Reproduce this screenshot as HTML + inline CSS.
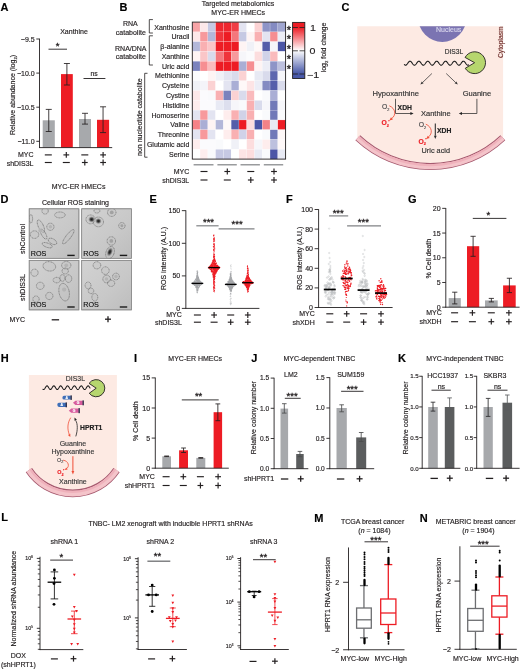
<!DOCTYPE html>
<html lang="en"><head><meta charset="utf-8"><title>Figure</title>
<style>
html,body{margin:0;padding:0;background:#fff;}
body{width:520px;height:669px;overflow:hidden;}
svg{display:block;font-family:"Liberation Sans", Arial, Helvetica, sans-serif;}
svg text{white-space:pre;}
</style></head><body>
<svg width="520" height="669" viewBox="0 0 520 669">
<rect width="520" height="669" fill="#ffffff"/>
<g id="panelA">
<text x="0.60" y="10.86" font-size="11" text-anchor="start" font-weight="bold" fill="#000" stroke="#000" stroke-width="0.16" >A</text>
<text x="74.00" y="34.32" font-size="7" text-anchor="middle" fill="#231f20" stroke="#231f20" stroke-width="0.16" >Xanthine</text>
<rect x="42.70" y="120.30" width="12.10" height="27.30" fill="#a7a9ac"/>
<line x1="48.75" y1="109.40" x2="48.75" y2="131.50" stroke="#231f20" stroke-width="0.85" stroke-linecap="butt"/>
<line x1="45.75" y1="109.40" x2="51.75" y2="109.40" stroke="#231f20" stroke-width="0.85" stroke-linecap="butt"/>
<line x1="45.75" y1="131.50" x2="51.75" y2="131.50" stroke="#231f20" stroke-width="0.85" stroke-linecap="butt"/>
<rect x="61.00" y="74.10" width="11.80" height="73.50" fill="#ed1c24"/>
<line x1="66.90" y1="63.50" x2="66.90" y2="85.00" stroke="#231f20" stroke-width="0.85" stroke-linecap="butt"/>
<line x1="63.90" y1="63.50" x2="69.90" y2="63.50" stroke="#231f20" stroke-width="0.85" stroke-linecap="butt"/>
<line x1="63.90" y1="85.00" x2="69.90" y2="85.00" stroke="#231f20" stroke-width="0.85" stroke-linecap="butt"/>
<rect x="79.00" y="119.00" width="12.00" height="28.60" fill="#a7a9ac"/>
<line x1="85.00" y1="113.30" x2="85.00" y2="124.10" stroke="#231f20" stroke-width="0.85" stroke-linecap="butt"/>
<line x1="82.00" y1="113.30" x2="88.00" y2="113.30" stroke="#231f20" stroke-width="0.85" stroke-linecap="butt"/>
<line x1="82.00" y1="124.10" x2="88.00" y2="124.10" stroke="#231f20" stroke-width="0.85" stroke-linecap="butt"/>
<rect x="97.00" y="119.80" width="12.10" height="27.80" fill="#ed1c24"/>
<line x1="103.05" y1="106.80" x2="103.05" y2="132.60" stroke="#231f20" stroke-width="0.85" stroke-linecap="butt"/>
<line x1="100.05" y1="106.80" x2="106.05" y2="106.80" stroke="#231f20" stroke-width="0.85" stroke-linecap="butt"/>
<line x1="100.05" y1="132.60" x2="106.05" y2="132.60" stroke="#231f20" stroke-width="0.85" stroke-linecap="butt"/>
<line x1="39.50" y1="38.65" x2="39.50" y2="147.95" stroke="#231f20" stroke-width="0.9" stroke-linecap="butt"/>
<line x1="36.30" y1="39.00" x2="39.50" y2="39.00" stroke="#231f20" stroke-width="0.9" stroke-linecap="butt"/>
<text x="34.70" y="41.52" font-size="7" text-anchor="end" fill="#231f20" stroke="#231f20" stroke-width="0.16" >−9.5</text>
<line x1="36.30" y1="73.10" x2="39.50" y2="73.10" stroke="#231f20" stroke-width="0.9" stroke-linecap="butt"/>
<text x="34.70" y="75.62" font-size="7" text-anchor="end" fill="#231f20" stroke="#231f20" stroke-width="0.16" >−10.0</text>
<line x1="36.30" y1="107.20" x2="39.50" y2="107.20" stroke="#231f20" stroke-width="0.9" stroke-linecap="butt"/>
<text x="34.70" y="109.72" font-size="7" text-anchor="end" fill="#231f20" stroke="#231f20" stroke-width="0.16" >−10.5</text>
<line x1="36.30" y1="141.30" x2="39.50" y2="141.30" stroke="#231f20" stroke-width="0.9" stroke-linecap="butt"/>
<text x="34.70" y="143.82" font-size="7" text-anchor="end" fill="#231f20" stroke="#231f20" stroke-width="0.16" >−11.0</text>
<line x1="39.05" y1="147.60" x2="112.20" y2="147.60" stroke="#231f20" stroke-width="0.9" stroke-linecap="butt"/>
<text x="57.70" y="49.07" font-size="9.5" text-anchor="middle" fill="#231f20" stroke="#231f20" stroke-width="0.32">*</text>
<line x1="48.50" y1="49.20" x2="67.00" y2="49.20" stroke="#231f20" stroke-width="0.9" stroke-linecap="butt"/>
<text x="94.20" y="76.25" font-size="6.8" text-anchor="middle" fill="#231f20" stroke="#231f20" stroke-width="0.16" >ns</text>
<line x1="83.50" y1="78.50" x2="105.40" y2="78.50" stroke="#231f20" stroke-width="0.9" stroke-linecap="butt"/>
<text x="33.50" y="156.82" font-size="7" text-anchor="end" fill="#231f20" stroke="#231f20" stroke-width="0.16" >MYC</text>
<text x="33.50" y="165.52" font-size="7" text-anchor="end" fill="#231f20" stroke="#231f20" stroke-width="0.16" >shDIS3L</text>
<line x1="44.80" y1="154.90" x2="51.80" y2="154.90" stroke="#231f20" stroke-width="1.15" stroke-linecap="butt"/>
<line x1="63.40" y1="154.90" x2="69.20" y2="154.90" stroke="#231f20" stroke-width="1.15" stroke-linecap="butt"/>
<line x1="66.30" y1="152.00" x2="66.30" y2="157.80" stroke="#231f20" stroke-width="1.15" stroke-linecap="butt"/>
<line x1="81.30" y1="154.90" x2="88.30" y2="154.90" stroke="#231f20" stroke-width="1.15" stroke-linecap="butt"/>
<line x1="100.20" y1="154.90" x2="106.00" y2="154.90" stroke="#231f20" stroke-width="1.15" stroke-linecap="butt"/>
<line x1="103.10" y1="152.00" x2="103.10" y2="157.80" stroke="#231f20" stroke-width="1.15" stroke-linecap="butt"/>
<line x1="44.80" y1="162.50" x2="51.80" y2="162.50" stroke="#231f20" stroke-width="1.15" stroke-linecap="butt"/>
<line x1="62.80" y1="162.50" x2="69.80" y2="162.50" stroke="#231f20" stroke-width="1.15" stroke-linecap="butt"/>
<line x1="81.90" y1="162.50" x2="87.70" y2="162.50" stroke="#231f20" stroke-width="1.15" stroke-linecap="butt"/>
<line x1="84.80" y1="159.60" x2="84.80" y2="165.40" stroke="#231f20" stroke-width="1.15" stroke-linecap="butt"/>
<line x1="100.20" y1="162.50" x2="106.00" y2="162.50" stroke="#231f20" stroke-width="1.15" stroke-linecap="butt"/>
<line x1="103.10" y1="159.60" x2="103.10" y2="165.40" stroke="#231f20" stroke-width="1.15" stroke-linecap="butt"/>
<text transform="translate(12.60,95.00) rotate(-90)" x="0" y="2.52" font-size="7" text-anchor="middle" fill="#231f20" stroke="#231f20" stroke-width="0.16" >Relative abundance (log<tspan font-size="4.2" dy="1.4">2</tspan><tspan dy="-1.4">)</tspan></text>
</g>
<g id="panelB">
<text x="119.40" y="10.96" font-size="11" text-anchor="start" font-weight="bold" fill="#000" stroke="#000" stroke-width="0.16" >B</text>
<text x="238.00" y="6.22" font-size="7" text-anchor="middle" fill="#231f20" stroke="#231f20" stroke-width="0.16" >Targeted metabolomics</text>
<text x="238.20" y="14.72" font-size="7" text-anchor="middle" fill="#231f20" stroke="#231f20" stroke-width="0.16" >MYC-ER HMECs</text>
<rect x="192.30" y="22.10" width="7.83" height="9.84" fill="#f8a4a7" stroke="#ffffff" stroke-opacity="0.55" stroke-width="0.35"/>
<rect x="200.08" y="22.10" width="7.83" height="9.84" fill="#fde8e9" stroke="#ffffff" stroke-opacity="0.55" stroke-width="0.35"/>
<rect x="207.85" y="22.10" width="7.83" height="9.84" fill="#c6c9e3" stroke="#ffffff" stroke-opacity="0.55" stroke-width="0.35"/>
<rect x="215.62" y="22.10" width="7.83" height="9.84" fill="#ee272f" stroke="#ffffff" stroke-opacity="0.55" stroke-width="0.35"/>
<rect x="223.40" y="22.10" width="7.83" height="9.84" fill="#ee272f" stroke="#ffffff" stroke-opacity="0.55" stroke-width="0.35"/>
<rect x="231.18" y="22.10" width="7.83" height="9.84" fill="#f03e45" stroke="#ffffff" stroke-opacity="0.55" stroke-width="0.35"/>
<rect x="238.95" y="22.10" width="7.83" height="9.84" fill="#e3e4f1" stroke="#ffffff" stroke-opacity="0.55" stroke-width="0.35"/>
<rect x="246.73" y="22.10" width="7.83" height="9.84" fill="#ffffff" stroke="#ffffff" stroke-opacity="0.55" stroke-width="0.35"/>
<rect x="254.50" y="22.10" width="7.83" height="9.84" fill="#fbd2d3" stroke="#ffffff" stroke-opacity="0.55" stroke-width="0.35"/>
<rect x="262.28" y="22.10" width="7.83" height="9.84" fill="#8e94c7" stroke="#ffffff" stroke-opacity="0.55" stroke-width="0.35"/>
<rect x="270.05" y="22.10" width="7.83" height="9.84" fill="#848bc2" stroke="#ffffff" stroke-opacity="0.55" stroke-width="0.35"/>
<rect x="277.83" y="22.10" width="7.83" height="9.84" fill="#a0a6d0" stroke="#ffffff" stroke-opacity="0.55" stroke-width="0.35"/>
<text x="189.30" y="29.51" font-size="7" text-anchor="end" fill="#231f20" stroke="#231f20" stroke-width="0.16" >Xanthosine</text>
<rect x="192.30" y="31.89" width="7.83" height="9.84" fill="#fde8e9" stroke="#ffffff" stroke-opacity="0.55" stroke-width="0.35"/>
<rect x="200.08" y="31.89" width="7.83" height="9.84" fill="#f7999c" stroke="#ffffff" stroke-opacity="0.55" stroke-width="0.35"/>
<rect x="207.85" y="31.89" width="7.83" height="9.84" fill="#b3b7d9" stroke="#ffffff" stroke-opacity="0.55" stroke-width="0.35"/>
<rect x="215.62" y="31.89" width="7.83" height="9.84" fill="#ef333a" stroke="#ffffff" stroke-opacity="0.55" stroke-width="0.35"/>
<rect x="223.40" y="31.89" width="7.83" height="9.84" fill="#ed1c24" stroke="#ffffff" stroke-opacity="0.55" stroke-width="0.35"/>
<rect x="231.18" y="31.89" width="7.83" height="9.84" fill="#f4777c" stroke="#ffffff" stroke-opacity="0.55" stroke-width="0.35"/>
<rect x="238.95" y="31.89" width="7.83" height="9.84" fill="#c6c9e3" stroke="#ffffff" stroke-opacity="0.55" stroke-width="0.35"/>
<rect x="246.73" y="31.89" width="7.83" height="9.84" fill="#fef4f4" stroke="#ffffff" stroke-opacity="0.55" stroke-width="0.35"/>
<rect x="254.50" y="31.89" width="7.83" height="9.84" fill="#f9b0b2" stroke="#ffffff" stroke-opacity="0.55" stroke-width="0.35"/>
<rect x="262.28" y="31.89" width="7.83" height="9.84" fill="#e3e4f1" stroke="#ffffff" stroke-opacity="0.55" stroke-width="0.35"/>
<rect x="270.05" y="31.89" width="7.83" height="9.84" fill="#f68e92" stroke="#ffffff" stroke-opacity="0.55" stroke-width="0.35"/>
<rect x="277.83" y="31.89" width="7.83" height="9.84" fill="#ecedf6" stroke="#ffffff" stroke-opacity="0.55" stroke-width="0.35"/>
<text x="189.30" y="39.30" font-size="7" text-anchor="end" fill="#231f20" stroke="#231f20" stroke-width="0.16" >Uracil</text>
<rect x="192.30" y="41.67" width="7.83" height="9.84" fill="#b3b7d9" stroke="#ffffff" stroke-opacity="0.55" stroke-width="0.35"/>
<rect x="200.08" y="41.67" width="7.83" height="9.84" fill="#f9b0b2" stroke="#ffffff" stroke-opacity="0.55" stroke-width="0.35"/>
<rect x="207.85" y="41.67" width="7.83" height="9.84" fill="#fac6c8" stroke="#ffffff" stroke-opacity="0.55" stroke-width="0.35"/>
<rect x="215.62" y="41.67" width="7.83" height="9.84" fill="#ed1c24" stroke="#ffffff" stroke-opacity="0.55" stroke-width="0.35"/>
<rect x="223.40" y="41.67" width="7.83" height="9.84" fill="#ed1c24" stroke="#ffffff" stroke-opacity="0.55" stroke-width="0.35"/>
<rect x="231.18" y="41.67" width="7.83" height="9.84" fill="#ed1c24" stroke="#ffffff" stroke-opacity="0.55" stroke-width="0.35"/>
<rect x="238.95" y="41.67" width="7.83" height="9.84" fill="#fef4f4" stroke="#ffffff" stroke-opacity="0.55" stroke-width="0.35"/>
<rect x="246.73" y="41.67" width="7.83" height="9.84" fill="#f0f1f7" stroke="#ffffff" stroke-opacity="0.55" stroke-width="0.35"/>
<rect x="254.50" y="41.67" width="7.83" height="9.84" fill="#fef8f8" stroke="#ffffff" stroke-opacity="0.55" stroke-width="0.35"/>
<rect x="262.28" y="41.67" width="7.83" height="9.84" fill="#555eaa" stroke="#ffffff" stroke-opacity="0.55" stroke-width="0.35"/>
<rect x="270.05" y="41.67" width="7.83" height="9.84" fill="#f6f6fa" stroke="#ffffff" stroke-opacity="0.55" stroke-width="0.35"/>
<rect x="277.83" y="41.67" width="7.83" height="9.84" fill="#4b55a6" stroke="#ffffff" stroke-opacity="0.55" stroke-width="0.35"/>
<text x="189.30" y="49.08" font-size="7" text-anchor="end" fill="#231f20" stroke="#231f20" stroke-width="0.16" >β-alanine</text>
<rect x="192.30" y="51.46" width="7.83" height="9.84" fill="#fef4f4" stroke="#ffffff" stroke-opacity="0.55" stroke-width="0.35"/>
<rect x="200.08" y="51.46" width="7.83" height="9.84" fill="#fac6c8" stroke="#ffffff" stroke-opacity="0.55" stroke-width="0.35"/>
<rect x="207.85" y="51.46" width="7.83" height="9.84" fill="#d9dbec" stroke="#ffffff" stroke-opacity="0.55" stroke-width="0.35"/>
<rect x="215.62" y="51.46" width="7.83" height="9.84" fill="#f4777c" stroke="#ffffff" stroke-opacity="0.55" stroke-width="0.35"/>
<rect x="223.40" y="51.46" width="7.83" height="9.84" fill="#ef333a" stroke="#ffffff" stroke-opacity="0.55" stroke-width="0.35"/>
<rect x="231.18" y="51.46" width="7.83" height="9.84" fill="#f7999c" stroke="#ffffff" stroke-opacity="0.55" stroke-width="0.35"/>
<rect x="238.95" y="51.46" width="7.83" height="9.84" fill="#f6f6fa" stroke="#ffffff" stroke-opacity="0.55" stroke-width="0.35"/>
<rect x="246.73" y="51.46" width="7.83" height="9.84" fill="#fbfbfd" stroke="#ffffff" stroke-opacity="0.55" stroke-width="0.35"/>
<rect x="254.50" y="51.46" width="7.83" height="9.84" fill="#fcddde" stroke="#ffffff" stroke-opacity="0.55" stroke-width="0.35"/>
<rect x="262.28" y="51.46" width="7.83" height="9.84" fill="#d0d2e8" stroke="#ffffff" stroke-opacity="0.55" stroke-width="0.35"/>
<rect x="270.05" y="51.46" width="7.83" height="9.84" fill="#fabbbd" stroke="#ffffff" stroke-opacity="0.55" stroke-width="0.35"/>
<rect x="277.83" y="51.46" width="7.83" height="9.84" fill="#ffffff" stroke="#ffffff" stroke-opacity="0.55" stroke-width="0.35"/>
<text x="189.30" y="58.87" font-size="7" text-anchor="end" fill="#231f20" stroke="#231f20" stroke-width="0.16" >Xanthine</text>
<rect x="192.30" y="61.24" width="7.83" height="9.84" fill="#7b82bd" stroke="#ffffff" stroke-opacity="0.55" stroke-width="0.35"/>
<rect x="200.08" y="61.24" width="7.83" height="9.84" fill="#f68e92" stroke="#ffffff" stroke-opacity="0.55" stroke-width="0.35"/>
<rect x="207.85" y="61.24" width="7.83" height="9.84" fill="#fabbbd" stroke="#ffffff" stroke-opacity="0.55" stroke-width="0.35"/>
<rect x="215.62" y="61.24" width="7.83" height="9.84" fill="#ed1c24" stroke="#ffffff" stroke-opacity="0.55" stroke-width="0.35"/>
<rect x="223.40" y="61.24" width="7.83" height="9.84" fill="#ed1c24" stroke="#ffffff" stroke-opacity="0.55" stroke-width="0.35"/>
<rect x="231.18" y="61.24" width="7.83" height="9.84" fill="#ed1c24" stroke="#ffffff" stroke-opacity="0.55" stroke-width="0.35"/>
<rect x="238.95" y="61.24" width="7.83" height="9.84" fill="#aaaed5" stroke="#ffffff" stroke-opacity="0.55" stroke-width="0.35"/>
<rect x="246.73" y="61.24" width="7.83" height="9.84" fill="#f68e92" stroke="#ffffff" stroke-opacity="0.55" stroke-width="0.35"/>
<rect x="254.50" y="61.24" width="7.83" height="9.84" fill="#fef4f4" stroke="#ffffff" stroke-opacity="0.55" stroke-width="0.35"/>
<rect x="262.28" y="61.24" width="7.83" height="9.84" fill="#ecedf6" stroke="#ffffff" stroke-opacity="0.55" stroke-width="0.35"/>
<rect x="270.05" y="61.24" width="7.83" height="9.84" fill="#8e94c7" stroke="#ffffff" stroke-opacity="0.55" stroke-width="0.35"/>
<rect x="277.83" y="61.24" width="7.83" height="9.84" fill="#bdc0de" stroke="#ffffff" stroke-opacity="0.55" stroke-width="0.35"/>
<text x="189.30" y="68.66" font-size="7" text-anchor="end" fill="#231f20" stroke="#231f20" stroke-width="0.16" >Uric acid</text>
<rect x="192.30" y="71.03" width="7.83" height="9.84" fill="#fbfbfd" stroke="#ffffff" stroke-opacity="0.55" stroke-width="0.35"/>
<rect x="200.08" y="71.03" width="7.83" height="9.84" fill="#ffffff" stroke="#ffffff" stroke-opacity="0.55" stroke-width="0.35"/>
<rect x="207.85" y="71.03" width="7.83" height="9.84" fill="#fef4f4" stroke="#ffffff" stroke-opacity="0.55" stroke-width="0.35"/>
<rect x="215.62" y="71.03" width="7.83" height="9.84" fill="#f0f1f7" stroke="#ffffff" stroke-opacity="0.55" stroke-width="0.35"/>
<rect x="223.40" y="71.03" width="7.83" height="9.84" fill="#e3e4f1" stroke="#ffffff" stroke-opacity="0.55" stroke-width="0.35"/>
<rect x="231.18" y="71.03" width="7.83" height="9.84" fill="#d9dbec" stroke="#ffffff" stroke-opacity="0.55" stroke-width="0.35"/>
<rect x="238.95" y="71.03" width="7.83" height="9.84" fill="#fbd2d3" stroke="#ffffff" stroke-opacity="0.55" stroke-width="0.35"/>
<rect x="246.73" y="71.03" width="7.83" height="9.84" fill="#ffffff" stroke="#ffffff" stroke-opacity="0.55" stroke-width="0.35"/>
<rect x="254.50" y="71.03" width="7.83" height="9.84" fill="#e8eaf4" stroke="#ffffff" stroke-opacity="0.55" stroke-width="0.35"/>
<rect x="262.28" y="71.03" width="7.83" height="9.84" fill="#d9dbec" stroke="#ffffff" stroke-opacity="0.55" stroke-width="0.35"/>
<rect x="270.05" y="71.03" width="7.83" height="9.84" fill="#5e67af" stroke="#ffffff" stroke-opacity="0.55" stroke-width="0.35"/>
<rect x="277.83" y="71.03" width="7.83" height="9.84" fill="#f6f6fa" stroke="#ffffff" stroke-opacity="0.55" stroke-width="0.35"/>
<text x="189.30" y="78.44" font-size="7" text-anchor="end" fill="#231f20" stroke="#231f20" stroke-width="0.16" >Methionine</text>
<rect x="192.30" y="80.81" width="7.83" height="9.84" fill="#f0f1f7" stroke="#ffffff" stroke-opacity="0.55" stroke-width="0.35"/>
<rect x="200.08" y="80.81" width="7.83" height="9.84" fill="#f4f4f9" stroke="#ffffff" stroke-opacity="0.55" stroke-width="0.35"/>
<rect x="207.85" y="80.81" width="7.83" height="9.84" fill="#fbd2d3" stroke="#ffffff" stroke-opacity="0.55" stroke-width="0.35"/>
<rect x="215.62" y="80.81" width="7.83" height="9.84" fill="#ffffff" stroke="#ffffff" stroke-opacity="0.55" stroke-width="0.35"/>
<rect x="223.40" y="80.81" width="7.83" height="9.84" fill="#e3e4f1" stroke="#ffffff" stroke-opacity="0.55" stroke-width="0.35"/>
<rect x="231.18" y="80.81" width="7.83" height="9.84" fill="#aaaed5" stroke="#ffffff" stroke-opacity="0.55" stroke-width="0.35"/>
<rect x="238.95" y="80.81" width="7.83" height="9.84" fill="#fef8f8" stroke="#ffffff" stroke-opacity="0.55" stroke-width="0.35"/>
<rect x="246.73" y="80.81" width="7.83" height="9.84" fill="#fde4e5" stroke="#ffffff" stroke-opacity="0.55" stroke-width="0.35"/>
<rect x="254.50" y="80.81" width="7.83" height="9.84" fill="#ecedf6" stroke="#ffffff" stroke-opacity="0.55" stroke-width="0.35"/>
<rect x="262.28" y="80.81" width="7.83" height="9.84" fill="#848bc2" stroke="#ffffff" stroke-opacity="0.55" stroke-width="0.35"/>
<rect x="270.05" y="80.81" width="7.83" height="9.84" fill="#555eaa" stroke="#ffffff" stroke-opacity="0.55" stroke-width="0.35"/>
<rect x="277.83" y="80.81" width="7.83" height="9.84" fill="#d9dbec" stroke="#ffffff" stroke-opacity="0.55" stroke-width="0.35"/>
<text x="189.30" y="88.23" font-size="7" text-anchor="end" fill="#231f20" stroke="#231f20" stroke-width="0.16" >Cysteine</text>
<rect x="192.30" y="90.60" width="7.83" height="9.84" fill="#fde8e9" stroke="#ffffff" stroke-opacity="0.55" stroke-width="0.35"/>
<rect x="200.08" y="90.60" width="7.83" height="9.84" fill="#fbfbfd" stroke="#ffffff" stroke-opacity="0.55" stroke-width="0.35"/>
<rect x="207.85" y="90.60" width="7.83" height="9.84" fill="#f9fafc" stroke="#ffffff" stroke-opacity="0.55" stroke-width="0.35"/>
<rect x="215.62" y="90.60" width="7.83" height="9.84" fill="#f9b0b2" stroke="#ffffff" stroke-opacity="0.55" stroke-width="0.35"/>
<rect x="223.40" y="90.60" width="7.83" height="9.84" fill="#7b82bd" stroke="#ffffff" stroke-opacity="0.55" stroke-width="0.35"/>
<rect x="231.18" y="90.60" width="7.83" height="9.84" fill="#fbd2d3" stroke="#ffffff" stroke-opacity="0.55" stroke-width="0.35"/>
<rect x="238.95" y="90.60" width="7.83" height="9.84" fill="#d9dbec" stroke="#ffffff" stroke-opacity="0.55" stroke-width="0.35"/>
<rect x="246.73" y="90.60" width="7.83" height="9.84" fill="#fabbbd" stroke="#ffffff" stroke-opacity="0.55" stroke-width="0.35"/>
<rect x="254.50" y="90.60" width="7.83" height="9.84" fill="#ffffff" stroke="#ffffff" stroke-opacity="0.55" stroke-width="0.35"/>
<rect x="262.28" y="90.60" width="7.83" height="9.84" fill="#f9fafc" stroke="#ffffff" stroke-opacity="0.55" stroke-width="0.35"/>
<rect x="270.05" y="90.60" width="7.83" height="9.84" fill="#aaaed5" stroke="#ffffff" stroke-opacity="0.55" stroke-width="0.35"/>
<rect x="277.83" y="90.60" width="7.83" height="9.84" fill="#ffffff" stroke="#ffffff" stroke-opacity="0.55" stroke-width="0.35"/>
<text x="189.30" y="98.01" font-size="7" text-anchor="end" fill="#231f20" stroke="#231f20" stroke-width="0.16" >Cystine</text>
<rect x="192.30" y="100.39" width="7.83" height="9.84" fill="#feeded" stroke="#ffffff" stroke-opacity="0.55" stroke-width="0.35"/>
<rect x="200.08" y="100.39" width="7.83" height="9.84" fill="#fbfbfd" stroke="#ffffff" stroke-opacity="0.55" stroke-width="0.35"/>
<rect x="207.85" y="100.39" width="7.83" height="9.84" fill="#fbfbfd" stroke="#ffffff" stroke-opacity="0.55" stroke-width="0.35"/>
<rect x="215.62" y="100.39" width="7.83" height="9.84" fill="#e8eaf4" stroke="#ffffff" stroke-opacity="0.55" stroke-width="0.35"/>
<rect x="223.40" y="100.39" width="7.83" height="9.84" fill="#dddfee" stroke="#ffffff" stroke-opacity="0.55" stroke-width="0.35"/>
<rect x="231.18" y="100.39" width="7.83" height="9.84" fill="#f6f6fa" stroke="#ffffff" stroke-opacity="0.55" stroke-width="0.35"/>
<rect x="238.95" y="100.39" width="7.83" height="9.84" fill="#f9fafc" stroke="#ffffff" stroke-opacity="0.55" stroke-width="0.35"/>
<rect x="246.73" y="100.39" width="7.83" height="9.84" fill="#f9b0b2" stroke="#ffffff" stroke-opacity="0.55" stroke-width="0.35"/>
<rect x="254.50" y="100.39" width="7.83" height="9.84" fill="#d9dbec" stroke="#ffffff" stroke-opacity="0.55" stroke-width="0.35"/>
<rect x="262.28" y="100.39" width="7.83" height="9.84" fill="#f6f6fa" stroke="#ffffff" stroke-opacity="0.55" stroke-width="0.35"/>
<rect x="270.05" y="100.39" width="7.83" height="9.84" fill="#7179b8" stroke="#ffffff" stroke-opacity="0.55" stroke-width="0.35"/>
<rect x="277.83" y="100.39" width="7.83" height="9.84" fill="#f6f6fa" stroke="#ffffff" stroke-opacity="0.55" stroke-width="0.35"/>
<text x="189.30" y="107.80" font-size="7" text-anchor="end" fill="#231f20" stroke="#231f20" stroke-width="0.16" >Histidine</text>
<rect x="192.30" y="110.17" width="7.83" height="9.84" fill="#e3e4f1" stroke="#ffffff" stroke-opacity="0.55" stroke-width="0.35"/>
<rect x="200.08" y="110.17" width="7.83" height="9.84" fill="#f7999c" stroke="#ffffff" stroke-opacity="0.55" stroke-width="0.35"/>
<rect x="207.85" y="110.17" width="7.83" height="9.84" fill="#e3e4f1" stroke="#ffffff" stroke-opacity="0.55" stroke-width="0.35"/>
<rect x="215.62" y="110.17" width="7.83" height="9.84" fill="#ffffff" stroke="#ffffff" stroke-opacity="0.55" stroke-width="0.35"/>
<rect x="223.40" y="110.17" width="7.83" height="9.84" fill="#feeded" stroke="#ffffff" stroke-opacity="0.55" stroke-width="0.35"/>
<rect x="231.18" y="110.17" width="7.83" height="9.84" fill="#f9b0b2" stroke="#ffffff" stroke-opacity="0.55" stroke-width="0.35"/>
<rect x="238.95" y="110.17" width="7.83" height="9.84" fill="#d0d2e8" stroke="#ffffff" stroke-opacity="0.55" stroke-width="0.35"/>
<rect x="246.73" y="110.17" width="7.83" height="9.84" fill="#f9b0b2" stroke="#ffffff" stroke-opacity="0.55" stroke-width="0.35"/>
<rect x="254.50" y="110.17" width="7.83" height="9.84" fill="#ffffff" stroke="#ffffff" stroke-opacity="0.55" stroke-width="0.35"/>
<rect x="262.28" y="110.17" width="7.83" height="9.84" fill="#f9fafc" stroke="#ffffff" stroke-opacity="0.55" stroke-width="0.35"/>
<rect x="270.05" y="110.17" width="7.83" height="9.84" fill="#7179b8" stroke="#ffffff" stroke-opacity="0.55" stroke-width="0.35"/>
<rect x="277.83" y="110.17" width="7.83" height="9.84" fill="#fbfbfd" stroke="#ffffff" stroke-opacity="0.55" stroke-width="0.35"/>
<text x="189.30" y="117.58" font-size="7" text-anchor="end" fill="#231f20" stroke="#231f20" stroke-width="0.16" >Homoserine</text>
<rect x="192.30" y="119.96" width="7.83" height="9.84" fill="#f58287" stroke="#ffffff" stroke-opacity="0.55" stroke-width="0.35"/>
<rect x="200.08" y="119.96" width="7.83" height="9.84" fill="#aaaed5" stroke="#ffffff" stroke-opacity="0.55" stroke-width="0.35"/>
<rect x="207.85" y="119.96" width="7.83" height="9.84" fill="#fef4f4" stroke="#ffffff" stroke-opacity="0.55" stroke-width="0.35"/>
<rect x="215.62" y="119.96" width="7.83" height="9.84" fill="#b3b7d9" stroke="#ffffff" stroke-opacity="0.55" stroke-width="0.35"/>
<rect x="223.40" y="119.96" width="7.83" height="9.84" fill="#fef8f8" stroke="#ffffff" stroke-opacity="0.55" stroke-width="0.35"/>
<rect x="231.18" y="119.96" width="7.83" height="9.84" fill="#555eaa" stroke="#ffffff" stroke-opacity="0.55" stroke-width="0.35"/>
<rect x="238.95" y="119.96" width="7.83" height="9.84" fill="#ed1c24" stroke="#ffffff" stroke-opacity="0.55" stroke-width="0.35"/>
<rect x="246.73" y="119.96" width="7.83" height="9.84" fill="#fcddde" stroke="#ffffff" stroke-opacity="0.55" stroke-width="0.35"/>
<rect x="254.50" y="119.96" width="7.83" height="9.84" fill="#4b55a6" stroke="#ffffff" stroke-opacity="0.55" stroke-width="0.35"/>
<rect x="262.28" y="119.96" width="7.83" height="9.84" fill="#f58287" stroke="#ffffff" stroke-opacity="0.55" stroke-width="0.35"/>
<rect x="270.05" y="119.96" width="7.83" height="9.84" fill="#e8eaf4" stroke="#ffffff" stroke-opacity="0.55" stroke-width="0.35"/>
<rect x="277.83" y="119.96" width="7.83" height="9.84" fill="#ed1c24" stroke="#ffffff" stroke-opacity="0.55" stroke-width="0.35"/>
<text x="189.30" y="127.37" font-size="7" text-anchor="end" fill="#231f20" stroke="#231f20" stroke-width="0.16" >Valine</text>
<rect x="192.30" y="129.74" width="7.83" height="9.84" fill="#e3e4f1" stroke="#ffffff" stroke-opacity="0.55" stroke-width="0.35"/>
<rect x="200.08" y="129.74" width="7.83" height="9.84" fill="#f7999c" stroke="#ffffff" stroke-opacity="0.55" stroke-width="0.35"/>
<rect x="207.85" y="129.74" width="7.83" height="9.84" fill="#e3e4f1" stroke="#ffffff" stroke-opacity="0.55" stroke-width="0.35"/>
<rect x="215.62" y="129.74" width="7.83" height="9.84" fill="#ffffff" stroke="#ffffff" stroke-opacity="0.55" stroke-width="0.35"/>
<rect x="223.40" y="129.74" width="7.83" height="9.84" fill="#feeded" stroke="#ffffff" stroke-opacity="0.55" stroke-width="0.35"/>
<rect x="231.18" y="129.74" width="7.83" height="9.84" fill="#f9b0b2" stroke="#ffffff" stroke-opacity="0.55" stroke-width="0.35"/>
<rect x="238.95" y="129.74" width="7.83" height="9.84" fill="#d0d2e8" stroke="#ffffff" stroke-opacity="0.55" stroke-width="0.35"/>
<rect x="246.73" y="129.74" width="7.83" height="9.84" fill="#f9b0b2" stroke="#ffffff" stroke-opacity="0.55" stroke-width="0.35"/>
<rect x="254.50" y="129.74" width="7.83" height="9.84" fill="#ffffff" stroke="#ffffff" stroke-opacity="0.55" stroke-width="0.35"/>
<rect x="262.28" y="129.74" width="7.83" height="9.84" fill="#f9fafc" stroke="#ffffff" stroke-opacity="0.55" stroke-width="0.35"/>
<rect x="270.05" y="129.74" width="7.83" height="9.84" fill="#7179b8" stroke="#ffffff" stroke-opacity="0.55" stroke-width="0.35"/>
<rect x="277.83" y="129.74" width="7.83" height="9.84" fill="#fef8f8" stroke="#ffffff" stroke-opacity="0.55" stroke-width="0.35"/>
<text x="189.30" y="137.16" font-size="7" text-anchor="end" fill="#231f20" stroke="#231f20" stroke-width="0.16" >Threonine</text>
<rect x="192.30" y="139.53" width="7.83" height="9.84" fill="#feeded" stroke="#ffffff" stroke-opacity="0.55" stroke-width="0.35"/>
<rect x="200.08" y="139.53" width="7.83" height="9.84" fill="#fbfbfd" stroke="#ffffff" stroke-opacity="0.55" stroke-width="0.35"/>
<rect x="207.85" y="139.53" width="7.83" height="9.84" fill="#fbfbfd" stroke="#ffffff" stroke-opacity="0.55" stroke-width="0.35"/>
<rect x="215.62" y="139.53" width="7.83" height="9.84" fill="#f9fafc" stroke="#ffffff" stroke-opacity="0.55" stroke-width="0.35"/>
<rect x="223.40" y="139.53" width="7.83" height="9.84" fill="#ffffff" stroke="#ffffff" stroke-opacity="0.55" stroke-width="0.35"/>
<rect x="231.18" y="139.53" width="7.83" height="9.84" fill="#f0f1f7" stroke="#ffffff" stroke-opacity="0.55" stroke-width="0.35"/>
<rect x="238.95" y="139.53" width="7.83" height="9.84" fill="#ffffff" stroke="#ffffff" stroke-opacity="0.55" stroke-width="0.35"/>
<rect x="246.73" y="139.53" width="7.83" height="9.84" fill="#fcddde" stroke="#ffffff" stroke-opacity="0.55" stroke-width="0.35"/>
<rect x="254.50" y="139.53" width="7.83" height="9.84" fill="#f6f6fa" stroke="#ffffff" stroke-opacity="0.55" stroke-width="0.35"/>
<rect x="262.28" y="139.53" width="7.83" height="9.84" fill="#feeded" stroke="#ffffff" stroke-opacity="0.55" stroke-width="0.35"/>
<rect x="270.05" y="139.53" width="7.83" height="9.84" fill="#bdc0de" stroke="#ffffff" stroke-opacity="0.55" stroke-width="0.35"/>
<rect x="277.83" y="139.53" width="7.83" height="9.84" fill="#fef8f8" stroke="#ffffff" stroke-opacity="0.55" stroke-width="0.35"/>
<text x="189.30" y="146.94" font-size="7" text-anchor="end" fill="#231f20" stroke="#231f20" stroke-width="0.16" >Glutamic acid</text>
<rect x="192.30" y="149.31" width="7.83" height="9.84" fill="#ffffff" stroke="#ffffff" stroke-opacity="0.55" stroke-width="0.35"/>
<rect x="200.08" y="149.31" width="7.83" height="9.84" fill="#feeded" stroke="#ffffff" stroke-opacity="0.55" stroke-width="0.35"/>
<rect x="207.85" y="149.31" width="7.83" height="9.84" fill="#f9fafc" stroke="#ffffff" stroke-opacity="0.55" stroke-width="0.35"/>
<rect x="215.62" y="149.31" width="7.83" height="9.84" fill="#c6c9e3" stroke="#ffffff" stroke-opacity="0.55" stroke-width="0.35"/>
<rect x="223.40" y="149.31" width="7.83" height="9.84" fill="#c6c9e3" stroke="#ffffff" stroke-opacity="0.55" stroke-width="0.35"/>
<rect x="231.18" y="149.31" width="7.83" height="9.84" fill="#ffffff" stroke="#ffffff" stroke-opacity="0.55" stroke-width="0.35"/>
<rect x="238.95" y="149.31" width="7.83" height="9.84" fill="#fde4e5" stroke="#ffffff" stroke-opacity="0.55" stroke-width="0.35"/>
<rect x="246.73" y="149.31" width="7.83" height="9.84" fill="#fcddde" stroke="#ffffff" stroke-opacity="0.55" stroke-width="0.35"/>
<rect x="254.50" y="149.31" width="7.83" height="9.84" fill="#e8eaf4" stroke="#ffffff" stroke-opacity="0.55" stroke-width="0.35"/>
<rect x="262.28" y="149.31" width="7.83" height="9.84" fill="#f9fafc" stroke="#ffffff" stroke-opacity="0.55" stroke-width="0.35"/>
<rect x="270.05" y="149.31" width="7.83" height="9.84" fill="#4b55a6" stroke="#ffffff" stroke-opacity="0.55" stroke-width="0.35"/>
<rect x="277.83" y="149.31" width="7.83" height="9.84" fill="#e8eaf4" stroke="#ffffff" stroke-opacity="0.55" stroke-width="0.35"/>
<text x="189.30" y="156.73" font-size="7" text-anchor="end" fill="#231f20" stroke="#231f20" stroke-width="0.16" >Serine</text>
<rect x="192.3" y="22.1" width="93.30000000000001" height="137.0" fill="none" stroke="#231f20" stroke-width="0.9"/>
<text x="289.00" y="33.64" font-size="11" text-anchor="middle" fill="#231f20" stroke="#231f20" stroke-width="0.32">*</text>
<text x="289.00" y="43.42" font-size="11" text-anchor="middle" fill="#231f20" stroke="#231f20" stroke-width="0.32">*</text>
<text x="289.00" y="53.21" font-size="11" text-anchor="middle" fill="#231f20" stroke="#231f20" stroke-width="0.32">*</text>
<text x="289.00" y="62.99" font-size="11" text-anchor="middle" fill="#231f20" stroke="#231f20" stroke-width="0.32">*</text>
<text x="289.00" y="72.78" font-size="11" text-anchor="middle" fill="#231f20" stroke="#231f20" stroke-width="0.32">*</text>
<path d="M152.90,19.60 H149.30 V33.00 H152.90" fill="none" stroke="#231f20" stroke-width="0.8"/>
<path d="M152.90,35.80 H149.30 V65.00 H152.90" fill="none" stroke="#231f20" stroke-width="0.8"/>
<path d="M147.50,73.30 H144.70 V157.20 H147.50" fill="none" stroke="#231f20" stroke-width="0.8"/>
<text x="130.40" y="26.32" font-size="7" text-anchor="middle" fill="#231f20" stroke="#231f20" stroke-width="0.16" >RNA</text>
<text x="130.80" y="35.22" font-size="7" text-anchor="middle" fill="#231f20" stroke="#231f20" stroke-width="0.16" >catabolite</text>
<text x="130.80" y="50.52" font-size="7" text-anchor="middle" fill="#231f20" stroke="#231f20" stroke-width="0.16" >RNA/DNA</text>
<text x="130.80" y="59.02" font-size="7" text-anchor="middle" fill="#231f20" stroke="#231f20" stroke-width="0.16" >catabolite</text>
<text transform="translate(139.40,117.20) rotate(-90)" x="0" y="2.52" font-size="7" text-anchor="middle" fill="#231f20" stroke="#231f20" stroke-width="0.16" >non nucleotide catabolite</text>
<line x1="193.60" y1="164.80" x2="213.50" y2="164.80" stroke="#808285" stroke-width="1.2" stroke-linecap="butt"/>
<line x1="217.40" y1="164.80" x2="236.80" y2="164.80" stroke="#808285" stroke-width="1.2" stroke-linecap="butt"/>
<line x1="240.50" y1="164.80" x2="259.90" y2="164.80" stroke="#808285" stroke-width="1.2" stroke-linecap="butt"/>
<line x1="263.80" y1="164.80" x2="283.20" y2="164.80" stroke="#808285" stroke-width="1.2" stroke-linecap="butt"/>
<text x="189.20" y="174.02" font-size="7" text-anchor="end" fill="#231f20" stroke="#231f20" stroke-width="0.16" >MYC</text>
<text x="189.20" y="182.52" font-size="7" text-anchor="end" fill="#231f20" stroke="#231f20" stroke-width="0.16" >shDIS3L</text>
<line x1="200.50" y1="171.50" x2="207.50" y2="171.50" stroke="#231f20" stroke-width="1.15" stroke-linecap="butt"/>
<line x1="224.40" y1="171.50" x2="230.20" y2="171.50" stroke="#231f20" stroke-width="1.15" stroke-linecap="butt"/>
<line x1="227.30" y1="168.60" x2="227.30" y2="174.40" stroke="#231f20" stroke-width="1.15" stroke-linecap="butt"/>
<line x1="247.30" y1="171.50" x2="254.30" y2="171.50" stroke="#231f20" stroke-width="1.15" stroke-linecap="butt"/>
<line x1="271.10" y1="171.50" x2="276.90" y2="171.50" stroke="#231f20" stroke-width="1.15" stroke-linecap="butt"/>
<line x1="274.00" y1="168.60" x2="274.00" y2="174.40" stroke="#231f20" stroke-width="1.15" stroke-linecap="butt"/>
<line x1="200.50" y1="180.00" x2="207.50" y2="180.00" stroke="#231f20" stroke-width="1.15" stroke-linecap="butt"/>
<line x1="223.80" y1="180.00" x2="230.80" y2="180.00" stroke="#231f20" stroke-width="1.15" stroke-linecap="butt"/>
<line x1="247.90" y1="180.00" x2="253.70" y2="180.00" stroke="#231f20" stroke-width="1.15" stroke-linecap="butt"/>
<line x1="250.80" y1="177.10" x2="250.80" y2="182.90" stroke="#231f20" stroke-width="1.15" stroke-linecap="butt"/>
<line x1="271.10" y1="180.00" x2="276.90" y2="180.00" stroke="#231f20" stroke-width="1.15" stroke-linecap="butt"/>
<line x1="274.00" y1="177.10" x2="274.00" y2="182.90" stroke="#231f20" stroke-width="1.15" stroke-linecap="butt"/>
<defs><linearGradient id="cb" x1="0" y1="0" x2="0" y2="1"><stop offset="0" stop-color="#ed1c24"/><stop offset="0.09" stop-color="#ed1c24"/><stop offset="0.5" stop-color="#ffffff"/><stop offset="0.91" stop-color="#4758a8"/><stop offset="1" stop-color="#4758a8"/></linearGradient></defs>
<rect x="292.6" y="22.4" width="12.2" height="56.1" fill="url(#cb)" stroke="#231f20" stroke-width="0.9"/>
<line x1="292.6" y1="27.5" x2="304.8" y2="27.5" stroke="#231f20" stroke-width="0.8" stroke-dasharray="5.3,1.6"/>
<line x1="292.6" y1="50.8" x2="304.8" y2="50.8" stroke="#231f20" stroke-width="0.8" stroke-dasharray="5.3,1.6"/>
<line x1="292.6" y1="74.0" x2="304.8" y2="74.0" stroke="#231f20" stroke-width="0.8" stroke-dasharray="5.3,1.6"/>
<text transform="translate(309.9,30.6) scale(1.2,1)" font-size="8.9" fill="#231f20" stroke="#231f20" stroke-width="0.15">1</text>
<text transform="translate(309.5,54.1) scale(1.2,1)" font-size="8.9" fill="#231f20" stroke="#231f20" stroke-width="0.15">0</text>
<text transform="translate(306.9,77.7) scale(1.2,1)" font-size="8.9" fill="#231f20" stroke="#231f20" stroke-width="0.15">−1</text>
<text transform="translate(323.60,47.50) rotate(-90)" x="0" y="2.52" font-size="7" text-anchor="middle" fill="#231f20" stroke="#231f20" stroke-width="0.16" >log<tspan font-size="4.2" dy="1.4">2</tspan><tspan dy="-1.4"> fold change</tspan></text>
</g>
<g id="panelC">
<text x="341.40" y="10.96" font-size="11" text-anchor="start" font-weight="bold" fill="#000" stroke="#000" stroke-width="0.16" >C</text>
<path d="M357.30,26.20 H503.10 V137.50 A105.75,105.75 0 0 1 357.30,137.31 Z" fill="#fdeae3"/>
<clipPath id="clipC"><rect x="357.3" y="26.2" width="145.8" height="60"/></clipPath>
<circle cx="442.3" cy="17.8" r="24.1" fill="#7b74b2" clip-path="url(#clipC)"/>
<text x="448.70" y="32.22" font-size="7" text-anchor="middle" fill="#d9d6ec" stroke="#d9d6ec" stroke-width="0.16" >Nucleus</text>
<text transform="translate(500.40,42.20) rotate(-90)" x="0" y="2.41" font-size="6.7" text-anchor="middle" fill="#70312f" stroke="#70312f" stroke-width="0.16" >Cytoplasm</text>
<path d="M357.77,137.76 A105.75,105.75 0 0 0 502.83,137.76" fill="none" stroke="#a65a6f" stroke-width="7.10"/>
<path d="M357.64,137.91 A105.95,105.95 0 0 0 502.96,137.91" fill="none" stroke="#f4c4ca" stroke-width="5.10"/>
<path d="M358.69,136.79 A104.42,104.42 0 0 0 501.91,136.79" fill="none" stroke="#efb1bb" stroke-width="2.04"/>
<text x="453.90" y="53.69" font-size="6.65" text-anchor="middle" fill="#333" stroke="#333" stroke-width="0.16" >DIS3L</text>
<polyline points="404.40,64.58 404.70,64.85 405.00,65.05 405.30,65.17 405.60,65.20 405.90,65.14 406.20,64.99 406.50,64.77 406.80,64.47 407.10,64.12 407.40,63.72 407.70,63.31 408.00,62.88 408.30,62.48 408.60,62.10 408.90,61.77 409.20,61.51 409.50,61.32 409.80,61.22 410.10,61.20 410.40,61.28 410.70,61.44 411.00,61.68 411.30,61.98 411.60,62.35 411.90,62.75 412.20,63.16 412.50,63.59 412.80,63.99 413.10,64.36 413.40,64.68 413.70,64.93 414.00,65.10 414.30,65.19 414.60,65.19 414.90,65.10 415.20,64.93 415.50,64.68 415.80,64.36 416.10,63.99 416.40,63.59 416.70,63.16 417.00,62.75 417.30,62.35 417.60,61.98 417.90,61.68 418.20,61.44 418.50,61.28 418.80,61.20 419.10,61.22 419.40,61.32 419.70,61.51 420.00,61.77 420.30,62.10 420.60,62.48 420.90,62.88 421.20,63.31 421.50,63.72 421.80,64.12 422.10,64.47 422.40,64.77 422.70,64.99 423.00,65.14 423.30,65.20 423.60,65.17 423.90,65.05 424.20,64.85 424.50,64.58 424.80,64.24 425.10,63.86 425.40,63.45 425.70,63.02 426.00,62.61 426.30,62.22 426.60,61.88 426.90,61.59 427.20,61.38 427.50,61.24 427.80,61.20 428.10,61.24 428.40,61.38 428.70,61.59 429.00,61.88 429.30,62.22 429.60,62.61 429.90,63.02 430.20,63.45 430.50,63.86 430.80,64.24 431.10,64.58 431.40,64.85 431.70,65.05 432.00,65.17 432.30,65.20 432.60,65.14 432.90,64.99 433.20,64.77 433.50,64.47 433.80,64.12 434.10,63.72 434.40,63.31 434.70,62.88 435.00,62.48 435.30,62.10 435.60,61.77 435.90,61.51 436.20,61.32 436.50,61.22 436.80,61.20 437.10,61.28 437.40,61.44 437.70,61.68 438.00,61.98 438.30,62.35 438.60,62.75 438.90,63.16 439.20,63.59 439.50,63.99 439.80,64.36 440.10,64.68 440.40,64.93 440.70,65.10 441.00,65.19 441.30,65.19 441.60,65.10 441.90,64.93 442.20,64.68 442.50,64.36 442.80,63.99 443.10,63.59 443.40,63.16 443.70,62.75 444.00,62.35 444.30,61.98 444.60,61.68 444.90,61.44 445.20,61.28 445.50,61.20 445.80,61.22 446.10,61.32 446.40,61.51 446.70,61.77 447.00,62.10 447.30,62.48 447.60,62.88 447.90,63.31 448.20,63.72 448.50,64.12 448.80,64.47 449.10,64.77 449.40,64.99 449.70,65.14 450.00,65.20 450.30,65.17 450.60,65.05 450.90,64.85 451.20,64.58 451.50,64.24 451.80,63.86 452.10,63.45 452.40,63.02 452.70,62.61 453.00,62.22 453.30,61.88 453.60,61.59 453.90,61.38 454.20,61.24 454.50,61.20 454.80,61.24 455.10,61.38 455.40,61.59 455.70,61.88 456.00,62.22 456.30,62.61 456.60,63.02 456.90,63.45 457.20,63.86 457.50,64.24 457.80,64.58 458.10,64.85 458.40,65.05 458.70,65.17 459.00,65.20 459.30,65.14 459.60,64.99 459.90,64.77 460.20,64.47 460.50,64.12 460.80,63.72 461.10,63.31 461.40,62.88 461.70,62.48 462.00,62.10 462.30,61.77 462.60,61.51 462.90,61.32 463.20,61.22 463.50,61.20 463.80,61.28 464.10,61.44 464.40,61.68 464.70,61.98 465.00,62.35 465.30,62.75 465.60,63.16 465.90,63.59 466.20,63.99 466.50,64.36 466.80,64.68 467.10,64.93 467.40,65.10 467.70,65.19 468.00,65.19 468.30,65.10 468.60,64.93" fill="none" stroke="#1a1a1a" stroke-width="1.1" stroke-linejoin="round" stroke-linecap="round"/>
<path d="M474.60,62.70 L465.07,57.42 A10.9,10.9 0 1 1 465.26,68.31 Z" fill="#b6d66e" stroke="#231f20" stroke-width="0.9" stroke-linejoin="round"/>
<line x1="431.90" y1="73.50" x2="422.70" y2="82.38" stroke="#333" stroke-width="0.75" stroke-linecap="butt"/>
<polygon points="420.40,84.60 421.77,81.41 423.64,83.34" fill="#333"/>
<line x1="446.20" y1="73.50" x2="455.49" y2="82.39" stroke="#333" stroke-width="0.75" stroke-linecap="butt"/>
<polygon points="457.80,84.60 454.56,83.36 456.42,81.42" fill="#333"/>
<text x="395.80" y="95.94" font-size="7.6" text-anchor="middle" fill="#333" stroke="#333" stroke-width="0.16" >Hypoxanthine</text>
<text x="476.90" y="96.10" font-size="7.5" text-anchor="middle" fill="#333" stroke="#333" stroke-width="0.16" >Guanine</text>
<path d="M395.5,98.8 V113.5 H411.2" fill="none" stroke="#333" stroke-width="0.8"/>
<polygon points="413.6,113.5 410.4,112.1 410.4,114.9" fill="#222"/>
<path d="M476.9,98.8 V113.5 H461.2" fill="none" stroke="#333" stroke-width="0.8"/>
<polygon points="458.8,113.5 462.0,112.1 462.0,114.9" fill="#222"/>
<text x="404.80" y="109.75" font-size="6.8" text-anchor="middle" font-weight="bold" fill="#222" stroke="#222" stroke-width="0.16" >XDH</text>
<text x="435.80" y="116.20" font-size="7.5" text-anchor="middle" fill="#333" stroke="#333" stroke-width="0.16" >Xanthine</text>
<text x="385.60" y="108.85" font-size="6.8" text-anchor="middle" fill="#4d4d4f" stroke="#4d4d4f" stroke-width="0.16" >O<tspan font-size="3.8" dy="1.7">2</tspan></text>
<text x="385.60" y="125.45" font-size="6.8" text-anchor="middle" font-weight="bold" fill="#ed1c24" stroke="#ed1c24" stroke-width="0.16" >O<tspan font-size="3.8" dy="1.7">2</tspan><tspan font-size="4" dy="-5.2" dx="-0.6">•</tspan></text>
<path d="M389.3,105.8 C395.6,108.4 396.6,115.2 391.4,118.8" fill="none" stroke="#f04e37" stroke-width="0.85"/>
<polygon points="389.40,120.60 390.97,117.34 392.88,119.62" fill="#f04e37"/>
<line x1="435.30" y1="123.50" x2="435.30" y2="135.80" stroke="#2a2a2a" stroke-width="1.05" stroke-linecap="butt"/>
<polygon points="435.30,139.00 433.96,135.80 436.64,135.80" fill="#2a2a2a"/>
<text x="444.20" y="132.85" font-size="6.8" text-anchor="middle" font-weight="bold" fill="#222" stroke="#222" stroke-width="0.16" >XDH</text>
<text x="422.50" y="127.35" font-size="6.8" text-anchor="middle" fill="#4d4d4f" stroke="#4d4d4f" stroke-width="0.16" >O<tspan font-size="3.8" dy="1.7">2</tspan></text>
<text x="422.50" y="143.75" font-size="6.8" text-anchor="middle" font-weight="bold" fill="#ed1c24" stroke="#ed1c24" stroke-width="0.16" >O<tspan font-size="3.8" dy="1.7">2</tspan><tspan font-size="4" dy="-5.2" dx="-0.6">•</tspan></text>
<path d="M425.8,124.2 C432.1,126.8 433.1,133.6 428.2,137.2" fill="none" stroke="#f04e37" stroke-width="0.85"/>
<polygon points="426.20,139.00 427.77,135.74 429.68,138.02" fill="#f04e37"/>
<text x="435.80" y="152.63" font-size="7.3" text-anchor="middle" fill="#333" stroke="#333" stroke-width="0.16" >Uric acid</text>
</g>
<g id="panelD">
<text x="78.60" y="189.22" font-size="7" text-anchor="middle" fill="#231f20" stroke="#231f20" stroke-width="0.16" >MYC-ER HMECs</text>
<text x="0.60" y="202.66" font-size="11" text-anchor="start" font-weight="bold" fill="#000" stroke="#000" stroke-width="0.16" >D</text>
<text x="75.50" y="205.22" font-size="7" text-anchor="middle" fill="#231f20" stroke="#231f20" stroke-width="0.16" >Cellular ROS staining</text>
<text transform="translate(22.60,239.00) rotate(-90)" x="0" y="2.52" font-size="7" text-anchor="middle" fill="#231f20" stroke="#231f20" stroke-width="0.16" >shControl</text>
<text transform="translate(22.60,287.60) rotate(-90)" x="0" y="2.52" font-size="7" text-anchor="middle" fill="#231f20" stroke="#231f20" stroke-width="0.16" >shDIS3L</text>
<text x="17.30" y="322.12" font-size="7" text-anchor="middle" fill="#231f20" stroke="#231f20" stroke-width="0.16" >MYC</text>
<line x1="51.70" y1="319.80" x2="59.10" y2="319.80" stroke="#231f20" stroke-width="1.3" stroke-linecap="butt"/>
<line x1="105.00" y1="319.20" x2="111.00" y2="319.20" stroke="#231f20" stroke-width="1.3" stroke-linecap="butt"/>
<line x1="108.00" y1="316.20" x2="108.00" y2="322.20" stroke="#231f20" stroke-width="1.3" stroke-linecap="butt"/>
<defs><radialGradient id="blob"><stop offset="0" stop-color="#141414"/><stop offset="0.4" stop-color="#444"/><stop offset="0.75" stop-color="#888" stop-opacity="0.6"/><stop offset="1" stop-color="#aaa" stop-opacity="0"/></radialGradient><filter id="bl" x="-30%" y="-30%" width="160%" height="160%"><feGaussianBlur stdDeviation="0.6"/></filter><linearGradient id="mg" x1="0" y1="0" x2="1" y2="1"><stop offset="0" stop-color="#d2d2d2"/><stop offset="0.6" stop-color="#c8c8c8"/><stop offset="1" stop-color="#bdbdbd"/></linearGradient></defs>
<clipPath id="mp0"><rect x="29.2" y="208.8" width="49.7" height="49.5"/></clipPath>
<rect x="29.20" y="208.80" width="49.70" height="49.50" fill="url(#mg)" stroke="#8a8a8a" stroke-width="0.7"/>
<clipPath id="mp1"><rect x="81.7" y="208.8" width="49.7" height="49.5"/></clipPath>
<rect x="81.70" y="208.80" width="49.70" height="49.50" fill="url(#mg)" stroke="#8a8a8a" stroke-width="0.7"/>
<clipPath id="mp2"><rect x="29.2" y="260.4" width="49.7" height="49.5"/></clipPath>
<rect x="29.20" y="260.40" width="49.70" height="49.50" fill="url(#mg)" stroke="#8a8a8a" stroke-width="0.7"/>
<clipPath id="mp3"><rect x="81.7" y="260.4" width="49.7" height="49.5"/></clipPath>
<rect x="81.70" y="260.40" width="49.70" height="49.50" fill="url(#mg)" stroke="#8a8a8a" stroke-width="0.7"/>
<ellipse cx="59.91" cy="214.94" rx="5.29" ry="2.96" transform="rotate(0 59.91 214.94)" fill="#c4c4c4" fill-opacity="0.35" stroke="#3a3a3a" stroke-width="0.45" stroke-dasharray="1.0,0.55" clip-path="url(#mp0)"/>
<ellipse cx="45.10" cy="210.92" rx="3.17" ry="3.17" transform="rotate(0 45.10 210.92)" fill="#c4c4c4" fill-opacity="0.35" stroke="#3a3a3a" stroke-width="0.45" stroke-dasharray="1.0,0.55" clip-path="url(#mp0)"/>
<ellipse cx="30.92" cy="218.75" rx="1.69" ry="4.23" transform="rotate(0 30.92 218.75)" fill="#c4c4c4" fill-opacity="0.35" stroke="#3a3a3a" stroke-width="0.45" stroke-dasharray="1.0,0.55" clip-path="url(#mp0)"/>
<ellipse cx="40.87" cy="226.16" rx="2.54" ry="6.77" transform="rotate(-25 40.87 226.16)" fill="#c4c4c4" fill-opacity="0.35" stroke="#3a3a3a" stroke-width="0.45" stroke-dasharray="1.0,0.55" clip-path="url(#mp0)"/>
<ellipse cx="50.39" cy="226.79" rx="3.60" ry="3.60" transform="rotate(0 50.39 226.79)" fill="#c4c4c4" fill-opacity="0.35" stroke="#3a3a3a" stroke-width="0.45" stroke-dasharray="1.0,0.55" clip-path="url(#mp0)"/>
<ellipse cx="34.52" cy="234.62" rx="4.23" ry="3.81" transform="rotate(0 34.52 234.62)" fill="#c4c4c4" fill-opacity="0.35" stroke="#3a3a3a" stroke-width="0.45" stroke-dasharray="1.0,0.55" clip-path="url(#mp0)"/>
<ellipse cx="43.62" cy="234.19" rx="2.12" ry="5.50" transform="rotate(-30 43.62 234.19)" fill="#c4c4c4" fill-opacity="0.35" stroke="#3a3a3a" stroke-width="0.45" stroke-dasharray="1.0,0.55" clip-path="url(#mp0)"/>
<ellipse cx="52.50" cy="241.39" rx="4.65" ry="2.54" transform="rotate(30 52.50 241.39)" fill="#c4c4c4" fill-opacity="0.35" stroke="#3a3a3a" stroke-width="0.45" stroke-dasharray="1.0,0.55" clip-path="url(#mp0)"/>
<ellipse cx="47.21" cy="245.19" rx="5.29" ry="2.12" transform="rotate(20 47.21 245.19)" fill="#c4c4c4" fill-opacity="0.35" stroke="#3a3a3a" stroke-width="0.45" stroke-dasharray="1.0,0.55" clip-path="url(#mp0)"/>
<ellipse cx="68.37" cy="236.73" rx="2.33" ry="8.89" transform="rotate(38 68.37 236.73)" fill="#c4c4c4" fill-opacity="0.35" stroke="#3a3a3a" stroke-width="0.45" stroke-dasharray="1.0,0.55" clip-path="url(#mp0)"/>
<ellipse cx="90.58" cy="219.39" rx="4.65" ry="4.44" transform="rotate(0 90.58 219.39)" fill="#c4c4c4" fill-opacity="0.35" stroke="#3a3a3a" stroke-width="0.45" stroke-dasharray="1.0,0.55" clip-path="url(#mp1)"/>
<ellipse cx="98.41" cy="221.92" rx="5.08" ry="4.87" transform="rotate(0 98.41 221.92)" fill="#c4c4c4" fill-opacity="0.35" stroke="#3a3a3a" stroke-width="0.45" stroke-dasharray="1.0,0.55" clip-path="url(#mp1)"/>
<ellipse cx="111.74" cy="212.40" rx="4.23" ry="4.02" transform="rotate(0 111.74 212.40)" fill="#c4c4c4" fill-opacity="0.35" stroke="#3a3a3a" stroke-width="0.45" stroke-dasharray="1.0,0.55" clip-path="url(#mp1)"/>
<ellipse cx="121.89" cy="225.73" rx="3.17" ry="3.17" transform="rotate(0 121.89 225.73)" fill="#c4c4c4" fill-opacity="0.35" stroke="#3a3a3a" stroke-width="0.45" stroke-dasharray="1.0,0.55" clip-path="url(#mp1)"/>
<ellipse cx="111.31" cy="240.96" rx="4.23" ry="4.23" transform="rotate(0 111.31 240.96)" fill="#c4c4c4" fill-opacity="0.35" stroke="#3a3a3a" stroke-width="0.45" stroke-dasharray="1.0,0.55" clip-path="url(#mp1)"/>
<ellipse cx="110.04" cy="252.60" rx="4.02" ry="6.35" transform="rotate(20 110.04 252.60)" fill="#c4c4c4" fill-opacity="0.35" stroke="#3a3a3a" stroke-width="0.45" stroke-dasharray="1.0,0.55" clip-path="url(#mp1)"/>
<ellipse cx="96.93" cy="210.92" rx="2.96" ry="2.12" transform="rotate(0 96.93 210.92)" fill="#c4c4c4" fill-opacity="0.35" stroke="#3a3a3a" stroke-width="0.45" stroke-dasharray="1.0,0.55" clip-path="url(#mp1)"/>
<ellipse cx="49.33" cy="266.35" rx="6.35" ry="4.65" transform="rotate(10 49.33 266.35)" fill="#c4c4c4" fill-opacity="0.35" stroke="#3a3a3a" stroke-width="0.45" stroke-dasharray="1.0,0.55" clip-path="url(#mp2)"/>
<ellipse cx="66.25" cy="265.29" rx="4.65" ry="3.81" transform="rotate(0 66.25 265.29)" fill="#c4c4c4" fill-opacity="0.35" stroke="#3a3a3a" stroke-width="0.45" stroke-dasharray="1.0,0.55" clip-path="url(#mp2)"/>
<ellipse cx="65.19" cy="271.00" rx="3.17" ry="2.96" transform="rotate(0 65.19 271.00)" fill="#c4c4c4" fill-opacity="0.35" stroke="#3a3a3a" stroke-width="0.45" stroke-dasharray="1.0,0.55" clip-path="url(#mp2)"/>
<ellipse cx="34.52" cy="272.70" rx="3.60" ry="3.60" transform="rotate(0 34.52 272.70)" fill="#c4c4c4" fill-opacity="0.35" stroke="#3a3a3a" stroke-width="0.45" stroke-dasharray="1.0,0.55" clip-path="url(#mp2)"/>
<ellipse cx="56.73" cy="280.10" rx="3.60" ry="2.75" transform="rotate(0 56.73 280.10)" fill="#c4c4c4" fill-opacity="0.35" stroke="#3a3a3a" stroke-width="0.45" stroke-dasharray="1.0,0.55" clip-path="url(#mp2)"/>
<ellipse cx="62.44" cy="277.98" rx="2.54" ry="3.38" transform="rotate(0 62.44 277.98)" fill="#c4c4c4" fill-opacity="0.35" stroke="#3a3a3a" stroke-width="0.45" stroke-dasharray="1.0,0.55" clip-path="url(#mp2)"/>
<ellipse cx="68.58" cy="278.62" rx="3.17" ry="3.81" transform="rotate(0 68.58 278.62)" fill="#c4c4c4" fill-opacity="0.35" stroke="#3a3a3a" stroke-width="0.45" stroke-dasharray="1.0,0.55" clip-path="url(#mp2)"/>
<ellipse cx="40.23" cy="285.81" rx="3.81" ry="3.60" transform="rotate(0 40.23 285.81)" fill="#c4c4c4" fill-opacity="0.35" stroke="#3a3a3a" stroke-width="0.45" stroke-dasharray="1.0,0.55" clip-path="url(#mp2)"/>
<ellipse cx="64.14" cy="292.16" rx="5.08" ry="8.89" transform="rotate(-12 64.14 292.16)" fill="#c4c4c4" fill-opacity="0.35" stroke="#3a3a3a" stroke-width="0.45" stroke-dasharray="1.0,0.55" clip-path="url(#mp2)"/>
<ellipse cx="49.33" cy="295.97" rx="3.60" ry="3.60" transform="rotate(0 49.33 295.97)" fill="#c4c4c4" fill-opacity="0.35" stroke="#3a3a3a" stroke-width="0.45" stroke-dasharray="1.0,0.55" clip-path="url(#mp2)"/>
<ellipse cx="36.00" cy="299.14" rx="3.17" ry="3.17" transform="rotate(0 36.00 299.14)" fill="#c4c4c4" fill-opacity="0.35" stroke="#3a3a3a" stroke-width="0.45" stroke-dasharray="1.0,0.55" clip-path="url(#mp2)"/>
<ellipse cx="96.93" cy="265.29" rx="3.81" ry="3.60" transform="rotate(0 96.93 265.29)" fill="#c4c4c4" fill-opacity="0.35" stroke="#3a3a3a" stroke-width="0.45" stroke-dasharray="1.0,0.55" clip-path="url(#mp3)"/>
<ellipse cx="105.39" cy="270.58" rx="3.81" ry="3.81" transform="rotate(0 105.39 270.58)" fill="#c4c4c4" fill-opacity="0.35" stroke="#3a3a3a" stroke-width="0.45" stroke-dasharray="1.0,0.55" clip-path="url(#mp3)"/>
<ellipse cx="106.66" cy="279.04" rx="3.81" ry="3.81" transform="rotate(0 106.66 279.04)" fill="#c4c4c4" fill-opacity="0.35" stroke="#3a3a3a" stroke-width="0.45" stroke-dasharray="1.0,0.55" clip-path="url(#mp3)"/>
<ellipse cx="115.97" cy="276.50" rx="3.38" ry="3.38" transform="rotate(0 115.97 276.50)" fill="#c4c4c4" fill-opacity="0.35" stroke="#3a3a3a" stroke-width="0.45" stroke-dasharray="1.0,0.55" clip-path="url(#mp3)"/>
<ellipse cx="111.10" cy="283.27" rx="3.60" ry="3.17" transform="rotate(0 111.10 283.27)" fill="#c4c4c4" fill-opacity="0.35" stroke="#3a3a3a" stroke-width="0.45" stroke-dasharray="1.0,0.55" clip-path="url(#mp3)"/>
<ellipse cx="88.04" cy="285.39" rx="2.96" ry="3.38" transform="rotate(0 88.04 285.39)" fill="#c4c4c4" fill-opacity="0.35" stroke="#3a3a3a" stroke-width="0.45" stroke-dasharray="1.0,0.55" clip-path="url(#mp3)"/>
<ellipse cx="91.00" cy="290.89" rx="2.75" ry="2.75" transform="rotate(0 91.00 290.89)" fill="#c4c4c4" fill-opacity="0.35" stroke="#3a3a3a" stroke-width="0.45" stroke-dasharray="1.0,0.55" clip-path="url(#mp3)"/>
<ellipse cx="94.81" cy="297.24" rx="2.96" ry="3.81" transform="rotate(0 94.81 297.24)" fill="#c4c4c4" fill-opacity="0.35" stroke="#3a3a3a" stroke-width="0.45" stroke-dasharray="1.0,0.55" clip-path="url(#mp3)"/>
<ellipse cx="91.64" cy="219.39" rx="3.60" ry="3.38" transform="rotate(0 91.64 219.39)" fill="url(#blob)" clip-path="url(#mp1)"/>
<ellipse cx="98.41" cy="221.08" rx="3.38" ry="3.17" transform="rotate(0 98.41 221.08)" fill="url(#blob)" clip-path="url(#mp1)"/>
<ellipse cx="109.83" cy="251.96" rx="2.96" ry="5.08" transform="rotate(22 109.83 251.96)" fill="url(#blob)" clip-path="url(#mp1)"/>
<circle cx="111.74" cy="212.40" r="1.90" fill="#a2a2a2" filter="url(#bl)"/>
<circle cx="121.89" cy="225.73" r="1.48" fill="#a2a2a2" filter="url(#bl)"/>
<circle cx="111.31" cy="240.96" r="1.90" fill="#a2a2a2" filter="url(#bl)"/>
<circle cx="50.39" cy="226.79" r="1.69" fill="#b4b4b4" filter="url(#bl)"/>
<circle cx="66.25" cy="265.29" r="1.90" fill="#b4b4b4" filter="url(#bl)"/>
<circle cx="64.14" cy="289.62" r="2.12" fill="#b4b4b4" filter="url(#bl)"/>
<circle cx="40.23" cy="230.39" r="1.90" fill="#b4b4b4" filter="url(#bl)"/>
<circle cx="115.97" cy="276.50" r="1.69" fill="#b4b4b4" filter="url(#bl)"/>
<circle cx="106.45" cy="279.04" r="1.69" fill="#b4b4b4" filter="url(#bl)"/>
<text x="30.80" y="255.70" font-size="7.2" fill="#0d0d0d" stroke="#0d0d0d" stroke-width="0.12">ROS</text>
<line x1="67.30" y1="255.40" x2="74.70" y2="255.40" stroke="#1a1a1a" stroke-width="1.4" stroke-linecap="butt"/>
<rect x="29.2" y="208.8" width="49.7" height="49.5" fill="none" stroke="#8a8a8a" stroke-width="0.7"/>
<text x="83.30" y="255.70" font-size="7.2" fill="#0d0d0d" stroke="#0d0d0d" stroke-width="0.12">ROS</text>
<line x1="119.80" y1="255.40" x2="127.20" y2="255.40" stroke="#1a1a1a" stroke-width="1.4" stroke-linecap="butt"/>
<rect x="81.7" y="208.8" width="49.7" height="49.5" fill="none" stroke="#8a8a8a" stroke-width="0.7"/>
<text x="30.80" y="307.30" font-size="7.2" fill="#0d0d0d" stroke="#0d0d0d" stroke-width="0.12">ROS</text>
<line x1="67.30" y1="307.00" x2="74.70" y2="307.00" stroke="#1a1a1a" stroke-width="1.4" stroke-linecap="butt"/>
<rect x="29.2" y="260.4" width="49.7" height="49.5" fill="none" stroke="#8a8a8a" stroke-width="0.7"/>
<text x="83.30" y="307.30" font-size="7.2" fill="#0d0d0d" stroke="#0d0d0d" stroke-width="0.12">ROS</text>
<line x1="119.80" y1="307.00" x2="127.20" y2="307.00" stroke="#1a1a1a" stroke-width="1.4" stroke-linecap="butt"/>
<rect x="81.7" y="260.4" width="49.7" height="49.5" fill="none" stroke="#8a8a8a" stroke-width="0.7"/>
</g>
<g id="panelE">
<text x="149.40" y="202.86" font-size="11" text-anchor="start" font-weight="bold" fill="#000" stroke="#000" stroke-width="0.16" >E</text>
<path d="M198.9,282.8h0M196.7,280.6h0M194.8,280.9h0M193.0,283.1h0M196.6,277.1h0M199.3,279.8h0M200.7,284.9h0M197.1,276.4h0M195.4,282.9h0M198.2,284.0h0M197.7,284.8h0M194.2,283.2h0M196.2,285.1h0M196.1,285.2h0M196.5,287.0h0M199.5,285.6h0M201.4,284.4h0M199.1,281.5h0M194.7,281.0h0M197.6,287.7h0M199.0,284.5h0M197.2,286.0h0M197.4,292.1h0M199.6,283.6h0M196.5,284.4h0M197.0,283.5h0M192.9,283.0h0M194.9,283.8h0M196.8,276.0h0M199.4,280.5h0M197.1,289.4h0M200.3,281.8h0M194.2,283.9h0M197.3,282.4h0M193.2,284.3h0M197.9,281.7h0M197.5,286.9h0M195.7,286.8h0M198.4,287.9h0M196.7,284.9h0M195.5,279.8h0M194.3,282.6h0M191.9,283.2h0M196.0,283.0h0M197.6,275.9h0M196.1,282.4h0M201.0,282.9h0M197.3,285.3h0M195.8,283.0h0M196.7,277.0h0M197.4,272.5h0M194.9,280.6h0M196.6,287.0h0M200.0,282.7h0M197.0,278.0h0M198.5,277.4h0M198.1,288.3h0M197.6,284.2h0M192.1,283.3h0M199.1,282.3h0M200.2,285.2h0M197.3,292.7h0M194.7,282.5h0M199.1,279.9h0M198.3,285.4h0M199.1,283.7h0M198.0,288.0h0M200.2,282.7h0M198.5,277.6h0M200.5,281.6h0M193.8,284.0h0M197.7,274.9h0M198.4,277.1h0M197.8,284.7h0M202.8,283.3h0M199.8,285.6h0M197.9,276.0h0M195.6,282.4h0M196.2,280.2h0M201.5,282.9h0M197.9,281.2h0M200.2,285.0h0M197.5,280.7h0M195.3,281.3h0M196.6,277.6h0M197.6,278.7h0M197.7,280.8h0M198.0,283.7h0M199.7,282.2h0M198.7,280.4h0M198.1,285.2h0M198.5,280.8h0M197.3,280.7h0M198.7,287.0h0M197.9,284.3h0M196.7,288.9h0M194.6,281.3h0M199.2,283.1h0M197.0,290.2h0M196.0,286.6h0M197.3,272.4h0M196.7,283.9h0M195.1,281.9h0M195.9,278.8h0M194.3,285.1h0M197.5,279.9h0M193.5,282.3h0M194.3,284.3h0M197.7,274.7h0M201.5,282.8h0M196.0,287.0h0M197.1,279.2h0M197.5,273.4h0M201.2,283.7h0M197.3,276.2h0M199.6,280.5h0M197.7,282.9h0M193.9,283.0h0M195.7,282.6h0M196.8,278.3h0M195.9,282.7h0M193.2,282.4h0M195.8,285.8h0M197.0,273.6h0M197.4,285.1h0M197.4,284.9h0M197.8,277.0h0M196.3,285.0h0M193.1,282.9h0M194.5,284.3h0M198.1,276.8h0M195.3,284.4h0M195.3,281.2h0M201.3,282.3h0M196.1,285.8h0M196.3,284.5h0M197.2,281.7h0M197.4,282.6h0M193.9,282.3h0M192.1,283.2h0M198.2,282.4h0M197.9,278.4h0M197.2,289.7h0M197.9,278.8h0M198.1,276.9h0M198.4,287.4h0M197.4,280.7h0M198.1,288.3h0M197.6,290.1h0M193.2,284.2h0M194.5,281.8h0M198.1,285.9h0M197.4,286.8h0M198.0,277.6h0M198.3,280.6h0M196.6,278.6h0M199.4,282.3h0M198.8,278.6h0M197.2,281.7h0M197.7,287.8h0M193.6,283.6h0M196.8,278.5h0M192.4,283.4h0M198.1,279.4h0M197.5,284.4h0M195.0,281.1h0M201.8,284.1h0M196.9,283.5h0M194.9,282.3h0M198.1,284.1h0M199.9,280.7h0M197.4,277.2h0M196.5,287.0h0M194.6,285.4h0M197.1,281.0h0M195.8,282.9h0M196.5,276.8h0M196.7,288.9h0M198.7,287.1h0M196.6,281.7h0M196.7,286.1h0M193.6,282.2h0M197.0,276.9h0M195.4,284.3h0M196.2,282.6h0M197.8,289.9h0M197.8,290.7h0M195.9,287.2h0M199.0,285.2h0M193.7,284.4h0M197.1,283.8h0M199.3,282.1h0M198.7,284.3h0M196.9,280.5h0M194.6,282.8h0M195.8,285.5h0M194.3,282.9h0M194.3,281.9h0M198.0,282.3h0M197.1,287.6h0M196.7,280.7h0M195.0,283.2h0M197.4,283.8h0M196.9,289.4h0M196.5,282.4h0M197.7,272.3h0M192.1,283.5h0M197.4,290.2h0M196.1,283.4h0M198.1,288.6h0M194.0,284.3h0M198.4,280.7h0M197.9,287.2h0M197.7,285.2h0M196.7,277.9h0M196.6,286.5h0M198.6,282.4h0M193.0,283.8h0M196.9,280.3h0M195.1,280.1h0M200.3,281.2h0M197.4,289.9h0M201.4,282.4h0M193.6,284.5h0M197.1,279.4h0M199.0,279.4h0M195.6,283.3h0M196.3,279.3h0M197.4,287.4h0M197.2,270.8h0M194.9,284.2h0M201.1,284.4h0M194.8,282.7h0M199.1,279.5h0M195.4,281.6h0M192.9,283.9h0M200.2,281.6h0M198.9,287.4h0M195.0,284.6h0M196.0,287.5h0M196.5,284.8h0M192.6,282.7h0M200.8,281.8h0M197.1,271.4h0M198.1,277.2h0M197.1,283.2h0M197.1,274.3h0M196.8,275.2h0M198.0,277.4h0M192.5,283.3h0M199.5,284.3h0M195.7,284.6h0M196.3,286.3h0M195.6,284.5h0M198.6,278.3h0M196.9,292.0h0M200.2,281.1h0M195.6,284.9h0M199.9,281.0h0M197.9,277.6h0M197.7,287.8h0M196.3,282.0h0M194.2,283.6h0M193.6,284.3h0M196.5,280.5h0M198.1,289.8h0M193.1,283.1h0M197.2,278.9h0M198.2,281.5h0M198.4,287.5h0M200.9,283.8h0M196.8,280.4h0M195.1,284.1h0M201.2,282.8h0M196.6,284.6h0M195.9,285.5h0M199.4,286.6h0M199.3,281.1h0M196.9,290.8h0M194.2,282.9h0M199.5,286.0h0M197.3,276.2h0M198.5,278.0h0M198.0,280.1h0M194.8,281.7h0M198.3,282.3h0M192.9,284.1h0M196.2,279.3h0M200.1,282.6h0M193.1,283.6h0M198.1,280.5h0M199.3,282.8h0M195.8,282.2h0M197.9,284.5h0M199.9,281.5h0M195.2,284.8h0M192.8,284.1h0M199.5,285.1h0M197.3,275.7h0M198.0,283.3h0M197.0,290.6h0M197.4,284.8h0M197.6,282.2h0M197.3,283.7h0M201.9,282.9h0M194.7,285.4h0M200.3,284.9h0M196.7,288.6h0M196.5,284.2h0M196.8,288.7h0M197.5,281.6h0M194.8,282.9h0M196.9,290.2h0M196.1,287.6h0M198.4,283.8h0M196.6,286.4h0M197.0,280.3h0M197.0,285.2h0M197.4,279.9h0M198.2,278.2h0M197.1,282.7h0M196.7,282.9h0M197.5,281.3h0M195.6,279.8h0M197.4,287.9h0M196.7,280.9h0M201.0,283.8h0M198.4,287.4h0M197.8,272.1h0M198.5,277.8h0" stroke="#a5a7aa" stroke-width="1.1" stroke-linecap="round" fill="none" opacity="1.0"/>
<path d="M216.1,265.5h0M213.8,256.7h0M214.1,268.4h0M211.8,268.8h0M210.3,269.6h0M218.5,266.8h0M213.7,279.3h0M214.4,268.2h0M217.0,269.9h0M216.0,272.1h0M214.2,243.8h0M213.5,259.9h0M213.4,272.1h0M211.9,270.6h0M217.8,267.9h0M216.2,262.7h0M213.3,273.3h0M210.0,267.4h0M214.2,270.5h0M211.3,268.3h0M208.3,267.7h0M212.6,267.1h0M214.5,263.4h0M214.0,262.9h0M213.8,254.4h0M215.6,267.1h0M213.8,275.5h0M215.8,267.5h0M215.2,269.8h0M214.3,254.3h0M213.6,256.4h0M212.2,270.3h0M212.8,260.4h0M213.7,282.3h0M214.1,263.1h0M213.4,276.3h0M210.3,265.9h0M214.7,275.5h0M214.6,258.7h0M214.0,261.1h0M211.2,267.1h0M216.1,265.6h0M214.5,277.3h0M213.8,263.7h0M212.8,271.5h0M213.8,285.1h0M211.3,267.7h0M215.5,261.1h0M217.2,269.7h0M217.8,266.3h0M214.7,273.7h0M216.3,270.9h0M214.0,277.7h0M213.1,272.0h0M212.2,262.9h0M209.2,268.4h0M213.9,254.9h0M208.8,267.5h0M215.0,272.8h0M215.1,268.0h0M214.8,259.4h0M218.2,268.0h0M213.7,282.6h0M209.1,267.0h0M214.4,276.3h0M213.2,272.8h0M216.9,267.1h0M213.5,265.8h0M212.2,266.2h0M212.7,270.0h0M216.2,271.2h0M213.1,267.8h0M213.7,260.5h0M212.5,271.6h0M217.6,268.1h0M210.5,267.6h0M213.6,287.4h0M215.9,271.1h0M213.2,264.3h0M218.0,269.2h0M216.0,266.4h0M215.6,268.2h0M214.6,260.2h0M213.5,272.7h0M216.9,265.2h0M213.5,257.1h0M217.6,266.1h0M217.0,270.1h0M214.3,264.6h0M214.5,274.9h0M211.3,265.7h0M215.1,273.2h0M215.9,264.8h0M213.7,268.3h0M211.3,269.0h0M215.3,261.8h0M211.5,266.8h0M212.2,264.1h0M218.7,266.6h0M219.1,268.2h0M217.7,265.3h0M213.9,274.5h0M212.4,262.7h0M210.7,265.2h0M214.6,260.1h0M213.9,272.8h0M213.6,263.2h0M214.0,280.0h0M213.9,274.8h0M215.4,261.5h0M215.4,273.9h0M213.9,272.9h0M212.3,262.8h0M214.7,260.3h0M213.4,269.1h0M213.7,262.9h0M213.8,281.4h0M213.8,275.4h0M213.6,286.7h0M216.9,268.5h0M211.8,271.4h0M215.3,271.6h0M215.5,272.9h0M217.3,270.3h0M213.7,262.1h0M219.2,268.3h0M211.5,267.3h0M213.1,267.5h0M213.6,261.8h0M216.3,266.4h0M212.5,271.5h0M212.0,270.2h0M214.9,260.4h0M214.5,270.9h0M214.0,251.7h0M214.8,276.5h0M214.5,265.9h0M213.8,259.0h0M213.0,269.2h0M211.9,264.9h0M213.4,261.5h0M213.9,265.9h0M214.8,262.7h0M214.5,254.9h0M214.9,259.2h0M217.5,268.4h0M208.3,267.7h0M213.1,273.1h0M211.4,266.9h0M211.4,269.8h0M213.3,275.8h0M215.4,272.5h0M214.5,279.3h0M216.0,268.7h0M213.9,274.6h0M212.8,271.8h0M214.0,266.9h0M211.8,264.6h0M214.3,271.2h0M218.2,267.6h0M215.0,263.6h0M213.5,270.0h0M215.6,268.0h0M215.4,267.8h0M213.9,281.5h0M214.0,271.3h0M216.6,267.8h0M217.0,269.7h0M214.3,264.5h0M213.5,268.8h0M215.8,263.7h0M213.9,259.2h0M214.2,269.2h0M215.3,273.1h0M212.5,265.8h0M215.3,272.8h0M215.4,261.4h0M211.8,267.9h0M218.2,266.6h0M215.3,273.2h0M214.6,272.5h0M214.5,273.8h0M215.7,268.8h0M213.0,260.7h0M217.3,267.4h0M213.6,273.1h0M214.3,275.6h0M213.4,265.9h0M215.1,264.9h0M214.9,267.9h0M217.4,267.0h0M214.0,280.6h0M214.8,265.2h0M214.1,288.2h0M215.7,267.1h0M209.2,266.8h0M212.7,262.1h0M218.1,268.1h0M216.7,267.5h0M213.1,261.3h0M214.7,260.5h0M212.8,274.4h0M214.0,274.0h0M218.3,269.1h0M208.3,267.7h0M213.2,276.4h0M213.0,261.3h0M211.4,271.1h0M213.8,263.5h0M217.2,268.4h0M214.7,262.6h0M216.2,265.3h0M214.3,275.6h0M219.4,267.3h0M213.8,276.7h0M214.4,287.3h0M213.5,269.5h0M215.5,270.1h0M214.5,279.4h0M211.3,267.6h0M215.7,263.4h0M217.9,267.8h0M214.2,278.1h0M214.6,258.5h0M213.9,280.3h0M215.7,263.7h0M215.4,260.9h0M214.9,263.1h0M211.8,266.5h0M214.0,275.8h0M214.7,259.7h0M216.1,263.4h0M214.0,271.4h0M211.1,268.7h0M213.6,261.8h0M214.2,270.3h0M219.8,267.4h0M215.5,267.1h0M215.1,268.5h0M211.3,264.1h0M214.5,245.3h0M212.9,272.0h0M217.2,270.5h0M215.1,276.5h0M210.6,267.4h0M209.2,267.2h0M214.0,278.2h0M213.6,280.1h0M211.4,270.2h0M214.7,269.1h0M214.3,283.9h0M211.8,264.7h0M211.3,267.4h0M214.6,256.4h0M217.4,267.9h0M216.2,273.0h0M216.7,266.8h0M213.3,273.5h0M213.0,275.0h0M210.7,266.2h0M211.5,268.6h0M212.2,262.2h0M209.6,268.7h0M218.2,268.9h0M213.6,279.0h0M218.7,267.1h0M213.9,272.7h0M214.1,259.3h0M211.2,268.4h0M214.3,261.6h0M213.7,257.8h0M211.8,266.8h0M211.4,269.7h0M217.4,269.6h0M213.7,249.1h0M213.0,273.3h0M212.0,266.0h0M217.8,265.4h0M213.7,281.1h0M213.5,256.7h0M218.2,269.4h0M213.7,259.7h0M218.1,267.6h0M213.5,268.7h0M214.8,268.9h0M216.8,266.6h0M210.0,268.7h0M214.1,263.1h0M215.2,266.5h0M214.3,276.3h0M216.7,267.3h0M212.6,261.5h0M216.8,269.7h0M211.2,271.1h0M216.4,271.0h0M217.3,266.6h0M212.8,266.7h0M214.3,267.6h0M211.9,264.1h0M214.9,276.4h0M213.7,261.6h0M218.3,267.9h0M214.2,271.2h0M211.4,271.6h0M211.1,268.9h0M217.0,266.2h0M216.3,267.1h0M215.3,267.5h0M215.3,271.4h0M214.4,257.8h0M214.0,267.0h0M210.8,269.3h0M215.1,266.9h0M214.8,268.4h0M217.4,268.5h0M213.5,270.2h0M213.5,271.5h0M213.7,275.4h0M213.6,265.6h0M215.1,276.1h0M213.3,277.4h0M214.5,284.1h0M215.0,265.0h0M211.7,264.0h0M211.3,264.2h0M214.4,250.8h0M215.5,272.8h0M213.5,278.8h0M215.7,269.2h0M216.4,263.8h0M214.3,269.1h0M213.9,253.1h0M212.5,262.6h0M214.1,283.9h0M214.3,264.6h0M210.2,267.0h0M212.6,265.1h0M214.6,267.2h0M214.4,272.5h0M216.1,268.8h0M214.7,263.8h0M212.0,265.8h0M213.4,264.2h0M212.4,267.7h0M214.6,269.0h0M218.3,269.3h0M213.2,260.5h0M214.0,257.8h0M213.7,265.2h0M211.2,268.2h0M213.0,274.6h0M215.5,265.5h0M214.7,277.5h0M214.9,274.6h0M215.9,271.0h0M213.7,280.4h0M217.3,267.6h0M216.9,271.2h0M216.1,270.4h0M213.5,272.5h0M215.6,264.7h0M214.5,265.2h0M216.4,265.7h0M213.8,271.2h0M211.1,265.9h0M212.0,272.1h0M216.9,269.6h0M213.8,284.2h0M213.6,256.0h0M214.1,263.6h0M214.2,275.3h0M214.2,271.4h0M213.1,270.2h0M217.6,269.8h0M211.8,271.5h0M214.5,265.1h0M214.8,278.6h0M214.9,270.6h0M214.3,269.8h0M212.3,268.6h0M214.1,276.7h0M214.3,256.8h0M214.5,291.7h0M212.0,266.8h0M212.2,271.3h0M214.6,262.8h0M213.1,267.8h0M215.7,269.5h0M217.0,265.9h0M212.9,273.3h0M212.8,271.8h0M216.9,271.5h0M211.4,270.4h0M213.0,260.8h0M214.3,266.7h0M215.5,272.5h0M217.3,267.5h0M213.6,261.6h0M210.6,266.1h0M213.3,272.1h0M210.8,265.3h0M216.4,272.1h0M213.0,263.0h0M214.5,254.8h0M214.5,256.6h0M216.3,263.2h0M213.8,283.1h0M213.2,261.5h0M214.1,257.6h0M211.1,269.1h0M218.7,266.6h0M212.1,263.6h0M213.4,270.1h0M217.5,267.0h0M211.3,266.3h0M209.8,266.3h0M211.4,269.8h0M211.6,268.1h0M213.5,268.3h0M213.3,276.1h0M213.7,261.4h0M218.4,268.8h0M213.7,268.9h0M213.3,261.7h0M213.4,272.2h0M212.7,263.1h0M214.2,268.3h0M216.5,269.2h0M214.4,262.5h0M211.1,265.2h0" stroke="#ed1c24" stroke-width="1.1" stroke-linecap="round" fill="none" opacity="1.0"/>
<path d="M213.6,249.5h0M213.8,246.2h0M213.5,244.5h0M213.9,243.5h0M213.8,236.0h0M213.8,238.8h0M213.5,247.2h0M213.8,241.8h0M214.8,248.2h0M214.7,249.6h0M213.5,239.6h0M213.3,246.5h0M214.4,240.9h0M214.0,246.2h0M214.4,239.1h0M214.7,240.9h0M214.3,238.0h0M213.5,250.5h0M214.5,247.1h0M213.4,235.6h0M213.6,238.3h0M213.8,241.4h0M213.4,240.2h0M214.3,238.0h0M214.6,244.6h0M214.4,239.3h0M214.0,246.6h0M213.9,234.9h0M214.6,248.2h0M213.8,235.6h0" stroke="#ed1c24" stroke-width="1.0" stroke-linecap="round" fill="none" opacity="1.0"/>
<path d="M214.7,287.8h0M213.4,283.7h0M213.5,289.9h0M213.6,291.2h0M214.5,282.0h0M214.4,285.4h0M214.5,290.3h0M213.7,282.0h0M214.8,285.7h0M214.8,288.7h0M214.5,290.3h0M214.3,286.1h0M213.4,288.8h0M214.0,286.7h0M214.8,282.4h0M214.5,281.5h0" stroke="#ed1c24" stroke-width="1.0" stroke-linecap="round" fill="none" opacity="1.0"/>
<path d="M230.2,289.6h0M229.4,286.9h0M230.0,282.7h0M227.8,283.0h0M229.7,288.0h0M230.4,281.6h0M229.2,285.8h0M231.3,284.9h0M230.8,278.0h0M232.3,285.0h0M232.4,286.4h0M228.5,284.8h0M226.7,283.5h0M232.6,283.6h0M228.9,283.9h0M228.2,282.7h0M236.3,284.4h0M233.0,284.7h0M228.7,287.1h0M228.7,282.2h0M235.5,284.4h0M232.6,287.6h0M228.5,285.3h0M233.8,284.3h0M228.1,285.5h0M231.5,290.4h0M231.5,278.6h0M228.2,285.7h0M229.7,285.6h0M233.1,285.9h0M231.4,284.2h0M231.1,289.9h0M230.7,293.7h0M228.7,283.7h0M232.7,284.7h0M233.7,282.2h0M230.0,284.2h0M229.1,279.5h0M231.2,290.6h0M232.0,283.1h0M229.6,282.3h0M232.0,280.2h0M228.7,285.0h0M229.9,281.3h0M228.8,284.1h0M231.4,290.8h0M232.1,287.5h0M231.1,280.1h0M233.0,281.2h0M229.9,280.4h0M230.1,276.2h0M230.5,280.1h0M230.2,280.3h0M230.9,286.1h0M228.0,286.0h0M230.8,276.0h0M230.3,276.9h0M229.3,281.5h0M229.3,281.3h0M230.8,284.8h0M229.7,284.7h0M233.1,282.2h0M231.6,288.4h0M234.1,284.7h0M235.1,283.7h0M229.8,289.2h0M227.8,284.6h0M231.8,284.3h0M232.4,283.0h0M230.9,276.1h0M232.8,287.0h0M233.1,285.0h0M231.2,278.9h0M229.4,284.8h0M230.9,293.9h0M228.9,280.9h0M229.8,289.6h0M229.8,288.0h0M232.9,282.2h0M225.8,284.8h0M230.0,278.3h0M232.2,285.5h0M234.4,283.8h0M231.8,280.0h0M228.9,284.4h0M232.9,281.8h0M227.1,284.5h0M230.3,288.0h0M234.1,283.7h0M230.9,276.6h0M228.5,282.9h0M228.5,287.2h0M230.5,282.7h0M229.7,286.0h0M229.9,281.1h0M233.8,282.1h0M232.4,283.8h0M230.7,283.2h0M230.8,281.2h0M232.1,281.3h0M231.0,289.2h0M229.1,285.8h0M231.3,291.0h0M232.8,285.6h0M231.5,286.7h0M230.2,281.4h0M229.3,282.8h0M229.9,286.5h0M229.4,283.4h0M235.0,284.4h0M231.1,282.2h0M226.5,283.7h0M232.5,283.0h0M230.5,293.3h0M228.7,287.2h0M233.1,281.1h0M230.5,278.7h0M230.5,284.6h0M228.7,285.4h0M228.5,283.7h0M229.8,285.2h0M232.4,280.9h0M232.9,285.1h0M228.8,287.3h0M230.5,291.1h0M231.0,283.6h0M232.5,287.7h0M232.6,282.9h0M231.9,286.1h0M229.8,284.2h0M230.0,280.7h0M229.6,280.9h0M235.6,284.3h0M231.7,280.8h0M227.1,284.0h0M229.6,278.9h0M231.0,286.2h0M231.5,287.0h0M232.6,285.7h0M231.6,279.7h0M232.9,285.6h0M229.3,286.3h0M230.3,273.6h0M231.6,281.9h0M234.3,285.8h0M229.5,279.0h0M226.3,283.9h0M229.1,281.3h0M228.1,285.9h0M232.0,279.3h0M233.8,284.3h0M230.0,280.6h0M229.6,286.4h0M233.1,284.8h0M230.3,280.5h0M231.4,284.6h0M231.1,274.8h0M228.5,285.2h0M228.9,282.2h0M231.1,279.0h0M229.0,281.2h0M230.3,290.9h0M230.3,289.9h0M233.0,281.9h0M231.1,280.0h0M232.6,281.1h0M230.5,276.2h0M230.2,290.8h0M226.3,284.3h0M235.4,284.4h0M229.5,279.3h0M229.2,280.0h0M230.9,274.9h0M233.3,283.4h0M230.8,284.5h0M228.1,282.3h0M230.2,276.4h0M230.0,283.8h0M229.4,280.0h0M228.5,286.6h0M233.1,281.8h0M235.0,283.5h0M230.0,288.6h0M227.0,283.2h0M230.2,281.7h0M227.1,285.8h0M230.9,287.8h0M232.4,288.2h0M230.4,288.4h0M233.9,282.3h0M230.1,282.6h0M232.6,280.8h0M230.1,280.8h0M227.1,283.6h0M231.7,289.3h0M230.1,279.9h0M229.7,286.9h0M233.6,284.4h0M231.2,286.7h0M231.9,285.3h0M232.2,285.9h0M231.3,281.6h0M231.7,285.6h0M231.7,285.2h0M230.7,275.3h0M230.6,286.8h0M235.0,283.8h0M230.9,281.6h0M227.8,285.3h0M231.6,286.4h0M231.2,291.6h0M233.1,282.6h0M227.2,284.8h0M229.2,284.0h0M230.4,286.8h0M234.2,282.5h0M230.6,286.3h0M229.7,289.0h0M230.9,285.9h0M229.5,282.6h0M227.3,284.3h0M227.2,284.6h0M229.2,285.4h0M229.9,277.6h0M230.2,290.7h0M231.0,278.4h0M230.1,284.2h0M230.0,279.7h0M232.0,280.4h0M231.3,282.6h0M235.1,285.1h0M231.9,285.9h0M233.5,284.1h0M230.7,281.6h0M229.4,288.9h0M230.5,286.4h0M230.5,286.1h0M230.6,286.3h0M231.0,277.8h0M227.5,286.0h0M232.1,287.0h0M227.8,284.8h0M229.9,277.9h0M230.9,279.1h0M231.5,280.1h0M232.8,284.2h0M233.1,281.1h0M230.2,291.0h0M227.9,281.6h0M228.7,285.4h0M233.8,283.3h0M230.2,286.7h0M233.7,283.0h0M230.3,290.6h0M231.1,284.2h0M230.6,282.0h0M232.9,285.9h0M230.8,274.8h0M231.0,283.0h0M229.8,281.2h0M230.2,278.4h0M230.9,289.6h0M230.6,274.0h0M230.0,284.6h0M234.7,284.6h0M229.2,281.0h0M232.2,287.0h0M231.4,280.1h0M233.8,283.5h0M230.4,274.9h0M233.7,284.0h0M231.8,286.1h0M230.9,275.4h0M232.8,284.2h0M230.3,277.5h0M229.8,281.1h0M234.7,284.9h0M230.1,277.4h0M229.4,284.3h0M231.1,285.2h0M232.1,282.0h0M229.3,280.1h0M235.0,284.8h0M230.7,293.4h0M232.6,282.8h0M230.3,274.3h0M230.9,276.8h0M226.9,284.0h0M231.1,275.9h0M230.2,274.6h0M230.9,273.4h0M230.3,282.9h0M229.7,279.2h0M227.2,285.5h0M231.2,284.7h0M230.5,287.3h0M228.4,281.7h0M231.5,284.9h0M231.9,282.6h0M235.0,283.7h0M231.4,277.4h0M226.7,283.8h0M230.7,284.8h0M230.4,283.9h0M230.7,281.5h0M229.8,283.6h0M228.1,283.9h0M233.0,286.6h0M230.7,273.5h0M231.6,287.1h0M229.7,279.1h0M229.5,284.3h0M233.9,283.1h0M229.4,281.1h0M231.2,289.3h0M231.6,283.3h0M232.0,284.5h0M230.4,289.8h0M233.3,286.4h0M230.6,273.7h0M228.0,284.0h0M229.4,288.0h0M227.7,283.8h0M234.4,282.9h0M230.7,289.4h0M231.7,278.7h0M229.4,287.6h0M231.2,290.4h0M230.2,279.6h0M229.6,288.8h0" stroke="#a5a7aa" stroke-width="1.1" stroke-linecap="round" fill="none" opacity="1.0"/>
<path d="M231.0,273.3h0M231.1,271.3h0M231.0,271.9h0M230.8,268.1h0M231.0,271.8h0M231.1,266.7h0M231.2,269.1h0M231.1,264.8h0M231.2,271.8h0M230.5,272.3h0M230.4,265.7h0M230.7,266.1h0" stroke="#c9cbcd" stroke-width="0.9" stroke-linecap="round" fill="none" opacity="1.0"/>
<path d="M230.7,304.8h0M230.9,302.2h0M230.6,303.2h0M231.1,301.9h0M231.2,303.7h0M230.6,294.1h0M230.9,303.9h0M230.5,300.7h0M231.1,303.3h0M230.1,299.4h0M230.1,294.4h0M231.1,298.4h0M230.8,298.9h0M230.5,295.8h0M230.5,304.0h0M230.8,296.8h0M230.2,296.5h0M230.9,298.7h0M230.9,303.5h0M230.2,301.9h0M230.1,303.7h0M230.3,296.5h0" stroke="#c9cbcd" stroke-width="0.9" stroke-linecap="round" fill="none" opacity="1.0"/>
<path d="M245.7,284.1h0M249.6,285.5h0M250.5,280.1h0M247.5,265.7h0M248.1,283.2h0M252.2,282.0h0M247.2,276.4h0M248.4,282.3h0M247.1,284.9h0M248.0,289.4h0M247.5,279.0h0M249.0,284.0h0M248.0,284.1h0M247.8,289.8h0M247.4,268.5h0M248.0,286.2h0M249.0,277.4h0M246.4,286.9h0M252.5,282.1h0M248.7,283.2h0M246.6,282.8h0M246.9,285.8h0M248.2,283.7h0M247.9,268.2h0M247.3,286.1h0M248.5,286.4h0M248.6,282.0h0M247.4,287.4h0M250.0,279.9h0M246.8,277.6h0M245.5,282.5h0M248.3,269.7h0M251.5,281.3h0M247.3,281.2h0M246.9,281.6h0M247.6,270.1h0M247.7,273.6h0M249.0,285.7h0M250.4,282.1h0M248.7,279.6h0M246.6,283.7h0M246.6,285.0h0M250.2,283.6h0M247.9,276.0h0M247.6,272.0h0M248.3,282.4h0M247.5,286.1h0M245.7,283.1h0M248.8,286.2h0M248.0,272.0h0M250.0,280.8h0M251.4,281.9h0M248.8,279.9h0M246.1,283.1h0M247.8,280.7h0M248.1,286.0h0M246.6,279.5h0M248.7,287.4h0M248.8,278.5h0M248.3,274.0h0M248.1,287.9h0M249.9,283.1h0M246.8,285.5h0M249.3,279.2h0M245.2,281.8h0M249.6,278.4h0M249.3,284.0h0M247.5,275.8h0M246.2,278.9h0M247.2,282.5h0M246.7,276.4h0M244.9,283.1h0M246.5,283.9h0M250.6,283.4h0M248.4,275.8h0M251.0,282.6h0M247.3,280.0h0M248.8,278.9h0M247.9,284.2h0M251.2,283.5h0M248.9,287.6h0M247.4,266.4h0M247.3,282.2h0M247.6,286.4h0M246.9,281.9h0M250.1,281.9h0M245.8,280.5h0M245.5,283.4h0M249.5,286.3h0M248.2,291.6h0M246.3,286.5h0M252.1,282.7h0M246.8,285.7h0M249.1,282.0h0M244.0,283.8h0M250.9,281.0h0M245.2,284.5h0M250.6,282.1h0M247.7,287.5h0M243.7,283.1h0M246.1,284.8h0M252.6,282.6h0M248.3,291.4h0M247.4,277.7h0M247.1,288.2h0M248.6,281.8h0M251.7,282.7h0M244.9,284.6h0M245.4,285.0h0M249.5,279.0h0M246.5,278.8h0M247.7,273.7h0M246.0,279.3h0M248.4,280.4h0M247.6,286.4h0M246.3,277.8h0M249.0,280.8h0M249.2,283.5h0M245.5,284.6h0M245.7,285.4h0M247.5,266.2h0M248.6,276.8h0M246.4,286.8h0M248.1,268.5h0M244.8,282.5h0M249.4,283.4h0M249.6,285.8h0M242.9,282.1h0M252.9,283.0h0M250.8,283.3h0M245.5,280.0h0M248.4,289.3h0M247.9,275.5h0M248.5,284.8h0M246.8,287.5h0M246.7,279.7h0M250.7,282.7h0M248.4,276.0h0M249.4,282.2h0M245.1,280.6h0M247.0,285.1h0M248.9,277.7h0M246.4,283.0h0M246.8,277.2h0M242.7,282.7h0M248.2,278.2h0M247.2,280.4h0M249.6,285.8h0M248.8,287.5h0M246.2,286.5h0M247.7,288.4h0M252.2,283.3h0M246.9,278.0h0M246.4,281.1h0M251.0,280.5h0M248.1,290.8h0M245.6,283.7h0M244.6,282.6h0M247.6,290.3h0M248.9,287.2h0M245.6,285.0h0M248.8,283.8h0M250.4,279.8h0M248.6,279.8h0M247.7,272.1h0M249.5,286.2h0M245.8,281.8h0M245.0,282.7h0M249.1,280.5h0M248.6,286.8h0M243.6,281.6h0M245.5,283.4h0M248.2,285.8h0M248.7,285.4h0M242.9,282.4h0M245.1,281.0h0M250.7,280.1h0M250.1,283.7h0M245.7,282.3h0M247.6,278.3h0M252.5,283.0h0M246.9,275.9h0M251.1,283.5h0M246.9,286.0h0M251.7,281.9h0M248.2,278.6h0M244.3,283.3h0M247.7,267.3h0M246.4,285.2h0M252.0,282.6h0M247.7,270.2h0M250.8,283.1h0M248.0,281.0h0M250.5,281.6h0M249.8,280.9h0M245.1,281.9h0M248.9,281.0h0M247.1,275.0h0M247.3,288.1h0M245.2,280.5h0M246.4,278.0h0M245.8,280.2h0M245.2,280.5h0M247.6,281.0h0M245.5,285.1h0M248.0,277.5h0M252.5,283.0h0M244.8,281.7h0M243.9,283.4h0M247.8,272.9h0M247.3,282.9h0M249.4,281.8h0M252.9,282.2h0M243.0,281.9h0M245.0,284.9h0M247.9,277.6h0M248.4,280.1h0M250.9,283.2h0M248.9,286.7h0M247.4,273.8h0M249.7,279.2h0M243.4,281.8h0M244.6,282.1h0M250.0,285.3h0M245.9,278.4h0M247.6,283.5h0M247.8,271.4h0M246.5,285.6h0M252.6,283.4h0M252.1,281.7h0M246.7,280.7h0M246.3,282.8h0M246.8,276.0h0M247.4,283.6h0M246.5,286.4h0M252.7,282.2h0M248.0,282.1h0M247.2,289.2h0M248.7,282.0h0M250.6,280.7h0M248.6,288.6h0M247.7,271.9h0M247.4,273.3h0M246.0,281.4h0M247.7,288.8h0M248.4,275.5h0M245.6,284.9h0M248.2,278.6h0M248.4,289.6h0M252.2,282.4h0M249.7,283.3h0M246.6,281.7h0M246.1,278.4h0M247.7,285.6h0M246.6,287.5h0M248.6,278.4h0M252.3,283.3h0M247.2,283.5h0M246.9,283.4h0M247.5,289.6h0M249.1,284.0h0M244.9,283.1h0M243.7,281.5h0M247.2,280.7h0M250.0,279.4h0M249.4,284.0h0M247.6,282.0h0M246.5,278.4h0M248.1,270.2h0M248.4,285.8h0M247.2,277.2h0M248.0,276.2h0M247.9,288.9h0M248.2,282.6h0M244.0,283.7h0M249.7,282.0h0M245.6,281.7h0M252.4,282.2h0M246.1,283.2h0M247.1,281.2h0M243.8,281.6h0M243.7,282.0h0M246.9,286.3h0M247.3,286.6h0M252.0,281.9h0M243.9,282.9h0M249.4,284.2h0M248.5,276.6h0M246.3,279.3h0M248.5,287.6h0M249.6,282.3h0M244.6,283.1h0M249.2,283.0h0M247.1,281.6h0M246.2,277.8h0M245.8,283.4h0M248.2,286.2h0M246.0,283.4h0M244.8,283.6h0M248.7,277.1h0M246.3,283.8h0M249.0,282.9h0M248.0,282.5h0M248.2,272.5h0M244.1,281.9h0M247.0,279.9h0M249.4,285.0h0M246.5,282.4h0M249.3,281.6h0M247.6,281.2h0M247.4,287.1h0M248.2,272.7h0M247.3,283.0h0M243.8,283.7h0M247.4,289.9h0M246.9,279.0h0M248.6,277.4h0M246.6,282.4h0M247.4,270.1h0M246.8,277.1h0M244.1,282.4h0M247.1,275.9h0M247.6,277.2h0M245.1,282.2h0M245.3,283.1h0M248.3,289.4h0M247.9,270.8h0M249.2,280.3h0M244.6,283.1h0M251.2,283.0h0M245.6,281.6h0M247.5,275.4h0M247.3,277.5h0M250.0,280.6h0M245.3,285.3h0M249.7,285.5h0M250.6,283.9h0M246.6,283.6h0M246.9,281.0h0M251.6,281.7h0M249.5,278.9h0M251.6,283.5h0M248.7,286.9h0M247.3,278.6h0M248.2,283.1h0M247.5,276.2h0M248.5,288.3h0M248.0,272.1h0M245.9,285.9h0M247.6,285.1h0M248.5,276.9h0M246.3,283.4h0M245.9,282.3h0M247.1,276.6h0M250.5,282.4h0M247.2,280.3h0M247.6,291.9h0M247.8,289.5h0M247.2,286.7h0M245.8,285.3h0M247.8,288.0h0M250.5,280.7h0M246.5,283.4h0M248.0,270.6h0M247.3,273.4h0M249.3,284.4h0M248.1,282.3h0M247.4,287.4h0M248.7,277.5h0M248.5,274.5h0M249.4,280.9h0M245.9,283.4h0M246.8,277.7h0M248.8,280.1h0M248.3,270.8h0M247.0,287.5h0M249.2,285.1h0M251.0,284.0h0M247.8,282.6h0M248.3,289.6h0" stroke="#ed1c24" stroke-width="1.1" stroke-linecap="round" fill="none" opacity="1.0"/>
<line x1="191.60" y1="283.40" x2="203.20" y2="283.40" stroke="#000" stroke-width="1.3" stroke-linecap="butt"/>
<line x1="208.30" y1="267.60" x2="219.90" y2="267.60" stroke="#000" stroke-width="1.3" stroke-linecap="butt"/>
<line x1="224.90" y1="284.40" x2="236.50" y2="284.40" stroke="#000" stroke-width="1.3" stroke-linecap="butt"/>
<line x1="242.00" y1="282.70" x2="253.60" y2="282.70" stroke="#000" stroke-width="1.3" stroke-linecap="butt"/>
<line x1="185.85" y1="210.30" x2="185.85" y2="308.75" stroke="#231f20" stroke-width="0.9" stroke-linecap="butt"/>
<line x1="181.85" y1="210.65" x2="185.85" y2="210.65" stroke="#231f20" stroke-width="0.9" stroke-linecap="butt"/>
<text x="180.25" y="213.17" font-size="7" text-anchor="end" fill="#231f20" stroke="#231f20" stroke-width="0.16" >150</text>
<line x1="181.85" y1="243.30" x2="185.85" y2="243.30" stroke="#231f20" stroke-width="0.9" stroke-linecap="butt"/>
<text x="180.25" y="245.82" font-size="7" text-anchor="end" fill="#231f20" stroke="#231f20" stroke-width="0.16" >100</text>
<line x1="181.85" y1="275.90" x2="185.85" y2="275.90" stroke="#231f20" stroke-width="0.9" stroke-linecap="butt"/>
<text x="180.25" y="278.42" font-size="7" text-anchor="end" fill="#231f20" stroke="#231f20" stroke-width="0.16" >50</text>
<line x1="181.85" y1="308.40" x2="185.85" y2="308.40" stroke="#231f20" stroke-width="0.9" stroke-linecap="butt"/>
<text x="180.25" y="310.92" font-size="7" text-anchor="end" fill="#231f20" stroke="#231f20" stroke-width="0.16" >0</text>
<line x1="185.40" y1="308.40" x2="259.40" y2="308.40" stroke="#231f20" stroke-width="0.9" stroke-linecap="butt"/>
<text x="208.50" y="224.97" font-size="9.5" text-anchor="middle" fill="#231f20" stroke="#231f20" stroke-width="0.32">***</text>
<line x1="196.30" y1="225.80" x2="218.60" y2="225.80" stroke="#808285" stroke-width="1.2" stroke-linecap="butt"/>
<text x="237.10" y="227.07" font-size="9.5" text-anchor="middle" fill="#231f20" stroke="#231f20" stroke-width="0.32">***</text>
<line x1="218.60" y1="228.80" x2="254.50" y2="228.80" stroke="#808285" stroke-width="1.2" stroke-linecap="butt"/>
<text x="181.80" y="317.12" font-size="7" text-anchor="end" fill="#231f20" stroke="#231f20" stroke-width="0.16" >MYC</text>
<text x="181.80" y="324.72" font-size="7" text-anchor="end" fill="#231f20" stroke="#231f20" stroke-width="0.16" >shDIS3L</text>
<line x1="193.90" y1="315.00" x2="200.90" y2="315.00" stroke="#231f20" stroke-width="1.15" stroke-linecap="butt"/>
<line x1="211.20" y1="315.00" x2="217.00" y2="315.00" stroke="#231f20" stroke-width="1.15" stroke-linecap="butt"/>
<line x1="214.10" y1="312.10" x2="214.10" y2="317.90" stroke="#231f20" stroke-width="1.15" stroke-linecap="butt"/>
<line x1="227.20" y1="315.00" x2="234.20" y2="315.00" stroke="#231f20" stroke-width="1.15" stroke-linecap="butt"/>
<line x1="244.90" y1="315.00" x2="250.70" y2="315.00" stroke="#231f20" stroke-width="1.15" stroke-linecap="butt"/>
<line x1="247.80" y1="312.10" x2="247.80" y2="317.90" stroke="#231f20" stroke-width="1.15" stroke-linecap="butt"/>
<line x1="193.90" y1="322.20" x2="200.90" y2="322.20" stroke="#231f20" stroke-width="1.15" stroke-linecap="butt"/>
<line x1="210.60" y1="322.20" x2="217.60" y2="322.20" stroke="#231f20" stroke-width="1.15" stroke-linecap="butt"/>
<line x1="227.80" y1="322.20" x2="233.60" y2="322.20" stroke="#231f20" stroke-width="1.15" stroke-linecap="butt"/>
<line x1="230.70" y1="319.30" x2="230.70" y2="325.10" stroke="#231f20" stroke-width="1.15" stroke-linecap="butt"/>
<line x1="244.90" y1="322.20" x2="250.70" y2="322.20" stroke="#231f20" stroke-width="1.15" stroke-linecap="butt"/>
<line x1="247.80" y1="319.30" x2="247.80" y2="325.10" stroke="#231f20" stroke-width="1.15" stroke-linecap="butt"/>
<text transform="translate(163.60,258.50) rotate(-90)" x="0" y="2.52" font-size="7" text-anchor="middle" fill="#231f20" stroke="#231f20" stroke-width="0.16" >ROS intensity (A.U.)</text>
</g>
<g id="panelF">
<text x="286.00" y="202.86" font-size="11" text-anchor="start" font-weight="bold" fill="#000" stroke="#000" stroke-width="0.16" >F</text>
<circle cx="329.9" cy="271.0" r="0.75" fill="none" stroke="#bcbec0" stroke-width="0.45"/>
<circle cx="325.8" cy="288.2" r="0.75" fill="none" stroke="#bcbec0" stroke-width="0.45"/>
<circle cx="329.3" cy="279.7" r="0.75" fill="none" stroke="#bcbec0" stroke-width="0.45"/>
<circle cx="330.5" cy="278.9" r="0.75" fill="none" stroke="#bcbec0" stroke-width="0.45"/>
<circle cx="328.9" cy="289.1" r="0.75" fill="none" stroke="#bcbec0" stroke-width="0.45"/>
<circle cx="329.9" cy="296.7" r="0.75" fill="none" stroke="#bcbec0" stroke-width="0.45"/>
<circle cx="324.6" cy="286.0" r="0.75" fill="none" stroke="#bcbec0" stroke-width="0.45"/>
<circle cx="328.0" cy="290.3" r="0.75" fill="none" stroke="#bcbec0" stroke-width="0.45"/>
<circle cx="327.0" cy="286.8" r="0.75" fill="none" stroke="#bcbec0" stroke-width="0.45"/>
<circle cx="328.6" cy="276.5" r="0.75" fill="none" stroke="#bcbec0" stroke-width="0.45"/>
<circle cx="330.8" cy="284.6" r="0.75" fill="none" stroke="#bcbec0" stroke-width="0.45"/>
<circle cx="334.3" cy="289.0" r="0.75" fill="none" stroke="#bcbec0" stroke-width="0.45"/>
<circle cx="332.2" cy="293.0" r="0.75" fill="none" stroke="#bcbec0" stroke-width="0.45"/>
<circle cx="331.5" cy="300.9" r="0.75" fill="none" stroke="#bcbec0" stroke-width="0.45"/>
<circle cx="327.4" cy="286.5" r="0.75" fill="none" stroke="#bcbec0" stroke-width="0.45"/>
<circle cx="331.7" cy="277.3" r="0.75" fill="none" stroke="#bcbec0" stroke-width="0.45"/>
<circle cx="334.6" cy="292.1" r="0.75" fill="none" stroke="#bcbec0" stroke-width="0.45"/>
<circle cx="329.2" cy="288.3" r="0.75" fill="none" stroke="#bcbec0" stroke-width="0.45"/>
<circle cx="333.0" cy="292.4" r="0.75" fill="none" stroke="#bcbec0" stroke-width="0.45"/>
<circle cx="331.8" cy="291.3" r="0.75" fill="none" stroke="#bcbec0" stroke-width="0.45"/>
<circle cx="331.1" cy="295.8" r="0.75" fill="none" stroke="#bcbec0" stroke-width="0.45"/>
<circle cx="334.3" cy="297.3" r="0.75" fill="none" stroke="#bcbec0" stroke-width="0.45"/>
<circle cx="327.5" cy="282.5" r="0.75" fill="none" stroke="#bcbec0" stroke-width="0.45"/>
<circle cx="328.0" cy="302.7" r="0.75" fill="none" stroke="#bcbec0" stroke-width="0.45"/>
<circle cx="331.0" cy="294.4" r="0.75" fill="none" stroke="#bcbec0" stroke-width="0.45"/>
<circle cx="328.0" cy="297.3" r="0.75" fill="none" stroke="#bcbec0" stroke-width="0.45"/>
<circle cx="325.3" cy="292.8" r="0.75" fill="none" stroke="#bcbec0" stroke-width="0.45"/>
<circle cx="326.7" cy="294.9" r="0.75" fill="none" stroke="#bcbec0" stroke-width="0.45"/>
<circle cx="326.5" cy="285.7" r="0.75" fill="none" stroke="#bcbec0" stroke-width="0.45"/>
<circle cx="329.6" cy="299.3" r="0.75" fill="none" stroke="#bcbec0" stroke-width="0.45"/>
<circle cx="329.8" cy="269.5" r="0.75" fill="none" stroke="#bcbec0" stroke-width="0.45"/>
<circle cx="333.5" cy="298.4" r="0.75" fill="none" stroke="#bcbec0" stroke-width="0.45"/>
<circle cx="330.7" cy="284.3" r="0.75" fill="none" stroke="#bcbec0" stroke-width="0.45"/>
<circle cx="325.8" cy="290.6" r="0.75" fill="none" stroke="#bcbec0" stroke-width="0.45"/>
<circle cx="332.0" cy="291.2" r="0.75" fill="none" stroke="#bcbec0" stroke-width="0.45"/>
<circle cx="334.9" cy="292.6" r="0.75" fill="none" stroke="#bcbec0" stroke-width="0.45"/>
<circle cx="329.1" cy="283.4" r="0.75" fill="none" stroke="#bcbec0" stroke-width="0.45"/>
<circle cx="328.3" cy="294.3" r="0.75" fill="none" stroke="#bcbec0" stroke-width="0.45"/>
<circle cx="326.1" cy="286.6" r="0.75" fill="none" stroke="#bcbec0" stroke-width="0.45"/>
<circle cx="332.9" cy="282.1" r="0.75" fill="none" stroke="#bcbec0" stroke-width="0.45"/>
<circle cx="333.7" cy="288.7" r="0.75" fill="none" stroke="#bcbec0" stroke-width="0.45"/>
<circle cx="332.4" cy="289.1" r="0.75" fill="none" stroke="#bcbec0" stroke-width="0.45"/>
<circle cx="333.6" cy="282.6" r="0.75" fill="none" stroke="#bcbec0" stroke-width="0.45"/>
<circle cx="329.0" cy="299.6" r="0.75" fill="none" stroke="#bcbec0" stroke-width="0.45"/>
<circle cx="330.3" cy="283.4" r="0.75" fill="none" stroke="#bcbec0" stroke-width="0.45"/>
<circle cx="331.6" cy="292.6" r="0.75" fill="none" stroke="#bcbec0" stroke-width="0.45"/>
<circle cx="325.9" cy="287.7" r="0.75" fill="none" stroke="#bcbec0" stroke-width="0.45"/>
<circle cx="329.5" cy="270.0" r="0.75" fill="none" stroke="#bcbec0" stroke-width="0.45"/>
<circle cx="330.5" cy="299.0" r="0.75" fill="none" stroke="#bcbec0" stroke-width="0.45"/>
<circle cx="330.9" cy="278.1" r="0.75" fill="none" stroke="#bcbec0" stroke-width="0.45"/>
<circle cx="330.1" cy="279.2" r="0.75" fill="none" stroke="#bcbec0" stroke-width="0.45"/>
<circle cx="325.8" cy="285.3" r="0.75" fill="none" stroke="#bcbec0" stroke-width="0.45"/>
<circle cx="334.1" cy="292.8" r="0.75" fill="none" stroke="#bcbec0" stroke-width="0.45"/>
<circle cx="327.8" cy="290.2" r="0.75" fill="none" stroke="#bcbec0" stroke-width="0.45"/>
<circle cx="329.6" cy="287.7" r="0.75" fill="none" stroke="#bcbec0" stroke-width="0.45"/>
<circle cx="333.2" cy="281.9" r="0.75" fill="none" stroke="#bcbec0" stroke-width="0.45"/>
<circle cx="328.1" cy="289.7" r="0.75" fill="none" stroke="#bcbec0" stroke-width="0.45"/>
<circle cx="330.1" cy="271.5" r="0.75" fill="none" stroke="#bcbec0" stroke-width="0.45"/>
<circle cx="329.6" cy="285.8" r="0.75" fill="none" stroke="#bcbec0" stroke-width="0.45"/>
<circle cx="330.9" cy="285.6" r="0.75" fill="none" stroke="#bcbec0" stroke-width="0.45"/>
<circle cx="332.4" cy="297.2" r="0.75" fill="none" stroke="#bcbec0" stroke-width="0.45"/>
<circle cx="328.5" cy="289.0" r="0.75" fill="none" stroke="#bcbec0" stroke-width="0.45"/>
<circle cx="328.6" cy="298.1" r="0.75" fill="none" stroke="#bcbec0" stroke-width="0.45"/>
<circle cx="328.0" cy="299.1" r="0.75" fill="none" stroke="#bcbec0" stroke-width="0.45"/>
<circle cx="328.1" cy="284.3" r="0.75" fill="none" stroke="#bcbec0" stroke-width="0.45"/>
<circle cx="331.9" cy="291.8" r="0.75" fill="none" stroke="#bcbec0" stroke-width="0.45"/>
<circle cx="324.9" cy="285.2" r="0.75" fill="none" stroke="#bcbec0" stroke-width="0.45"/>
<circle cx="333.2" cy="290.6" r="0.75" fill="none" stroke="#bcbec0" stroke-width="0.45"/>
<circle cx="326.0" cy="292.5" r="0.75" fill="none" stroke="#bcbec0" stroke-width="0.45"/>
<circle cx="327.2" cy="289.9" r="0.75" fill="none" stroke="#bcbec0" stroke-width="0.45"/>
<circle cx="332.3" cy="292.6" r="0.75" fill="none" stroke="#bcbec0" stroke-width="0.45"/>
<circle cx="334.6" cy="286.2" r="0.75" fill="none" stroke="#bcbec0" stroke-width="0.45"/>
<circle cx="329.9" cy="272.2" r="0.75" fill="none" stroke="#bcbec0" stroke-width="0.45"/>
<circle cx="334.4" cy="292.9" r="0.75" fill="none" stroke="#bcbec0" stroke-width="0.45"/>
<circle cx="329.1" cy="287.9" r="0.75" fill="none" stroke="#bcbec0" stroke-width="0.45"/>
<circle cx="333.4" cy="294.7" r="0.75" fill="none" stroke="#bcbec0" stroke-width="0.45"/>
<circle cx="329.2" cy="303.5" r="0.75" fill="none" stroke="#bcbec0" stroke-width="0.45"/>
<circle cx="331.0" cy="304.7" r="0.75" fill="none" stroke="#bcbec0" stroke-width="0.45"/>
<circle cx="330.5" cy="299.6" r="0.75" fill="none" stroke="#bcbec0" stroke-width="0.45"/>
<circle cx="324.9" cy="292.0" r="0.75" fill="none" stroke="#bcbec0" stroke-width="0.45"/>
<circle cx="325.6" cy="289.2" r="0.75" fill="none" stroke="#bcbec0" stroke-width="0.45"/>
<circle cx="330.5" cy="303.5" r="0.75" fill="none" stroke="#bcbec0" stroke-width="0.45"/>
<circle cx="325.5" cy="291.4" r="0.75" fill="none" stroke="#bcbec0" stroke-width="0.45"/>
<circle cx="331.0" cy="292.5" r="0.75" fill="none" stroke="#bcbec0" stroke-width="0.45"/>
<circle cx="331.6" cy="294.3" r="0.75" fill="none" stroke="#bcbec0" stroke-width="0.45"/>
<circle cx="333.9" cy="297.9" r="0.75" fill="none" stroke="#bcbec0" stroke-width="0.45"/>
<circle cx="329.1" cy="288.1" r="0.75" fill="none" stroke="#bcbec0" stroke-width="0.45"/>
<circle cx="327.1" cy="284.8" r="0.75" fill="none" stroke="#bcbec0" stroke-width="0.45"/>
<circle cx="334.8" cy="293.9" r="0.75" fill="none" stroke="#bcbec0" stroke-width="0.45"/>
<circle cx="328.1" cy="303.6" r="0.75" fill="none" stroke="#bcbec0" stroke-width="0.45"/>
<circle cx="326.2" cy="289.1" r="0.75" fill="none" stroke="#bcbec0" stroke-width="0.45"/>
<circle cx="332.2" cy="294.3" r="0.75" fill="none" stroke="#bcbec0" stroke-width="0.45"/>
<circle cx="325.6" cy="296.3" r="0.75" fill="none" stroke="#bcbec0" stroke-width="0.45"/>
<circle cx="327.1" cy="277.6" r="0.75" fill="none" stroke="#bcbec0" stroke-width="0.45"/>
<circle cx="329.1" cy="287.2" r="0.75" fill="none" stroke="#bcbec0" stroke-width="0.45"/>
<circle cx="329.3" cy="292.5" r="0.75" fill="none" stroke="#bcbec0" stroke-width="0.45"/>
<circle cx="332.4" cy="279.4" r="0.75" fill="none" stroke="#bcbec0" stroke-width="0.45"/>
<circle cx="328.8" cy="283.7" r="0.75" fill="none" stroke="#bcbec0" stroke-width="0.45"/>
<circle cx="334.4" cy="285.2" r="0.75" fill="none" stroke="#bcbec0" stroke-width="0.45"/>
<circle cx="330.2" cy="302.2" r="0.75" fill="none" stroke="#bcbec0" stroke-width="0.45"/>
<circle cx="329.1" cy="228.6" r="0.7" fill="none" stroke="#bcbec0" stroke-width="0.4"/>
<circle cx="329.2" cy="253" r="0.7" fill="none" stroke="#bcbec0" stroke-width="0.4"/>
<circle cx="329.6" cy="258" r="0.7" fill="none" stroke="#bcbec0" stroke-width="0.4"/>
<circle cx="330.2" cy="262" r="0.7" fill="none" stroke="#bcbec0" stroke-width="0.4"/>
<circle cx="328.8" cy="264" r="0.7" fill="none" stroke="#bcbec0" stroke-width="0.4"/>
<circle cx="330.4" cy="266" r="0.7" fill="none" stroke="#bcbec0" stroke-width="0.4"/>
<circle cx="330.4" cy="268" r="0.7" fill="none" stroke="#bcbec0" stroke-width="0.4"/>
<circle cx="329.8" cy="270" r="0.7" fill="none" stroke="#bcbec0" stroke-width="0.4"/>
<circle cx="328.8" cy="272" r="0.7" fill="none" stroke="#bcbec0" stroke-width="0.4"/>
<circle cx="330.4" cy="274" r="0.7" fill="none" stroke="#bcbec0" stroke-width="0.4"/>
<path d="M346.3,263.1h0M348.9,272.8h0M346.0,268.3h0M350.8,272.9h0M345.5,272.6h0M344.4,273.3h0M348.3,288.7h0M349.3,269.4h0M345.7,289.2h0M349.5,277.7h0M343.0,277.5h0M348.9,288.1h0M350.5,271.3h0M342.2,278.9h0M344.8,289.2h0M349.1,272.1h0M347.0,260.9h0M346.1,269.8h0M349.6,281.2h0M342.5,276.9h0M350.7,277.8h0M346.1,281.9h0M349.2,277.5h0M348.0,271.6h0M348.5,285.2h0M344.0,283.2h0M345.4,274.4h0M350.7,272.5h0M346.2,267.4h0M348.0,263.8h0M346.3,271.4h0M351.0,283.1h0M346.5,271.6h0M344.3,287.1h0M348.0,286.4h0M347.0,285.4h0M348.2,278.2h0M345.5,273.7h0M341.7,278.6h0M346.6,291.4h0M348.5,290.2h0M343.0,285.6h0M348.3,268.6h0M349.1,280.2h0M344.6,266.9h0M345.4,292.1h0M343.3,279.9h0M346.7,274.3h0M351.2,275.7h0M346.4,282.1h0M351.1,279.7h0M344.1,271.8h0M350.1,286.5h0M349.2,271.6h0M349.8,270.9h0M346.2,270.4h0M347.9,291.1h0M347.9,287.5h0M346.3,278.3h0M349.7,272.0h0M345.8,293.9h0M348.5,273.7h0M344.0,269.9h0M342.9,275.4h0M345.0,268.2h0M345.3,280.0h0M347.1,264.1h0M343.4,273.4h0M350.9,283.6h0M351.3,272.8h0M350.8,284.4h0M345.8,285.6h0M342.6,271.0h0M343.6,276.2h0M348.0,282.6h0M347.3,282.5h0M345.9,288.6h0M351.2,274.1h0M349.9,271.0h0M348.1,270.1h0M345.0,270.7h0M350.3,285.8h0M342.0,279.2h0M344.7,287.4h0M346.8,279.0h0M347.7,288.3h0M347.9,287.5h0M347.8,266.0h0M341.8,278.4h0M345.9,278.0h0M347.3,284.5h0M341.4,277.0h0M347.0,261.7h0M349.2,286.1h0M343.7,283.2h0M350.3,278.9h0M345.8,291.5h0M349.0,288.2h0M350.7,270.6h0M345.7,277.7h0M350.3,277.4h0M351.7,275.3h0M345.2,287.4h0M344.0,285.9h0M350.4,269.8h0M350.4,286.3h0M347.6,288.3h0M343.0,278.0h0M345.2,276.8h0M349.4,267.2h0M343.0,278.3h0M343.2,282.4h0M344.9,264.8h0M346.7,270.0h0M346.1,268.2h0M347.1,273.3h0M345.9,280.9h0M343.9,278.7h0M350.2,278.7h0M344.3,271.8h0M345.8,285.2h0M345.1,282.9h0M348.5,279.0h0M349.8,272.1h0M349.8,268.3h0M347.8,280.9h0M342.2,279.6h0M344.9,280.9h0M346.2,287.1h0M345.0,283.9h0" stroke="#ed1c24" stroke-width="1.4" stroke-linecap="round" fill="none"/>
<path d="M346.7,305.9h0M346.2,295.1h0M346.3,297.5h0M347.4,302.7h0M346.6,295.3h0M345.9,294.7h0M347.3,301.9h0M346.1,301.6h0M345.9,300.0h0M346.4,294.4h0M347.1,302.9h0M346.7,295.3h0" stroke="#ed1c24" stroke-width="1.2" stroke-linecap="round" fill="none" opacity="1.0"/>
<circle cx="365.3" cy="286.0" r="0.75" fill="none" stroke="#bcbec0" stroke-width="0.45"/>
<circle cx="360.1" cy="282.6" r="0.75" fill="none" stroke="#bcbec0" stroke-width="0.45"/>
<circle cx="360.5" cy="290.7" r="0.75" fill="none" stroke="#bcbec0" stroke-width="0.45"/>
<circle cx="362.5" cy="289.7" r="0.75" fill="none" stroke="#bcbec0" stroke-width="0.45"/>
<circle cx="365.7" cy="291.2" r="0.75" fill="none" stroke="#bcbec0" stroke-width="0.45"/>
<circle cx="368.9" cy="293.4" r="0.75" fill="none" stroke="#bcbec0" stroke-width="0.45"/>
<circle cx="365.4" cy="286.9" r="0.75" fill="none" stroke="#bcbec0" stroke-width="0.45"/>
<circle cx="360.9" cy="295.5" r="0.75" fill="none" stroke="#bcbec0" stroke-width="0.45"/>
<circle cx="363.1" cy="280.2" r="0.75" fill="none" stroke="#bcbec0" stroke-width="0.45"/>
<circle cx="360.6" cy="297.2" r="0.75" fill="none" stroke="#bcbec0" stroke-width="0.45"/>
<circle cx="367.3" cy="299.1" r="0.75" fill="none" stroke="#bcbec0" stroke-width="0.45"/>
<circle cx="367.9" cy="294.4" r="0.75" fill="none" stroke="#bcbec0" stroke-width="0.45"/>
<circle cx="363.5" cy="297.7" r="0.75" fill="none" stroke="#bcbec0" stroke-width="0.45"/>
<circle cx="360.6" cy="295.6" r="0.75" fill="none" stroke="#bcbec0" stroke-width="0.45"/>
<circle cx="366.7" cy="285.6" r="0.75" fill="none" stroke="#bcbec0" stroke-width="0.45"/>
<circle cx="361.9" cy="281.9" r="0.75" fill="none" stroke="#bcbec0" stroke-width="0.45"/>
<circle cx="363.5" cy="303.5" r="0.75" fill="none" stroke="#bcbec0" stroke-width="0.45"/>
<circle cx="360.2" cy="284.2" r="0.75" fill="none" stroke="#bcbec0" stroke-width="0.45"/>
<circle cx="365.5" cy="286.0" r="0.75" fill="none" stroke="#bcbec0" stroke-width="0.45"/>
<circle cx="365.8" cy="290.5" r="0.75" fill="none" stroke="#bcbec0" stroke-width="0.45"/>
<circle cx="362.7" cy="270.8" r="0.75" fill="none" stroke="#bcbec0" stroke-width="0.45"/>
<circle cx="365.1" cy="279.8" r="0.75" fill="none" stroke="#bcbec0" stroke-width="0.45"/>
<circle cx="361.6" cy="291.3" r="0.75" fill="none" stroke="#bcbec0" stroke-width="0.45"/>
<circle cx="358.9" cy="286.4" r="0.75" fill="none" stroke="#bcbec0" stroke-width="0.45"/>
<circle cx="362.6" cy="279.0" r="0.75" fill="none" stroke="#bcbec0" stroke-width="0.45"/>
<circle cx="365.4" cy="283.7" r="0.75" fill="none" stroke="#bcbec0" stroke-width="0.45"/>
<circle cx="361.8" cy="281.6" r="0.75" fill="none" stroke="#bcbec0" stroke-width="0.45"/>
<circle cx="367.1" cy="299.5" r="0.75" fill="none" stroke="#bcbec0" stroke-width="0.45"/>
<circle cx="359.0" cy="289.5" r="0.75" fill="none" stroke="#bcbec0" stroke-width="0.45"/>
<circle cx="366.1" cy="290.4" r="0.75" fill="none" stroke="#bcbec0" stroke-width="0.45"/>
<circle cx="360.6" cy="297.6" r="0.75" fill="none" stroke="#bcbec0" stroke-width="0.45"/>
<circle cx="366.6" cy="281.5" r="0.75" fill="none" stroke="#bcbec0" stroke-width="0.45"/>
<circle cx="362.3" cy="289.3" r="0.75" fill="none" stroke="#bcbec0" stroke-width="0.45"/>
<circle cx="365.4" cy="286.2" r="0.75" fill="none" stroke="#bcbec0" stroke-width="0.45"/>
<circle cx="362.0" cy="292.5" r="0.75" fill="none" stroke="#bcbec0" stroke-width="0.45"/>
<circle cx="367.8" cy="290.2" r="0.75" fill="none" stroke="#bcbec0" stroke-width="0.45"/>
<circle cx="367.2" cy="297.1" r="0.75" fill="none" stroke="#bcbec0" stroke-width="0.45"/>
<circle cx="366.8" cy="289.9" r="0.75" fill="none" stroke="#bcbec0" stroke-width="0.45"/>
<circle cx="367.8" cy="297.2" r="0.75" fill="none" stroke="#bcbec0" stroke-width="0.45"/>
<circle cx="364.8" cy="282.1" r="0.75" fill="none" stroke="#bcbec0" stroke-width="0.45"/>
<circle cx="361.4" cy="299.9" r="0.75" fill="none" stroke="#bcbec0" stroke-width="0.45"/>
<circle cx="363.8" cy="286.8" r="0.75" fill="none" stroke="#bcbec0" stroke-width="0.45"/>
<circle cx="362.5" cy="282.9" r="0.75" fill="none" stroke="#bcbec0" stroke-width="0.45"/>
<circle cx="363.7" cy="290.9" r="0.75" fill="none" stroke="#bcbec0" stroke-width="0.45"/>
<circle cx="361.4" cy="285.3" r="0.75" fill="none" stroke="#bcbec0" stroke-width="0.45"/>
<circle cx="363.6" cy="287.1" r="0.75" fill="none" stroke="#bcbec0" stroke-width="0.45"/>
<circle cx="364.9" cy="281.8" r="0.75" fill="none" stroke="#bcbec0" stroke-width="0.45"/>
<circle cx="360.1" cy="289.9" r="0.75" fill="none" stroke="#bcbec0" stroke-width="0.45"/>
<circle cx="366.1" cy="283.8" r="0.75" fill="none" stroke="#bcbec0" stroke-width="0.45"/>
<circle cx="365.9" cy="288.8" r="0.75" fill="none" stroke="#bcbec0" stroke-width="0.45"/>
<circle cx="360.8" cy="292.0" r="0.75" fill="none" stroke="#bcbec0" stroke-width="0.45"/>
<circle cx="366.7" cy="280.6" r="0.75" fill="none" stroke="#bcbec0" stroke-width="0.45"/>
<circle cx="361.8" cy="282.4" r="0.75" fill="none" stroke="#bcbec0" stroke-width="0.45"/>
<circle cx="362.5" cy="289.6" r="0.75" fill="none" stroke="#bcbec0" stroke-width="0.45"/>
<circle cx="363.4" cy="286.3" r="0.75" fill="none" stroke="#bcbec0" stroke-width="0.45"/>
<circle cx="364.6" cy="275.8" r="0.75" fill="none" stroke="#bcbec0" stroke-width="0.45"/>
<circle cx="362.0" cy="292.1" r="0.75" fill="none" stroke="#bcbec0" stroke-width="0.45"/>
<circle cx="362.1" cy="298.6" r="0.75" fill="none" stroke="#bcbec0" stroke-width="0.45"/>
<circle cx="365.5" cy="281.6" r="0.75" fill="none" stroke="#bcbec0" stroke-width="0.45"/>
<circle cx="361.6" cy="300.5" r="0.75" fill="none" stroke="#bcbec0" stroke-width="0.45"/>
<circle cx="365.3" cy="291.5" r="0.75" fill="none" stroke="#bcbec0" stroke-width="0.45"/>
<circle cx="364.4" cy="304.0" r="0.75" fill="none" stroke="#bcbec0" stroke-width="0.45"/>
<circle cx="361.7" cy="282.0" r="0.75" fill="none" stroke="#bcbec0" stroke-width="0.45"/>
<circle cx="360.3" cy="280.9" r="0.75" fill="none" stroke="#bcbec0" stroke-width="0.45"/>
<circle cx="368.7" cy="288.8" r="0.75" fill="none" stroke="#bcbec0" stroke-width="0.45"/>
<circle cx="363.9" cy="291.7" r="0.75" fill="none" stroke="#bcbec0" stroke-width="0.45"/>
<circle cx="365.7" cy="280.1" r="0.75" fill="none" stroke="#bcbec0" stroke-width="0.45"/>
<circle cx="363.0" cy="271.8" r="0.75" fill="none" stroke="#bcbec0" stroke-width="0.45"/>
<circle cx="366.9" cy="288.1" r="0.75" fill="none" stroke="#bcbec0" stroke-width="0.45"/>
<circle cx="366.1" cy="293.4" r="0.75" fill="none" stroke="#bcbec0" stroke-width="0.45"/>
<circle cx="361.6" cy="282.4" r="0.75" fill="none" stroke="#bcbec0" stroke-width="0.45"/>
<circle cx="363.5" cy="290.7" r="0.75" fill="none" stroke="#bcbec0" stroke-width="0.45"/>
<circle cx="367.2" cy="286.1" r="0.75" fill="none" stroke="#bcbec0" stroke-width="0.45"/>
<circle cx="364.7" cy="273.6" r="0.75" fill="none" stroke="#bcbec0" stroke-width="0.45"/>
<circle cx="362.0" cy="282.3" r="0.75" fill="none" stroke="#bcbec0" stroke-width="0.45"/>
<circle cx="368.7" cy="293.2" r="0.75" fill="none" stroke="#bcbec0" stroke-width="0.45"/>
<circle cx="361.2" cy="292.0" r="0.75" fill="none" stroke="#bcbec0" stroke-width="0.45"/>
<circle cx="367.9" cy="294.4" r="0.75" fill="none" stroke="#bcbec0" stroke-width="0.45"/>
<circle cx="367.2" cy="294.4" r="0.75" fill="none" stroke="#bcbec0" stroke-width="0.45"/>
<circle cx="367.4" cy="284.4" r="0.75" fill="none" stroke="#bcbec0" stroke-width="0.45"/>
<circle cx="366.4" cy="285.4" r="0.75" fill="none" stroke="#bcbec0" stroke-width="0.45"/>
<circle cx="362.2" cy="292.4" r="0.75" fill="none" stroke="#bcbec0" stroke-width="0.45"/>
<circle cx="363.3" cy="302.7" r="0.75" fill="none" stroke="#bcbec0" stroke-width="0.45"/>
<circle cx="363.0" cy="301.9" r="0.75" fill="none" stroke="#bcbec0" stroke-width="0.45"/>
<circle cx="358.8" cy="285.0" r="0.75" fill="none" stroke="#bcbec0" stroke-width="0.45"/>
<circle cx="362.4" cy="286.6" r="0.75" fill="none" stroke="#bcbec0" stroke-width="0.45"/>
<circle cx="362.2" cy="289.2" r="0.75" fill="none" stroke="#bcbec0" stroke-width="0.45"/>
<circle cx="366.5" cy="290.9" r="0.75" fill="none" stroke="#bcbec0" stroke-width="0.45"/>
<circle cx="364.8" cy="284.1" r="0.75" fill="none" stroke="#bcbec0" stroke-width="0.45"/>
<circle cx="361.5" cy="300.6" r="0.75" fill="none" stroke="#bcbec0" stroke-width="0.45"/>
<circle cx="364.2" cy="302.0" r="0.75" fill="none" stroke="#bcbec0" stroke-width="0.45"/>
<circle cx="361.3" cy="291.6" r="0.75" fill="none" stroke="#bcbec0" stroke-width="0.45"/>
<circle cx="367.7" cy="294.9" r="0.75" fill="none" stroke="#bcbec0" stroke-width="0.45"/>
<circle cx="364.4" cy="291.2" r="0.75" fill="none" stroke="#bcbec0" stroke-width="0.45"/>
<circle cx="362.4" cy="300.7" r="0.75" fill="none" stroke="#bcbec0" stroke-width="0.45"/>
<circle cx="364.9" cy="297.0" r="0.75" fill="none" stroke="#bcbec0" stroke-width="0.45"/>
<circle cx="364.7" cy="291.7" r="0.75" fill="none" stroke="#bcbec0" stroke-width="0.45"/>
<circle cx="360.6" cy="286.0" r="0.75" fill="none" stroke="#bcbec0" stroke-width="0.45"/>
<circle cx="361.5" cy="289.8" r="0.75" fill="none" stroke="#bcbec0" stroke-width="0.45"/>
<circle cx="367.3" cy="283.5" r="0.75" fill="none" stroke="#bcbec0" stroke-width="0.45"/>
<circle cx="362.8" cy="236" r="0.7" fill="none" stroke="#bcbec0" stroke-width="0.4"/>
<circle cx="364.6" cy="250" r="0.7" fill="none" stroke="#bcbec0" stroke-width="0.4"/>
<circle cx="363.1" cy="254" r="0.7" fill="none" stroke="#bcbec0" stroke-width="0.4"/>
<circle cx="364.3" cy="257" r="0.7" fill="none" stroke="#bcbec0" stroke-width="0.4"/>
<circle cx="363.1" cy="260" r="0.7" fill="none" stroke="#bcbec0" stroke-width="0.4"/>
<circle cx="363.8" cy="263" r="0.7" fill="none" stroke="#bcbec0" stroke-width="0.4"/>
<circle cx="363.4" cy="266" r="0.7" fill="none" stroke="#bcbec0" stroke-width="0.4"/>
<circle cx="362.7" cy="268" r="0.7" fill="none" stroke="#bcbec0" stroke-width="0.4"/>
<circle cx="364.2" cy="270" r="0.7" fill="none" stroke="#bcbec0" stroke-width="0.4"/>
<circle cx="364.2" cy="273" r="0.7" fill="none" stroke="#bcbec0" stroke-width="0.4"/>
<path d="M378.5,296.2h0M386.6,294.3h0M377.5,285.8h0M382.3,289.7h0M384.0,296.3h0M379.9,297.6h0M383.5,286.2h0M383.6,297.1h0M380.4,296.2h0M380.6,295.9h0M377.7,293.0h0M376.5,296.0h0M379.5,293.1h0M379.3,286.0h0M383.2,296.3h0M377.3,291.2h0M380.0,285.5h0M385.2,292.6h0M379.5,296.5h0M381.6,288.5h0M379.4,300.8h0M380.1,301.3h0M381.3,300.3h0M379.5,299.4h0M379.5,287.2h0M380.6,304.2h0M380.1,299.0h0M377.2,291.5h0M380.5,288.1h0M380.3,284.9h0M380.5,294.3h0M382.5,304.5h0M377.3,285.6h0M378.8,300.6h0M382.1,302.6h0M381.0,290.7h0M377.7,288.9h0M382.7,293.8h0M382.6,291.4h0M377.4,288.4h0M381.1,290.1h0M378.9,290.5h0M380.8,289.8h0M382.3,292.0h0M382.9,296.8h0M381.5,297.3h0M381.5,284.7h0M378.9,285.5h0M381.3,281.7h0M383.6,297.4h0M385.7,288.4h0M384.1,298.4h0M382.3,291.3h0M375.8,290.6h0M382.9,286.1h0M377.3,291.7h0M375.9,296.8h0M384.2,286.1h0M381.9,281.7h0M381.3,297.6h0M385.4,295.9h0M379.3,289.8h0M377.0,298.9h0M376.1,294.1h0M377.2,290.8h0M378.7,290.8h0M385.5,290.5h0M380.8,278.8h0M385.9,294.6h0M384.0,288.0h0M376.3,292.6h0M385.2,288.5h0M383.5,284.6h0M377.1,290.2h0M384.2,290.8h0M380.6,286.2h0M378.9,298.4h0M378.1,292.7h0M381.8,280.8h0M378.0,289.4h0M386.0,295.9h0M381.0,287.9h0M376.6,298.8h0M385.4,293.3h0M380.3,282.4h0M383.7,294.6h0M382.4,298.9h0M378.1,286.5h0M385.2,297.5h0M383.2,285.5h0M377.5,294.5h0M384.6,292.1h0M377.3,287.1h0M380.8,291.6h0M380.2,302.2h0M380.4,289.1h0M375.4,290.9h0M384.8,294.6h0M381.5,288.4h0M378.0,285.8h0M383.6,287.7h0M384.1,289.7h0M380.4,287.9h0M381.9,282.4h0M376.9,297.1h0M380.0,291.9h0M378.1,289.4h0M385.3,292.9h0M377.5,290.3h0M381.9,295.5h0M381.4,295.8h0M380.5,300.0h0M379.1,280.7h0M386.0,292.8h0M384.1,293.7h0M381.8,294.8h0M383.8,288.7h0M378.8,292.0h0M381.8,292.4h0M382.5,288.5h0" stroke="#ed1c24" stroke-width="1.4" stroke-linecap="round" fill="none"/>
<line x1="323.80" y1="289.50" x2="335.80" y2="289.50" stroke="#000" stroke-width="1.7" stroke-linecap="butt"/>
<line x1="340.70" y1="278.50" x2="352.70" y2="278.50" stroke="#000" stroke-width="1.7" stroke-linecap="butt"/>
<line x1="357.60" y1="290.10" x2="369.60" y2="290.10" stroke="#000" stroke-width="1.7" stroke-linecap="butt"/>
<line x1="375.00" y1="293.10" x2="387.00" y2="293.10" stroke="#000" stroke-width="1.7" stroke-linecap="butt"/>
<line x1="318.60" y1="209.15" x2="318.60" y2="307.85" stroke="#231f20" stroke-width="0.9" stroke-linecap="butt"/>
<line x1="314.60" y1="209.50" x2="318.60" y2="209.50" stroke="#231f20" stroke-width="0.9" stroke-linecap="butt"/>
<text x="313.00" y="212.02" font-size="7" text-anchor="end" fill="#231f20" stroke="#231f20" stroke-width="0.16" >100</text>
<line x1="314.60" y1="229.10" x2="318.60" y2="229.10" stroke="#231f20" stroke-width="0.9" stroke-linecap="butt"/>
<text x="313.00" y="231.62" font-size="7" text-anchor="end" fill="#231f20" stroke="#231f20" stroke-width="0.16" >80</text>
<line x1="314.60" y1="248.70" x2="318.60" y2="248.70" stroke="#231f20" stroke-width="0.9" stroke-linecap="butt"/>
<text x="313.00" y="251.22" font-size="7" text-anchor="end" fill="#231f20" stroke="#231f20" stroke-width="0.16" >60</text>
<line x1="314.60" y1="268.30" x2="318.60" y2="268.30" stroke="#231f20" stroke-width="0.9" stroke-linecap="butt"/>
<text x="313.00" y="270.82" font-size="7" text-anchor="end" fill="#231f20" stroke="#231f20" stroke-width="0.16" >40</text>
<line x1="314.60" y1="287.90" x2="318.60" y2="287.90" stroke="#231f20" stroke-width="0.9" stroke-linecap="butt"/>
<text x="313.00" y="290.42" font-size="7" text-anchor="end" fill="#231f20" stroke="#231f20" stroke-width="0.16" >20</text>
<line x1="314.60" y1="307.50" x2="318.60" y2="307.50" stroke="#231f20" stroke-width="0.9" stroke-linecap="butt"/>
<text x="313.00" y="310.02" font-size="7" text-anchor="end" fill="#231f20" stroke="#231f20" stroke-width="0.16" >0</text>
<line x1="318.15" y1="307.50" x2="392.60" y2="307.50" stroke="#231f20" stroke-width="0.9" stroke-linecap="butt"/>
<text x="338.20" y="215.87" font-size="9.5" text-anchor="middle" fill="#231f20" stroke="#231f20" stroke-width="0.32">***</text>
<line x1="329.10" y1="215.90" x2="348.20" y2="215.90" stroke="#808285" stroke-width="1.2" stroke-linecap="butt"/>
<text x="363.40" y="225.37" font-size="9.5" text-anchor="middle" fill="#231f20" stroke="#231f20" stroke-width="0.32">***</text>
<line x1="347.10" y1="225.80" x2="381.00" y2="225.80" stroke="#808285" stroke-width="1.2" stroke-linecap="butt"/>
<text x="314.75" y="315.92" font-size="7" text-anchor="end" fill="#231f20" stroke="#231f20" stroke-width="0.16" >MYC</text>
<text x="314.75" y="324.52" font-size="7" text-anchor="end" fill="#231f20" stroke="#231f20" stroke-width="0.16" >shXDH</text>
<line x1="326.30" y1="313.80" x2="333.30" y2="313.80" stroke="#231f20" stroke-width="1.15" stroke-linecap="butt"/>
<line x1="343.80" y1="313.80" x2="349.60" y2="313.80" stroke="#231f20" stroke-width="1.15" stroke-linecap="butt"/>
<line x1="346.70" y1="310.90" x2="346.70" y2="316.70" stroke="#231f20" stroke-width="1.15" stroke-linecap="butt"/>
<line x1="360.10" y1="313.80" x2="367.10" y2="313.80" stroke="#231f20" stroke-width="1.15" stroke-linecap="butt"/>
<line x1="378.10" y1="313.80" x2="383.90" y2="313.80" stroke="#231f20" stroke-width="1.15" stroke-linecap="butt"/>
<line x1="381.00" y1="310.90" x2="381.00" y2="316.70" stroke="#231f20" stroke-width="1.15" stroke-linecap="butt"/>
<line x1="326.30" y1="322.10" x2="333.30" y2="322.10" stroke="#231f20" stroke-width="1.15" stroke-linecap="butt"/>
<line x1="343.20" y1="322.10" x2="350.20" y2="322.10" stroke="#231f20" stroke-width="1.15" stroke-linecap="butt"/>
<line x1="360.70" y1="322.10" x2="366.50" y2="322.10" stroke="#231f20" stroke-width="1.15" stroke-linecap="butt"/>
<line x1="363.60" y1="319.20" x2="363.60" y2="325.00" stroke="#231f20" stroke-width="1.15" stroke-linecap="butt"/>
<line x1="378.10" y1="322.10" x2="383.90" y2="322.10" stroke="#231f20" stroke-width="1.15" stroke-linecap="butt"/>
<line x1="381.00" y1="319.20" x2="381.00" y2="325.00" stroke="#231f20" stroke-width="1.15" stroke-linecap="butt"/>
<text transform="translate(299.50,258.20) rotate(-90)" x="0" y="2.52" font-size="7" text-anchor="middle" fill="#231f20" stroke="#231f20" stroke-width="0.16" >ROS intensity (A.U.)</text>
</g>
<g id="panelG">
<text x="408.00" y="202.86" font-size="11" text-anchor="start" font-weight="bold" fill="#000" stroke="#000" stroke-width="0.16" >G</text>
<rect x="448.70" y="298.10" width="12.10" height="9.10" fill="#a7a9ac"/>
<line x1="454.75" y1="292.20" x2="454.75" y2="303.90" stroke="#231f20" stroke-width="0.85" stroke-linecap="butt"/>
<line x1="452.15" y1="292.20" x2="457.35" y2="292.20" stroke="#231f20" stroke-width="0.85" stroke-linecap="butt"/>
<line x1="452.15" y1="303.90" x2="457.35" y2="303.90" stroke="#231f20" stroke-width="0.85" stroke-linecap="butt"/>
<rect x="467.00" y="246.20" width="12.20" height="61.00" fill="#ed1c24"/>
<line x1="473.10" y1="236.30" x2="473.10" y2="256.30" stroke="#231f20" stroke-width="0.85" stroke-linecap="butt"/>
<line x1="470.50" y1="236.30" x2="475.70" y2="236.30" stroke="#231f20" stroke-width="0.85" stroke-linecap="butt"/>
<line x1="470.50" y1="256.30" x2="475.70" y2="256.30" stroke="#231f20" stroke-width="0.85" stroke-linecap="butt"/>
<rect x="485.00" y="300.40" width="12.70" height="6.80" fill="#a7a9ac"/>
<line x1="491.35" y1="298.40" x2="491.35" y2="301.90" stroke="#231f20" stroke-width="0.85" stroke-linecap="butt"/>
<line x1="488.75" y1="298.40" x2="493.95" y2="298.40" stroke="#231f20" stroke-width="0.85" stroke-linecap="butt"/>
<line x1="488.75" y1="301.90" x2="493.95" y2="301.90" stroke="#231f20" stroke-width="0.85" stroke-linecap="butt"/>
<rect x="503.10" y="285.40" width="12.60" height="21.80" fill="#ed1c24"/>
<line x1="509.40" y1="278.25" x2="509.40" y2="292.60" stroke="#231f20" stroke-width="0.85" stroke-linecap="butt"/>
<line x1="506.80" y1="278.25" x2="512.00" y2="278.25" stroke="#231f20" stroke-width="0.85" stroke-linecap="butt"/>
<line x1="506.80" y1="292.60" x2="512.00" y2="292.60" stroke="#231f20" stroke-width="0.85" stroke-linecap="butt"/>
<line x1="445.80" y1="208.00" x2="445.80" y2="307.55" stroke="#231f20" stroke-width="0.9" stroke-linecap="butt"/>
<line x1="442.20" y1="208.35" x2="445.80" y2="208.35" stroke="#231f20" stroke-width="0.9" stroke-linecap="butt"/>
<text x="440.60" y="210.87" font-size="7" text-anchor="end" fill="#231f20" stroke="#231f20" stroke-width="0.16" >20</text>
<line x1="442.20" y1="233.06" x2="445.80" y2="233.06" stroke="#231f20" stroke-width="0.9" stroke-linecap="butt"/>
<text x="440.60" y="235.58" font-size="7" text-anchor="end" fill="#231f20" stroke="#231f20" stroke-width="0.16" >15</text>
<line x1="442.20" y1="257.77" x2="445.80" y2="257.77" stroke="#231f20" stroke-width="0.9" stroke-linecap="butt"/>
<text x="440.60" y="260.29" font-size="7" text-anchor="end" fill="#231f20" stroke="#231f20" stroke-width="0.16" >10</text>
<line x1="442.20" y1="282.49" x2="445.80" y2="282.49" stroke="#231f20" stroke-width="0.9" stroke-linecap="butt"/>
<text x="440.60" y="285.01" font-size="7" text-anchor="end" fill="#231f20" stroke="#231f20" stroke-width="0.16" >5</text>
<line x1="442.20" y1="307.20" x2="445.80" y2="307.20" stroke="#231f20" stroke-width="0.9" stroke-linecap="butt"/>
<text x="440.60" y="309.72" font-size="7" text-anchor="end" fill="#231f20" stroke="#231f20" stroke-width="0.16" >0</text>
<line x1="445.35" y1="307.20" x2="519.60" y2="307.20" stroke="#231f20" stroke-width="0.9" stroke-linecap="butt"/>
<text x="488.30" y="217.87" font-size="9.5" text-anchor="middle" fill="#231f20" stroke="#231f20" stroke-width="0.32">*</text>
<line x1="472.80" y1="218.40" x2="506.40" y2="218.40" stroke="#231f20" stroke-width="0.9" stroke-linecap="butt"/>
<text x="441.70" y="315.12" font-size="7" text-anchor="end" fill="#231f20" stroke="#231f20" stroke-width="0.16" >MYC</text>
<text x="441.70" y="324.22" font-size="7" text-anchor="end" fill="#231f20" stroke="#231f20" stroke-width="0.16" >shXDH</text>
<line x1="451.10" y1="312.80" x2="458.10" y2="312.80" stroke="#231f20" stroke-width="1.15" stroke-linecap="butt"/>
<line x1="469.50" y1="312.80" x2="475.30" y2="312.80" stroke="#231f20" stroke-width="1.15" stroke-linecap="butt"/>
<line x1="472.40" y1="309.90" x2="472.40" y2="315.70" stroke="#231f20" stroke-width="1.15" stroke-linecap="butt"/>
<line x1="487.80" y1="312.80" x2="494.80" y2="312.80" stroke="#231f20" stroke-width="1.15" stroke-linecap="butt"/>
<line x1="506.00" y1="312.80" x2="511.80" y2="312.80" stroke="#231f20" stroke-width="1.15" stroke-linecap="butt"/>
<line x1="508.90" y1="309.90" x2="508.90" y2="315.70" stroke="#231f20" stroke-width="1.15" stroke-linecap="butt"/>
<line x1="451.10" y1="321.70" x2="458.10" y2="321.70" stroke="#231f20" stroke-width="1.15" stroke-linecap="butt"/>
<line x1="468.90" y1="321.70" x2="475.90" y2="321.70" stroke="#231f20" stroke-width="1.15" stroke-linecap="butt"/>
<line x1="488.40" y1="321.70" x2="494.20" y2="321.70" stroke="#231f20" stroke-width="1.15" stroke-linecap="butt"/>
<line x1="491.30" y1="318.80" x2="491.30" y2="324.60" stroke="#231f20" stroke-width="1.15" stroke-linecap="butt"/>
<line x1="506.00" y1="321.70" x2="511.80" y2="321.70" stroke="#231f20" stroke-width="1.15" stroke-linecap="butt"/>
<line x1="508.90" y1="318.80" x2="508.90" y2="324.60" stroke="#231f20" stroke-width="1.15" stroke-linecap="butt"/>
<text transform="translate(428.20,258.70) rotate(-90)" x="0" y="2.52" font-size="7" text-anchor="middle" fill="#231f20" stroke="#231f20" stroke-width="0.16" >% Cell death</text>
</g>
<g id="panelH">
<text x="0.80" y="361.96" font-size="11" text-anchor="start" font-weight="bold" fill="#000" stroke="#000" stroke-width="0.16" >H</text>
<path d="M28.90,374.90 H116.90 V469.40 A52.70,52.70 0 0 1 28.90,470.01 Z" fill="#fdeae3"/>
<path d="M28.91,470.02 A52.70,52.70 0 0 0 116.49,470.02" fill="none" stroke="#a65a6f" stroke-width="7.60"/>
<path d="M28.74,470.13 A52.90,52.90 0 0 0 116.66,470.13" fill="none" stroke="#f4c4ca" stroke-width="5.60"/>
<path d="M30.14,469.19 A51.22,51.22 0 0 0 115.26,469.19" fill="none" stroke="#efb1bb" stroke-width="2.24"/>
<text x="75.40" y="381.38" font-size="6.9" text-anchor="middle" fill="#3a3a3a" stroke="#3a3a3a" stroke-width="0.16" >DIS3L</text>
<polyline points="42.90,389.21 43.20,389.44 43.50,389.55 43.80,389.51 44.10,389.34 44.40,389.05 44.70,388.65 45.00,388.18 45.30,387.68 45.60,387.18 45.90,386.71 46.20,386.33 46.50,386.04 46.80,385.88 47.10,385.86 47.40,385.97 47.70,386.22 48.00,386.58 48.30,387.02 48.60,387.51 48.90,388.02 49.20,388.50 49.50,388.92 49.80,389.25 50.10,389.47 50.40,389.55 50.70,389.49 51.00,389.30 51.30,388.99 51.60,388.58 51.90,388.10 52.20,387.59 52.50,387.10 52.80,386.64 53.10,386.27 53.40,386.01 53.70,385.87 54.00,385.87 54.30,386.01 54.60,386.27 54.90,386.64 55.20,387.10 55.50,387.59 55.80,388.10 56.10,388.58 56.40,388.99 56.70,389.30 57.00,389.49 57.30,389.55 57.60,389.47 57.90,389.25 58.20,388.92 58.50,388.50 58.80,388.02 59.10,387.51 59.40,387.02 59.70,386.58 60.00,386.22 60.30,385.97 60.60,385.86 60.90,385.88 61.20,386.04 61.50,386.33 61.80,386.71 62.10,387.18 62.40,387.68 62.70,388.18 63.00,388.65 63.30,389.05 63.60,389.34 63.90,389.51 64.20,389.55 64.50,389.44 64.80,389.21 65.10,388.86 65.40,388.42 65.70,387.93 66.00,387.43 66.30,386.94 66.60,386.51 66.90,386.17 67.20,385.94 67.50,385.85 67.80,385.90 68.10,386.08 68.40,386.38 68.70,386.79 69.00,387.26 69.30,387.76 69.60,388.26 69.90,388.72 70.20,389.10 70.50,389.38 70.80,389.53 71.10,389.54 71.40,389.41 71.70,389.16 72.00,388.79 72.30,388.34 72.60,387.85 72.90,387.34 73.20,386.86 73.50,386.45 73.80,386.12 74.10,385.92 74.40,385.85 74.70,385.92 75.00,386.12 75.30,386.45 75.60,386.86 75.90,387.34 76.20,387.85 76.50,388.34 76.80,388.79 77.10,389.16 77.40,389.41 77.70,389.54 78.00,389.53 78.30,389.38 78.60,389.10 78.90,388.72 79.20,388.26 79.50,387.76 79.80,387.26 80.10,386.79 80.40,386.38 80.70,386.08 81.00,385.90 81.30,385.85 81.60,385.94 81.90,386.17 82.20,386.51 82.50,386.94 82.80,387.43 83.10,387.93 83.40,388.42 83.70,388.86 84.00,389.21 84.30,389.44 84.60,389.55 84.90,389.51 85.20,389.34 85.50,389.05 85.80,388.65 86.10,388.18 86.40,387.68 86.70,387.18 87.00,386.71 87.30,386.33 87.60,386.04 87.90,385.88 88.20,385.86 88.50,385.97 88.80,386.22 89.10,386.58 89.40,387.02 89.70,387.51 90.00,388.02" fill="none" stroke="#1a1a1a" stroke-width="1.05" stroke-linejoin="round" stroke-linecap="round"/>
<path d="M96.20,388.20 L89.07,383.39 A8.6,8.6 0 1 1 89.24,393.25 Z" fill="#b6d66e" stroke="#231f20" stroke-width="0.9" stroke-linejoin="round"/>
<path d="M64.00,395.80 H70.90 V399.50 H64.00 A1.6,1.85 0 0 1 64.00,395.80 Z" fill="#3f6fb8"/>
<rect x="70.50" y="395.40" width="1.40" height="4.50" fill="#33324a"/>
<text x="66.85" y="398.97" font-size="3.4" text-anchor="middle" font-weight="bold" fill="#fff" stroke="#fff" stroke-width="0.16" >A</text>
<path d="M58.90,402.80 H66.00 V406.90 H58.90 A1.6,2.05 0 0 1 58.90,402.80 Z" fill="#3f6fb8"/>
<rect x="65.60" y="402.40" width="1.40" height="4.90" fill="#33324a"/>
<text x="61.85" y="406.17" font-size="3.4" text-anchor="middle" font-weight="bold" fill="#fff" stroke="#fff" stroke-width="0.16" >A</text>
<path d="M73.00,402.85 L75.40,400.80 H82.90 V404.90 H75.40 Z" fill="#d85c9e"/>
<rect x="82.50" y="400.40" width="1.40" height="4.90" fill="#33324a"/>
<text x="78.15" y="404.17" font-size="3.4" text-anchor="middle" font-weight="bold" fill="#fff" stroke="#fff" stroke-width="0.16" >G</text>
<path d="M68.80,410.65 L71.20,408.50 H78.90 V412.80 H71.20 Z" fill="#d85c9e"/>
<rect x="78.50" y="408.10" width="1.40" height="5.10" fill="#33324a"/>
<text x="74.05" y="411.97" font-size="3.4" text-anchor="middle" font-weight="bold" fill="#fff" stroke="#fff" stroke-width="0.16" >G</text>
<path d="M70.7,417.7 C67.4,423 67.2,429 69.2,434.2" fill="none" stroke="#f04e37" stroke-width="0.8"/>
<polygon points="70.30,437.00 67.93,434.88 70.31,433.82" fill="#f04e37"/>
<path d="M75.8,436.4 C77.8,430 77.8,424 75.7,420.4" fill="none" stroke="#222" stroke-width="0.8"/>
<polygon points="74.50,417.60 76.91,419.68 74.54,420.78" fill="#222"/>
<text x="91.20" y="429.65" font-size="6.8" text-anchor="middle" font-weight="bold" fill="#222" stroke="#222" stroke-width="0.16" >HPRT1</text>
<text x="72.90" y="445.92" font-size="7" text-anchor="middle" fill="#3a3a3a" stroke="#3a3a3a" stroke-width="0.16" >Guanine</text>
<text x="72.90" y="454.02" font-size="7" text-anchor="middle" fill="#3a3a3a" stroke="#3a3a3a" stroke-width="0.16" >Hypoxanthine</text>
<text x="60.20" y="461.54" font-size="5.4" text-anchor="middle" fill="#4d4d4f" stroke="#4d4d4f" stroke-width="0.16" >O<tspan font-size="3.8" dy="1.7">2</tspan></text>
<text x="60.80" y="474.34" font-size="5.4" text-anchor="middle" font-weight="bold" fill="#ed1c24" stroke="#ed1c24" stroke-width="0.16" >O<tspan font-size="3.8" dy="1.7">2</tspan><tspan font-size="4" dy="-5.2" dx="-0.6">•</tspan></text>
<line x1="72.90" y1="456.20" x2="72.90" y2="471.10" stroke="#f04e37" stroke-width="1.0" stroke-linecap="butt"/>
<polygon points="72.90,474.40 71.51,471.10 74.29,471.10" fill="#f04e37"/>
<path d="M63.2,460.2 C68.8,461.0 69.8,466.6 66.4,468.8" fill="none" stroke="#f04e37" stroke-width="0.8"/>
<polygon points="64.60,470.00 66.31,467.45 67.64,469.58" fill="#f04e37"/>
<text x="72.90" y="483.52" font-size="7" text-anchor="middle" fill="#3a3a3a" stroke="#3a3a3a" stroke-width="0.16" >Xanthine</text>
</g>
<g id="panelI">
<text x="134.00" y="362.06" font-size="11" text-anchor="start" font-weight="bold" fill="#000" stroke="#000" stroke-width="0.16" >I</text>
<text x="195.20" y="361.42" font-size="7" text-anchor="middle" fill="#231f20" stroke="#231f20" stroke-width="0.16" >MYC-ER HMECs</text>
<rect x="162.30" y="456.30" width="8.70" height="11.90" fill="#a7a9ac"/>
<line x1="166.65" y1="456.00" x2="166.65" y2="456.60" stroke="#231f20" stroke-width="0.85" stroke-linecap="butt"/>
<line x1="164.25" y1="456.00" x2="169.05" y2="456.00" stroke="#231f20" stroke-width="0.85" stroke-linecap="butt"/>
<line x1="164.25" y1="456.60" x2="169.05" y2="456.60" stroke="#231f20" stroke-width="0.85" stroke-linecap="butt"/>
<rect x="179.10" y="450.30" width="8.90" height="17.90" fill="#ed1c24"/>
<line x1="183.55" y1="448.00" x2="183.55" y2="452.50" stroke="#231f20" stroke-width="0.85" stroke-linecap="butt"/>
<line x1="181.15" y1="448.00" x2="185.95" y2="448.00" stroke="#231f20" stroke-width="0.85" stroke-linecap="butt"/>
<line x1="181.15" y1="452.50" x2="185.95" y2="452.50" stroke="#231f20" stroke-width="0.85" stroke-linecap="butt"/>
<rect x="196.30" y="457.90" width="9.00" height="10.30" fill="#a7a9ac"/>
<line x1="200.80" y1="457.60" x2="200.80" y2="458.20" stroke="#231f20" stroke-width="0.85" stroke-linecap="butt"/>
<line x1="198.40" y1="457.60" x2="203.20" y2="457.60" stroke="#231f20" stroke-width="0.85" stroke-linecap="butt"/>
<line x1="198.40" y1="458.20" x2="203.20" y2="458.20" stroke="#231f20" stroke-width="0.85" stroke-linecap="butt"/>
<rect x="213.60" y="412.20" width="8.50" height="56.00" fill="#ed1c24"/>
<line x1="217.85" y1="403.90" x2="217.85" y2="420.70" stroke="#231f20" stroke-width="0.85" stroke-linecap="butt"/>
<line x1="215.45" y1="403.90" x2="220.25" y2="403.90" stroke="#231f20" stroke-width="0.85" stroke-linecap="butt"/>
<line x1="215.45" y1="420.70" x2="220.25" y2="420.70" stroke="#231f20" stroke-width="0.85" stroke-linecap="butt"/>
<line x1="155.30" y1="377.55" x2="155.30" y2="468.55" stroke="#231f20" stroke-width="0.9" stroke-linecap="butt"/>
<line x1="151.70" y1="377.90" x2="155.30" y2="377.90" stroke="#231f20" stroke-width="0.9" stroke-linecap="butt"/>
<text x="150.10" y="380.42" font-size="7" text-anchor="end" fill="#231f20" stroke="#231f20" stroke-width="0.16" >15</text>
<line x1="151.70" y1="408.00" x2="155.30" y2="408.00" stroke="#231f20" stroke-width="0.9" stroke-linecap="butt"/>
<text x="150.10" y="410.52" font-size="7" text-anchor="end" fill="#231f20" stroke="#231f20" stroke-width="0.16" >10</text>
<line x1="151.70" y1="438.10" x2="155.30" y2="438.10" stroke="#231f20" stroke-width="0.9" stroke-linecap="butt"/>
<text x="150.10" y="440.62" font-size="7" text-anchor="end" fill="#231f20" stroke="#231f20" stroke-width="0.16" >5</text>
<line x1="151.70" y1="468.20" x2="155.30" y2="468.20" stroke="#231f20" stroke-width="0.9" stroke-linecap="butt"/>
<text x="150.10" y="470.72" font-size="7" text-anchor="end" fill="#231f20" stroke="#231f20" stroke-width="0.16" >0</text>
<line x1="154.85" y1="468.20" x2="228.80" y2="468.20" stroke="#231f20" stroke-width="0.9" stroke-linecap="butt"/>
<text x="198.60" y="399.17" font-size="9.5" text-anchor="middle" fill="#231f20" stroke="#231f20" stroke-width="0.32">**</text>
<line x1="181.80" y1="399.90" x2="218.70" y2="399.90" stroke="#231f20" stroke-width="0.9" stroke-linecap="butt"/>
<text x="154.90" y="479.02" font-size="7" text-anchor="end" fill="#231f20" stroke="#231f20" stroke-width="0.16" >MYC</text>
<text x="154.90" y="487.92" font-size="7" text-anchor="end" fill="#231f20" stroke="#231f20" stroke-width="0.16" >shHPRT1</text>
<line x1="162.60" y1="476.70" x2="169.60" y2="476.70" stroke="#231f20" stroke-width="1.15" stroke-linecap="butt"/>
<line x1="180.40" y1="476.70" x2="186.20" y2="476.70" stroke="#231f20" stroke-width="1.15" stroke-linecap="butt"/>
<line x1="183.30" y1="473.80" x2="183.30" y2="479.60" stroke="#231f20" stroke-width="1.15" stroke-linecap="butt"/>
<line x1="196.90" y1="476.70" x2="203.90" y2="476.70" stroke="#231f20" stroke-width="1.15" stroke-linecap="butt"/>
<line x1="215.20" y1="476.70" x2="221.00" y2="476.70" stroke="#231f20" stroke-width="1.15" stroke-linecap="butt"/>
<line x1="218.10" y1="473.80" x2="218.10" y2="479.60" stroke="#231f20" stroke-width="1.15" stroke-linecap="butt"/>
<line x1="162.60" y1="485.50" x2="169.60" y2="485.50" stroke="#231f20" stroke-width="1.15" stroke-linecap="butt"/>
<line x1="179.80" y1="485.50" x2="186.80" y2="485.50" stroke="#231f20" stroke-width="1.15" stroke-linecap="butt"/>
<line x1="197.50" y1="485.50" x2="203.30" y2="485.50" stroke="#231f20" stroke-width="1.15" stroke-linecap="butt"/>
<line x1="200.40" y1="482.60" x2="200.40" y2="488.40" stroke="#231f20" stroke-width="1.15" stroke-linecap="butt"/>
<line x1="215.20" y1="485.50" x2="221.00" y2="485.50" stroke="#231f20" stroke-width="1.15" stroke-linecap="butt"/>
<line x1="218.10" y1="482.60" x2="218.10" y2="488.40" stroke="#231f20" stroke-width="1.15" stroke-linecap="butt"/>
<text transform="translate(135.80,421.20) rotate(-90)" x="0" y="2.52" font-size="7" text-anchor="middle" fill="#231f20" stroke="#231f20" stroke-width="0.16" >% Cell death</text>
</g>
<g id="panelJ">
<text x="251.20" y="362.26" font-size="11" text-anchor="start" font-weight="bold" fill="#000" stroke="#000" stroke-width="0.16" >J</text>
<text x="319.40" y="361.12" font-size="7" text-anchor="middle" fill="#231f20" stroke="#231f20" stroke-width="0.16" >MYC-dependent TNBC</text>
<rect x="280.50" y="408.60" width="7.60" height="60.10" fill="#a7a9ac"/>
<line x1="284.30" y1="403.70" x2="284.30" y2="413.10" stroke="#4a4b4d" stroke-width="0.85" stroke-linecap="butt"/>
<line x1="282.00" y1="403.70" x2="286.60" y2="403.70" stroke="#4a4b4d" stroke-width="0.85" stroke-linecap="butt"/>
<line x1="282.00" y1="413.10" x2="286.60" y2="413.10" stroke="#4a4b4d" stroke-width="0.85" stroke-linecap="butt"/>
<rect x="296.20" y="454.00" width="7.50" height="14.70" fill="#5b5d5e"/>
<line x1="299.95" y1="451.40" x2="299.95" y2="456.70" stroke="#4a4b4d" stroke-width="0.85" stroke-linecap="butt"/>
<line x1="297.65" y1="451.40" x2="302.25" y2="451.40" stroke="#4a4b4d" stroke-width="0.85" stroke-linecap="butt"/>
<line x1="297.65" y1="456.70" x2="302.25" y2="456.70" stroke="#4a4b4d" stroke-width="0.85" stroke-linecap="butt"/>
<line x1="274.10" y1="377.75" x2="274.10" y2="469.05" stroke="#231f20" stroke-width="0.9" stroke-linecap="butt"/>
<line x1="270.70" y1="378.10" x2="274.10" y2="378.10" stroke="#231f20" stroke-width="0.9" stroke-linecap="butt"/>
<text x="269.10" y="380.48" font-size="6.6" text-anchor="end" fill="#231f20" stroke="#231f20" stroke-width="0.16" >1.5</text>
<line x1="270.70" y1="408.30" x2="274.10" y2="408.30" stroke="#231f20" stroke-width="0.9" stroke-linecap="butt"/>
<text x="269.10" y="410.68" font-size="6.6" text-anchor="end" fill="#231f20" stroke="#231f20" stroke-width="0.16" >1.0</text>
<line x1="270.70" y1="438.50" x2="274.10" y2="438.50" stroke="#231f20" stroke-width="0.9" stroke-linecap="butt"/>
<text x="269.10" y="440.88" font-size="6.6" text-anchor="end" fill="#231f20" stroke="#231f20" stroke-width="0.16" >0.5</text>
<line x1="270.70" y1="468.70" x2="274.10" y2="468.70" stroke="#231f20" stroke-width="0.9" stroke-linecap="butt"/>
<text x="269.10" y="471.08" font-size="6.6" text-anchor="end" fill="#231f20" stroke="#231f20" stroke-width="0.16" >0.0</text>
<line x1="273.65" y1="468.70" x2="308.30" y2="468.70" stroke="#231f20" stroke-width="0.9" stroke-linecap="butt"/>
<text x="290.80" y="377.02" font-size="7" text-anchor="middle" fill="#231f20" stroke="#231f20" stroke-width="0.16" >LM2</text>
<text x="292.10" y="399.17" font-size="9.5" text-anchor="middle" fill="#231f20" stroke="#231f20" stroke-width="0.32">***</text>
<line x1="284.80" y1="398.30" x2="300.70" y2="398.30" stroke="#231f20" stroke-width="0.9" stroke-linecap="butt"/>
<line x1="280.90" y1="479.00" x2="288.30" y2="479.00" stroke="#231f20" stroke-width="1.3" stroke-linecap="butt"/>
<line x1="297.70" y1="478.80" x2="303.70" y2="478.80" stroke="#231f20" stroke-width="1.3" stroke-linecap="butt"/>
<line x1="300.70" y1="475.80" x2="300.70" y2="481.80" stroke="#231f20" stroke-width="1.3" stroke-linecap="butt"/>
<rect x="336.50" y="408.00" width="10.30" height="60.70" fill="#a7a9ac"/>
<line x1="341.65" y1="404.80" x2="341.65" y2="411.80" stroke="#4a4b4d" stroke-width="0.85" stroke-linecap="butt"/>
<line x1="339.35" y1="404.80" x2="343.95" y2="404.80" stroke="#4a4b4d" stroke-width="0.85" stroke-linecap="butt"/>
<line x1="339.35" y1="411.80" x2="343.95" y2="411.80" stroke="#4a4b4d" stroke-width="0.85" stroke-linecap="butt"/>
<rect x="356.20" y="437.40" width="10.00" height="31.30" fill="#5b5d5e"/>
<line x1="361.20" y1="432.50" x2="361.20" y2="441.50" stroke="#4a4b4d" stroke-width="0.85" stroke-linecap="butt"/>
<line x1="358.90" y1="432.50" x2="363.50" y2="432.50" stroke="#4a4b4d" stroke-width="0.85" stroke-linecap="butt"/>
<line x1="358.90" y1="441.50" x2="363.50" y2="441.50" stroke="#4a4b4d" stroke-width="0.85" stroke-linecap="butt"/>
<line x1="329.80" y1="377.25" x2="329.80" y2="469.05" stroke="#231f20" stroke-width="0.9" stroke-linecap="butt"/>
<line x1="326.40" y1="377.60" x2="329.80" y2="377.60" stroke="#231f20" stroke-width="0.9" stroke-linecap="butt"/>
<text x="324.80" y="379.98" font-size="6.6" text-anchor="end" fill="#231f20" stroke="#231f20" stroke-width="0.16" >1.5</text>
<line x1="326.40" y1="407.97" x2="329.80" y2="407.97" stroke="#231f20" stroke-width="0.9" stroke-linecap="butt"/>
<text x="324.80" y="410.34" font-size="6.6" text-anchor="end" fill="#231f20" stroke="#231f20" stroke-width="0.16" >1.0</text>
<line x1="326.40" y1="438.33" x2="329.80" y2="438.33" stroke="#231f20" stroke-width="0.9" stroke-linecap="butt"/>
<text x="324.80" y="440.71" font-size="6.6" text-anchor="end" fill="#231f20" stroke="#231f20" stroke-width="0.16" >0.5</text>
<line x1="326.40" y1="468.70" x2="329.80" y2="468.70" stroke="#231f20" stroke-width="0.9" stroke-linecap="butt"/>
<text x="324.80" y="471.08" font-size="6.6" text-anchor="end" fill="#231f20" stroke="#231f20" stroke-width="0.16" >0.0</text>
<line x1="329.35" y1="468.70" x2="374.20" y2="468.70" stroke="#231f20" stroke-width="0.9" stroke-linecap="butt"/>
<text x="350.80" y="377.02" font-size="7" text-anchor="middle" fill="#231f20" stroke="#231f20" stroke-width="0.16" >SUM159</text>
<text x="352.20" y="392.17" font-size="9.5" text-anchor="middle" fill="#231f20" stroke="#231f20" stroke-width="0.32">***</text>
<line x1="341.10" y1="391.30" x2="363.50" y2="391.30" stroke="#231f20" stroke-width="0.9" stroke-linecap="butt"/>
<line x1="336.90" y1="479.00" x2="344.30" y2="479.00" stroke="#231f20" stroke-width="1.3" stroke-linecap="butt"/>
<line x1="356.60" y1="478.80" x2="362.60" y2="478.80" stroke="#231f20" stroke-width="1.3" stroke-linecap="butt"/>
<line x1="359.60" y1="475.80" x2="359.60" y2="481.80" stroke="#231f20" stroke-width="1.3" stroke-linecap="butt"/>
<text x="274.10" y="481.32" font-size="7" text-anchor="end" fill="#231f20" stroke="#231f20" stroke-width="0.16" >shHPRT1</text>
<text transform="translate(253.10,417.70) rotate(-90)" x="0" y="2.52" font-size="7" text-anchor="middle" fill="#231f20" stroke="#231f20" stroke-width="0.16" >Relative colony number</text>
</g>
<g id="panelK">
<text x="398.00" y="362.36" font-size="11" text-anchor="start" font-weight="bold" fill="#000" stroke="#000" stroke-width="0.16" >K</text>
<text x="465.00" y="361.22" font-size="7" text-anchor="middle" fill="#231f20" stroke="#231f20" stroke-width="0.16" >MYC-independent TNBC</text>
<rect x="428.20" y="407.00" width="9.60" height="61.30" fill="#a7a9ac"/>
<line x1="433.00" y1="402.20" x2="433.00" y2="411.10" stroke="#2b2b2c" stroke-width="0.85" stroke-linecap="butt"/>
<line x1="430.70" y1="402.20" x2="435.30" y2="402.20" stroke="#2b2b2c" stroke-width="0.85" stroke-linecap="butt"/>
<line x1="430.70" y1="411.10" x2="435.30" y2="411.10" stroke="#2b2b2c" stroke-width="0.85" stroke-linecap="butt"/>
<rect x="444.80" y="407.00" width="9.60" height="61.30" fill="#5b5d5e"/>
<line x1="449.60" y1="397.90" x2="449.60" y2="415.50" stroke="#5b5d5e" stroke-width="0.85" stroke-linecap="butt"/>
<line x1="447.30" y1="397.90" x2="451.90" y2="397.90" stroke="#5b5d5e" stroke-width="0.85" stroke-linecap="butt"/>
<line x1="447.30" y1="415.50" x2="451.90" y2="415.50" stroke="#5b5d5e" stroke-width="0.85" stroke-linecap="butt"/>
<line x1="422.20" y1="375.90" x2="422.20" y2="468.65" stroke="#231f20" stroke-width="0.9" stroke-linecap="butt"/>
<line x1="419.20" y1="376.25" x2="422.20" y2="376.25" stroke="#231f20" stroke-width="0.9" stroke-linecap="butt"/>
<text x="418.70" y="378.45" font-size="6.1" text-anchor="end" fill="#231f20" stroke="#231f20" stroke-width="0.16" >1.5</text>
<line x1="419.20" y1="406.93" x2="422.20" y2="406.93" stroke="#231f20" stroke-width="0.9" stroke-linecap="butt"/>
<text x="418.70" y="409.13" font-size="6.1" text-anchor="end" fill="#231f20" stroke="#231f20" stroke-width="0.16" >1.0</text>
<line x1="419.20" y1="437.62" x2="422.20" y2="437.62" stroke="#231f20" stroke-width="0.9" stroke-linecap="butt"/>
<text x="418.70" y="439.81" font-size="6.1" text-anchor="end" fill="#231f20" stroke="#231f20" stroke-width="0.16" >0.5</text>
<line x1="419.20" y1="468.30" x2="422.20" y2="468.30" stroke="#231f20" stroke-width="0.9" stroke-linecap="butt"/>
<text x="418.70" y="470.50" font-size="6.1" text-anchor="end" fill="#231f20" stroke="#231f20" stroke-width="0.16" >0.0</text>
<line x1="421.75" y1="468.30" x2="460.40" y2="468.30" stroke="#231f20" stroke-width="0.9" stroke-linecap="butt"/>
<text x="442.70" y="377.52" font-size="7" text-anchor="middle" fill="#231f20" stroke="#231f20" stroke-width="0.16" >HCC1937</text>
<text x="441.40" y="388.82" font-size="7" text-anchor="middle" fill="#231f20" stroke="#231f20" stroke-width="0.16" >ns</text>
<line x1="431.50" y1="390.20" x2="450.80" y2="390.20" stroke="#231f20" stroke-width="0.9" stroke-linecap="butt"/>
<line x1="430.50" y1="478.40" x2="437.90" y2="478.40" stroke="#231f20" stroke-width="1.3" stroke-linecap="butt"/>
<line x1="446.80" y1="478.20" x2="452.80" y2="478.20" stroke="#231f20" stroke-width="1.3" stroke-linecap="butt"/>
<line x1="449.80" y1="475.20" x2="449.80" y2="481.20" stroke="#231f20" stroke-width="1.3" stroke-linecap="butt"/>
<rect x="483.50" y="407.00" width="9.30" height="61.30" fill="#a7a9ac"/>
<line x1="488.15" y1="398.40" x2="488.15" y2="416.40" stroke="#2b2b2c" stroke-width="0.85" stroke-linecap="butt"/>
<line x1="485.85" y1="398.40" x2="490.45" y2="398.40" stroke="#2b2b2c" stroke-width="0.85" stroke-linecap="butt"/>
<line x1="485.85" y1="416.40" x2="490.45" y2="416.40" stroke="#2b2b2c" stroke-width="0.85" stroke-linecap="butt"/>
<rect x="502.50" y="402.70" width="9.60" height="65.60" fill="#5b5d5e"/>
<line x1="507.30" y1="395.00" x2="507.30" y2="410.00" stroke="#5b5d5e" stroke-width="0.85" stroke-linecap="butt"/>
<line x1="505.00" y1="395.00" x2="509.60" y2="395.00" stroke="#5b5d5e" stroke-width="0.85" stroke-linecap="butt"/>
<line x1="505.00" y1="410.00" x2="509.60" y2="410.00" stroke="#5b5d5e" stroke-width="0.85" stroke-linecap="butt"/>
<line x1="476.70" y1="375.90" x2="476.70" y2="468.65" stroke="#231f20" stroke-width="0.9" stroke-linecap="butt"/>
<line x1="473.70" y1="376.25" x2="476.70" y2="376.25" stroke="#231f20" stroke-width="0.9" stroke-linecap="butt"/>
<text x="473.20" y="378.45" font-size="6.1" text-anchor="end" fill="#231f20" stroke="#231f20" stroke-width="0.16" >1.5</text>
<line x1="473.70" y1="406.93" x2="476.70" y2="406.93" stroke="#231f20" stroke-width="0.9" stroke-linecap="butt"/>
<text x="473.20" y="409.13" font-size="6.1" text-anchor="end" fill="#231f20" stroke="#231f20" stroke-width="0.16" >1.0</text>
<line x1="473.70" y1="437.62" x2="476.70" y2="437.62" stroke="#231f20" stroke-width="0.9" stroke-linecap="butt"/>
<text x="473.20" y="439.81" font-size="6.1" text-anchor="end" fill="#231f20" stroke="#231f20" stroke-width="0.16" >0.5</text>
<line x1="473.70" y1="468.30" x2="476.70" y2="468.30" stroke="#231f20" stroke-width="0.9" stroke-linecap="butt"/>
<text x="473.20" y="470.50" font-size="6.1" text-anchor="end" fill="#231f20" stroke="#231f20" stroke-width="0.16" >0.0</text>
<line x1="476.25" y1="468.30" x2="519.60" y2="468.30" stroke="#231f20" stroke-width="0.9" stroke-linecap="butt"/>
<text x="494.90" y="377.52" font-size="7" text-anchor="middle" fill="#231f20" stroke="#231f20" stroke-width="0.16" >SKBR3</text>
<text x="497.60" y="388.82" font-size="7" text-anchor="middle" fill="#231f20" stroke="#231f20" stroke-width="0.16" >ns</text>
<line x1="487.50" y1="390.20" x2="507.50" y2="390.20" stroke="#231f20" stroke-width="0.9" stroke-linecap="butt"/>
<line x1="485.80" y1="478.40" x2="493.20" y2="478.40" stroke="#231f20" stroke-width="1.3" stroke-linecap="butt"/>
<line x1="503.10" y1="478.20" x2="509.10" y2="478.20" stroke="#231f20" stroke-width="1.3" stroke-linecap="butt"/>
<line x1="506.10" y1="475.20" x2="506.10" y2="481.20" stroke="#231f20" stroke-width="1.3" stroke-linecap="butt"/>
<text transform="translate(405.80,418.00) rotate(-90)" x="0" y="2.52" font-size="7" text-anchor="middle" fill="#231f20" stroke="#231f20" stroke-width="0.16" >Relative colony number</text>
</g>
<g id="panelL">
<text x="1.20" y="521.46" font-size="11" text-anchor="start" font-weight="bold" fill="#000" stroke="#000" stroke-width="0.16" >L</text>
<text x="170.60" y="525.92" font-size="7" text-anchor="middle" fill="#231f20" stroke="#231f20" stroke-width="0.16" >TNBC- LM2 xenograft with inducible HPRT1 shRNAs</text>
<text x="64.30" y="544.32" font-size="7" text-anchor="middle" fill="#231f20" stroke="#231f20" stroke-width="0.16" >shRNA 1</text>
<line x1="40.00" y1="556.75" x2="40.00" y2="650.05" stroke="#231f20" stroke-width="0.9" stroke-linecap="butt"/>
<line x1="39.55" y1="649.60" x2="83.30" y2="649.60" stroke="#231f20" stroke-width="0.9" stroke-linecap="butt"/>
<line x1="36.80" y1="558.40" x2="40.00" y2="558.40" stroke="#231f20" stroke-width="0.9" stroke-linecap="butt"/>
<text x="32.80" y="560.31" font-size="5.3" text-anchor="end" fill="#231f20" stroke="#231f20" stroke-width="0.16" >10<tspan font-size="3.0" dy="-2.0">6</tspan></text>
<line x1="36.80" y1="628.30" x2="40.00" y2="628.30" stroke="#231f20" stroke-width="0.9" stroke-linecap="butt"/>
<text x="32.80" y="630.21" font-size="5.3" text-anchor="end" fill="#231f20" stroke="#231f20" stroke-width="0.16" >10<tspan font-size="3.0" dy="-2.0">5</tspan></text>
<line x1="37.80" y1="607.26" x2="40.00" y2="607.26" stroke="#231f20" stroke-width="0.8" stroke-linecap="butt"/>
<line x1="37.80" y1="594.95" x2="40.00" y2="594.95" stroke="#231f20" stroke-width="0.8" stroke-linecap="butt"/>
<line x1="37.80" y1="586.22" x2="40.00" y2="586.22" stroke="#231f20" stroke-width="0.8" stroke-linecap="butt"/>
<line x1="37.80" y1="579.44" x2="40.00" y2="579.44" stroke="#231f20" stroke-width="0.8" stroke-linecap="butt"/>
<line x1="37.80" y1="573.91" x2="40.00" y2="573.91" stroke="#231f20" stroke-width="0.8" stroke-linecap="butt"/>
<line x1="37.80" y1="569.23" x2="40.00" y2="569.23" stroke="#231f20" stroke-width="0.8" stroke-linecap="butt"/>
<line x1="37.80" y1="565.17" x2="40.00" y2="565.17" stroke="#231f20" stroke-width="0.8" stroke-linecap="butt"/>
<line x1="37.80" y1="561.60" x2="40.00" y2="561.60" stroke="#231f20" stroke-width="0.8" stroke-linecap="butt"/>
<line x1="37.80" y1="649.34" x2="40.00" y2="649.34" stroke="#231f20" stroke-width="0.8" stroke-linecap="butt"/>
<line x1="37.80" y1="643.81" x2="40.00" y2="643.81" stroke="#231f20" stroke-width="0.8" stroke-linecap="butt"/>
<line x1="37.80" y1="639.13" x2="40.00" y2="639.13" stroke="#231f20" stroke-width="0.8" stroke-linecap="butt"/>
<line x1="37.80" y1="635.07" x2="40.00" y2="635.07" stroke="#231f20" stroke-width="0.8" stroke-linecap="butt"/>
<line x1="37.80" y1="631.50" x2="40.00" y2="631.50" stroke="#231f20" stroke-width="0.8" stroke-linecap="butt"/>
<circle cx="54.40" cy="570.00" r="1.4" fill="#000"/>
<circle cx="54.40" cy="578.30" r="1.4" fill="#000"/>
<circle cx="54.00" cy="583.60" r="1.4" fill="#000"/>
<circle cx="54.00" cy="604.30" r="1.4" fill="#000"/>
<line x1="47.60" y1="582.20" x2="61.20" y2="582.20" stroke="#000" stroke-width="1.3" stroke-linecap="butt"/>
<line x1="54.40" y1="571.90" x2="54.40" y2="598.90" stroke="#000" stroke-width="0.8" stroke-linecap="butt"/>
<line x1="50.60" y1="571.90" x2="58.20" y2="571.90" stroke="#000" stroke-width="0.8" stroke-linecap="butt"/>
<line x1="50.60" y1="598.90" x2="58.20" y2="598.90" stroke="#000" stroke-width="0.8" stroke-linecap="butt"/>
<polygon points="72.90,573.78 75.70,573.78 74.30,576.30" fill="#ed1c24"/>
<polygon points="72.90,606.08 75.70,606.08 74.30,608.60" fill="#ed1c24"/>
<polygon points="75.10,609.98 77.90,609.98 76.50,612.50" fill="#ed1c24"/>
<polygon points="70.90,615.38 73.70,615.38 72.30,617.90" fill="#ed1c24"/>
<polygon points="72.90,618.78 75.70,618.78 74.30,621.30" fill="#ed1c24"/>
<polygon points="72.90,623.28 75.70,623.28 74.30,625.80" fill="#ed1c24"/>
<polygon points="72.90,627.68 75.70,627.68 74.30,630.20" fill="#ed1c24"/>
<polygon points="72.90,631.38 75.70,631.38 74.30,633.90" fill="#ed1c24"/>
<polygon points="70.20,643.08 73.00,643.08 71.60,645.60" fill="#ed1c24"/>
<polygon points="76.30,643.08 79.10,643.08 77.70,645.60" fill="#ed1c24"/>
<line x1="67.50" y1="619.00" x2="81.10" y2="619.00" stroke="#ed1c24" stroke-width="1.3" stroke-linecap="butt"/>
<line x1="74.30" y1="611.10" x2="74.30" y2="633.70" stroke="#ed1c24" stroke-width="0.8" stroke-linecap="butt"/>
<line x1="71.00" y1="611.10" x2="77.60" y2="611.10" stroke="#ed1c24" stroke-width="0.8" stroke-linecap="butt"/>
<line x1="71.00" y1="633.70" x2="77.60" y2="633.70" stroke="#ed1c24" stroke-width="0.8" stroke-linecap="butt"/>
<text x="61.30" y="559.67" font-size="9.5" text-anchor="middle" fill="#231f20" stroke="#231f20" stroke-width="0.32">*</text>
<line x1="50.20" y1="560.10" x2="73.00" y2="560.10" stroke="#231f20" stroke-width="0.9" stroke-linecap="butt"/>
<text x="18.40" y="657.72" font-size="7" text-anchor="middle" fill="#231f20" stroke="#231f20" stroke-width="0.16" >DOX</text>
<text x="18.40" y="666.72" font-size="7" text-anchor="middle" fill="#231f20" stroke="#231f20" stroke-width="0.16" >(shHPRT1)</text>
<line x1="50.90" y1="658.90" x2="57.90" y2="658.90" stroke="#231f20" stroke-width="1.2" stroke-linecap="butt"/>
<line x1="70.60" y1="658.70" x2="76.40" y2="658.70" stroke="#231f20" stroke-width="1.2" stroke-linecap="butt"/>
<line x1="73.50" y1="655.80" x2="73.50" y2="661.60" stroke="#231f20" stroke-width="1.2" stroke-linecap="butt"/>
<text transform="translate(13.50,598.70) rotate(-90)" x="0" y="2.52" font-size="7" text-anchor="middle" fill="#231f20" stroke="#231f20" stroke-width="0.16" >Normalized shRNA abundance</text>
<text x="160.40" y="543.92" font-size="7" text-anchor="middle" fill="#231f20" stroke="#231f20" stroke-width="0.16" >shRNA 2</text>
<line x1="138.10" y1="557.20" x2="138.10" y2="649.95" stroke="#231f20" stroke-width="0.9" stroke-linecap="butt"/>
<line x1="137.65" y1="649.50" x2="186.90" y2="649.50" stroke="#231f20" stroke-width="0.9" stroke-linecap="butt"/>
<line x1="134.90" y1="558.70" x2="138.10" y2="558.70" stroke="#231f20" stroke-width="0.9" stroke-linecap="butt"/>
<text x="130.90" y="560.61" font-size="5.3" text-anchor="end" fill="#231f20" stroke="#231f20" stroke-width="0.16" >10<tspan font-size="3.0" dy="-2.0">6</tspan></text>
<line x1="134.90" y1="617.90" x2="138.10" y2="617.90" stroke="#231f20" stroke-width="0.9" stroke-linecap="butt"/>
<text x="130.90" y="619.81" font-size="5.3" text-anchor="end" fill="#231f20" stroke="#231f20" stroke-width="0.16" >10<tspan font-size="3.0" dy="-2.0">5</tspan></text>
<line x1="135.90" y1="600.08" x2="138.10" y2="600.08" stroke="#231f20" stroke-width="0.8" stroke-linecap="butt"/>
<line x1="135.90" y1="589.65" x2="138.10" y2="589.65" stroke="#231f20" stroke-width="0.8" stroke-linecap="butt"/>
<line x1="135.90" y1="582.26" x2="138.10" y2="582.26" stroke="#231f20" stroke-width="0.8" stroke-linecap="butt"/>
<line x1="135.90" y1="576.52" x2="138.10" y2="576.52" stroke="#231f20" stroke-width="0.8" stroke-linecap="butt"/>
<line x1="135.90" y1="571.83" x2="138.10" y2="571.83" stroke="#231f20" stroke-width="0.8" stroke-linecap="butt"/>
<line x1="135.90" y1="567.87" x2="138.10" y2="567.87" stroke="#231f20" stroke-width="0.8" stroke-linecap="butt"/>
<line x1="135.90" y1="564.44" x2="138.10" y2="564.44" stroke="#231f20" stroke-width="0.8" stroke-linecap="butt"/>
<line x1="135.90" y1="561.41" x2="138.10" y2="561.41" stroke="#231f20" stroke-width="0.8" stroke-linecap="butt"/>
<line x1="135.90" y1="648.85" x2="138.10" y2="648.85" stroke="#231f20" stroke-width="0.8" stroke-linecap="butt"/>
<line x1="135.90" y1="641.46" x2="138.10" y2="641.46" stroke="#231f20" stroke-width="0.8" stroke-linecap="butt"/>
<line x1="135.90" y1="635.72" x2="138.10" y2="635.72" stroke="#231f20" stroke-width="0.8" stroke-linecap="butt"/>
<line x1="135.90" y1="631.03" x2="138.10" y2="631.03" stroke="#231f20" stroke-width="0.8" stroke-linecap="butt"/>
<line x1="135.90" y1="627.07" x2="138.10" y2="627.07" stroke="#231f20" stroke-width="0.8" stroke-linecap="butt"/>
<line x1="135.90" y1="623.64" x2="138.10" y2="623.64" stroke="#231f20" stroke-width="0.8" stroke-linecap="butt"/>
<line x1="135.90" y1="620.61" x2="138.10" y2="620.61" stroke="#231f20" stroke-width="0.8" stroke-linecap="butt"/>
<circle cx="152.20" cy="585.10" r="1.4" fill="#000"/>
<circle cx="148.50" cy="594.90" r="1.4" fill="#000"/>
<circle cx="156.20" cy="594.90" r="1.4" fill="#000"/>
<circle cx="152.20" cy="611.50" r="1.4" fill="#000"/>
<line x1="145.40" y1="594.90" x2="159.00" y2="594.90" stroke="#000" stroke-width="1.3" stroke-linecap="butt"/>
<line x1="152.20" y1="586.50" x2="152.20" y2="606.30" stroke="#000" stroke-width="0.8" stroke-linecap="butt"/>
<line x1="149.10" y1="586.50" x2="155.30" y2="586.50" stroke="#000" stroke-width="0.8" stroke-linecap="butt"/>
<line x1="149.10" y1="606.30" x2="155.30" y2="606.30" stroke="#000" stroke-width="0.8" stroke-linecap="butt"/>
<polygon points="171.40,594.38 174.20,594.38 172.80,596.90" fill="#ed1c24"/>
<polygon points="171.40,601.68 174.20,601.68 172.80,604.20" fill="#ed1c24"/>
<polygon points="171.40,607.28 174.20,607.28 172.80,609.80" fill="#ed1c24"/>
<polygon points="171.40,610.98 174.20,610.98 172.80,613.50" fill="#ed1c24"/>
<polygon points="167.90,616.18 170.70,616.18 169.30,618.70" fill="#ed1c24"/>
<polygon points="175.10,616.18 177.90,616.18 176.50,618.70" fill="#ed1c24"/>
<polygon points="168.90,619.98 171.70,619.98 170.30,622.50" fill="#ed1c24"/>
<polygon points="174.10,619.58 176.90,619.58 175.50,622.10" fill="#ed1c24"/>
<polygon points="171.40,622.88 174.20,622.88 172.80,625.40" fill="#ed1c24"/>
<polygon points="171.40,625.98 174.20,625.98 172.80,628.50" fill="#ed1c24"/>
<polygon points="171.40,640.48 174.20,640.48 172.80,643.00" fill="#ed1c24"/>
<line x1="165.90" y1="618.40" x2="179.70" y2="618.40" stroke="#ed1c24" stroke-width="1.3" stroke-linecap="butt"/>
<line x1="172.80" y1="608.00" x2="172.80" y2="626.70" stroke="#ed1c24" stroke-width="0.8" stroke-linecap="butt"/>
<line x1="169.80" y1="608.00" x2="175.80" y2="608.00" stroke="#ed1c24" stroke-width="0.8" stroke-linecap="butt"/>
<line x1="169.80" y1="626.70" x2="175.80" y2="626.70" stroke="#ed1c24" stroke-width="0.8" stroke-linecap="butt"/>
<text x="157.40" y="558.77" font-size="9.5" text-anchor="middle" fill="#231f20" stroke="#231f20" stroke-width="0.32">**</text>
<line x1="147.40" y1="561.20" x2="170.30" y2="561.20" stroke="#6d6e71" stroke-width="1.3" stroke-linecap="butt"/>
<line x1="148.10" y1="658.90" x2="155.10" y2="658.90" stroke="#231f20" stroke-width="1.2" stroke-linecap="butt"/>
<line x1="169.50" y1="658.70" x2="175.30" y2="658.70" stroke="#231f20" stroke-width="1.2" stroke-linecap="butt"/>
<line x1="172.40" y1="655.80" x2="172.40" y2="661.60" stroke="#231f20" stroke-width="1.2" stroke-linecap="butt"/>
<text x="263.70" y="543.92" font-size="7" text-anchor="middle" fill="#231f20" stroke="#231f20" stroke-width="0.16" >shRNA 3</text>
<line x1="240.60" y1="557.20" x2="240.60" y2="649.95" stroke="#231f20" stroke-width="0.9" stroke-linecap="butt"/>
<line x1="240.15" y1="649.50" x2="288.80" y2="649.50" stroke="#231f20" stroke-width="0.9" stroke-linecap="butt"/>
<line x1="237.40" y1="558.50" x2="240.60" y2="558.50" stroke="#231f20" stroke-width="0.9" stroke-linecap="butt"/>
<text x="233.40" y="560.41" font-size="5.3" text-anchor="end" fill="#231f20" stroke="#231f20" stroke-width="0.16" >10<tspan font-size="3.0" dy="-2.0">5</tspan></text>
<line x1="237.40" y1="602.10" x2="240.60" y2="602.10" stroke="#231f20" stroke-width="0.9" stroke-linecap="butt"/>
<text x="233.40" y="604.01" font-size="5.3" text-anchor="end" fill="#231f20" stroke="#231f20" stroke-width="0.16" >10<tspan font-size="3.0" dy="-2.0">4</tspan></text>
<line x1="237.40" y1="645.80" x2="240.60" y2="645.80" stroke="#231f20" stroke-width="0.9" stroke-linecap="butt"/>
<text x="233.40" y="647.71" font-size="5.3" text-anchor="end" fill="#231f20" stroke="#231f20" stroke-width="0.16" >10<tspan font-size="3.0" dy="-2.0">3</tspan></text>
<line x1="238.40" y1="589.01" x2="240.60" y2="589.01" stroke="#231f20" stroke-width="0.8" stroke-linecap="butt"/>
<line x1="238.40" y1="581.32" x2="240.60" y2="581.32" stroke="#231f20" stroke-width="0.8" stroke-linecap="butt"/>
<line x1="238.40" y1="575.87" x2="240.60" y2="575.87" stroke="#231f20" stroke-width="0.8" stroke-linecap="butt"/>
<line x1="238.40" y1="571.64" x2="240.60" y2="571.64" stroke="#231f20" stroke-width="0.8" stroke-linecap="butt"/>
<line x1="238.40" y1="568.18" x2="240.60" y2="568.18" stroke="#231f20" stroke-width="0.8" stroke-linecap="butt"/>
<line x1="238.40" y1="565.26" x2="240.60" y2="565.26" stroke="#231f20" stroke-width="0.8" stroke-linecap="butt"/>
<line x1="238.40" y1="562.73" x2="240.60" y2="562.73" stroke="#231f20" stroke-width="0.8" stroke-linecap="butt"/>
<line x1="238.40" y1="560.50" x2="240.60" y2="560.50" stroke="#231f20" stroke-width="0.8" stroke-linecap="butt"/>
<line x1="238.40" y1="632.66" x2="240.60" y2="632.66" stroke="#231f20" stroke-width="0.8" stroke-linecap="butt"/>
<line x1="238.40" y1="624.97" x2="240.60" y2="624.97" stroke="#231f20" stroke-width="0.8" stroke-linecap="butt"/>
<line x1="238.40" y1="619.52" x2="240.60" y2="619.52" stroke="#231f20" stroke-width="0.8" stroke-linecap="butt"/>
<line x1="238.40" y1="615.29" x2="240.60" y2="615.29" stroke="#231f20" stroke-width="0.8" stroke-linecap="butt"/>
<line x1="238.40" y1="611.83" x2="240.60" y2="611.83" stroke="#231f20" stroke-width="0.8" stroke-linecap="butt"/>
<line x1="238.40" y1="608.91" x2="240.60" y2="608.91" stroke="#231f20" stroke-width="0.8" stroke-linecap="butt"/>
<line x1="238.40" y1="606.38" x2="240.60" y2="606.38" stroke="#231f20" stroke-width="0.8" stroke-linecap="butt"/>
<line x1="238.40" y1="604.15" x2="240.60" y2="604.15" stroke="#231f20" stroke-width="0.8" stroke-linecap="butt"/>
<line x1="238.40" y1="647.80" x2="240.60" y2="647.80" stroke="#231f20" stroke-width="0.8" stroke-linecap="butt"/>
<circle cx="249.30" cy="591.70" r="1.4" fill="#000"/>
<circle cx="259.10" cy="591.70" r="1.4" fill="#000"/>
<circle cx="254.10" cy="596.90" r="1.4" fill="#000"/>
<line x1="247.20" y1="591.70" x2="261.20" y2="591.70" stroke="#000" stroke-width="1.3" stroke-linecap="butt"/>
<line x1="254.20" y1="591.20" x2="254.20" y2="595.50" stroke="#000" stroke-width="0.8" stroke-linecap="butt"/>
<line x1="251.80" y1="591.20" x2="256.60" y2="591.20" stroke="#000" stroke-width="0.8" stroke-linecap="butt"/>
<line x1="251.80" y1="595.50" x2="256.60" y2="595.50" stroke="#000" stroke-width="0.8" stroke-linecap="butt"/>
<polygon points="273.50,560.68 276.30,560.68 274.90,563.20" fill="#ed1c24"/>
<polygon points="273.50,593.28 276.30,593.28 274.90,595.80" fill="#ed1c24"/>
<polygon points="273.50,597.08 276.30,597.08 274.90,599.60" fill="#ed1c24"/>
<polygon points="273.50,600.58 276.30,600.58 274.90,603.10" fill="#ed1c24"/>
<polygon points="273.50,606.88 276.30,606.88 274.90,609.40" fill="#ed1c24"/>
<polygon points="270.80,614.58 273.60,614.58 272.20,617.10" fill="#ed1c24"/>
<polygon points="276.40,616.58 279.20,616.58 277.80,619.10" fill="#ed1c24"/>
<polygon points="273.50,619.78 276.30,619.78 274.90,622.30" fill="#ed1c24"/>
<polygon points="273.50,637.98 276.30,637.98 274.90,640.50" fill="#ed1c24"/>
<polygon points="273.50,644.88 276.30,644.88 274.90,647.40" fill="#ed1c24"/>
<line x1="267.90" y1="612.10" x2="281.90" y2="612.10" stroke="#ed1c24" stroke-width="1.3" stroke-linecap="butt"/>
<line x1="274.90" y1="598.60" x2="274.90" y2="624.60" stroke="#ed1c24" stroke-width="0.8" stroke-linecap="butt"/>
<line x1="272.20" y1="598.60" x2="277.60" y2="598.60" stroke="#ed1c24" stroke-width="0.8" stroke-linecap="butt"/>
<line x1="272.20" y1="624.60" x2="277.60" y2="624.60" stroke="#ed1c24" stroke-width="0.8" stroke-linecap="butt"/>
<text x="263.40" y="559.77" font-size="9.5" text-anchor="middle" fill="#231f20" stroke="#231f20" stroke-width="0.32">**</text>
<line x1="253.00" y1="559.70" x2="275.70" y2="559.70" stroke="#231f20" stroke-width="0.9" stroke-linecap="butt"/>
<line x1="249.50" y1="661.40" x2="256.50" y2="661.40" stroke="#231f20" stroke-width="1.2" stroke-linecap="butt"/>
<line x1="272.00" y1="661.20" x2="277.80" y2="661.20" stroke="#231f20" stroke-width="1.2" stroke-linecap="butt"/>
<line x1="274.90" y1="658.30" x2="274.90" y2="664.10" stroke="#231f20" stroke-width="1.2" stroke-linecap="butt"/>
</g>
<g id="panelM">
<text x="314.20" y="521.96" font-size="11" text-anchor="start" font-weight="bold" fill="#000" stroke="#000" stroke-width="0.16" >M</text>
<text x="372.60" y="524.22" font-size="7" text-anchor="middle" fill="#231f20" stroke="#231f20" stroke-width="0.16" >TCGA breast cancer</text>
<text x="374.40" y="532.82" font-size="7" text-anchor="middle" fill="#231f20" stroke="#231f20" stroke-width="0.16" >(<tspan font-style="italic">n</tspan> = 1084)</text>
<text x="375.80" y="542.97" font-size="9.5" text-anchor="middle" fill="#231f20" stroke="#231f20" stroke-width="0.32">***</text>
<line x1="364.50" y1="541.80" x2="388.00" y2="541.80" stroke="#231f20" stroke-width="0.9" stroke-linecap="butt"/>
<line x1="348.50" y1="547.45" x2="348.50" y2="650.20" stroke="#231f20" stroke-width="0.9" stroke-linecap="butt"/>
<line x1="348.05" y1="649.75" x2="404.50" y2="649.75" stroke="#231f20" stroke-width="0.9" stroke-linecap="butt"/>
<line x1="343.10" y1="582.30" x2="348.50" y2="582.30" stroke="#231f20" stroke-width="0.9" stroke-linecap="butt"/>
<line x1="343.10" y1="649.75" x2="348.50" y2="649.75" stroke="#231f20" stroke-width="0.9" stroke-linecap="butt"/>
<text x="339.20" y="584.82" font-size="7" text-anchor="end" fill="#231f20" stroke="#231f20" stroke-width="0.16" >2</text>
<text x="339.20" y="652.92" font-size="7" text-anchor="end" fill="#231f20" stroke="#231f20" stroke-width="0.16" >−2</text>
<line x1="363.95" y1="585.60" x2="363.95" y2="608.00" stroke="#6d6e71" stroke-width="1.3" stroke-linecap="butt"/>
<line x1="363.95" y1="628.20" x2="363.95" y2="637.80" stroke="#6d6e71" stroke-width="1.3" stroke-linecap="butt"/>
<line x1="359.95" y1="585.60" x2="367.95" y2="585.60" stroke="#6d6e71" stroke-width="1.3" stroke-linecap="butt"/>
<line x1="359.95" y1="637.80" x2="367.95" y2="637.80" stroke="#6d6e71" stroke-width="1.3" stroke-linecap="butt"/>
<rect x="356.60" y="608.00" width="14.70" height="20.20" fill="#fff" stroke="#6d6e71" stroke-width="1.3"/>
<line x1="356.60" y1="619.80" x2="371.30" y2="619.80" stroke="#6d6e71" stroke-width="1.3" stroke-linecap="butt"/>
<line x1="388.30" y1="564.60" x2="388.30" y2="599.00" stroke="#ed1c24" stroke-width="1.3" stroke-linecap="butt"/>
<line x1="388.30" y1="624.50" x2="388.30" y2="632.60" stroke="#ed1c24" stroke-width="1.3" stroke-linecap="butt"/>
<line x1="384.30" y1="564.60" x2="392.30" y2="564.60" stroke="#ed1c24" stroke-width="1.3" stroke-linecap="butt"/>
<line x1="384.30" y1="632.60" x2="392.30" y2="632.60" stroke="#ed1c24" stroke-width="1.3" stroke-linecap="butt"/>
<rect x="380.70" y="599.00" width="15.20" height="25.50" fill="#fff" stroke="#ed1c24" stroke-width="1.3"/>
<line x1="380.70" y1="613.00" x2="395.90" y2="613.00" stroke="#ed1c24" stroke-width="1.3" stroke-linecap="butt"/>
<path d="M364.50,552.40h0M364.50,554.60h0M364.50,556.90h0M364.50,559.30h0M364.50,562.00h0M364.50,564.10h0M364.50,566.70h0M364.50,568.40h0M364.50,570.60h0M364.50,572.40h0M364.50,574.40h0M364.50,576.10h0" stroke="#000" stroke-width="2.0" stroke-linecap="round" fill="none"/>
<line x1="364.50" y1="579.95" x2="364.50" y2="585.05" stroke="#000" stroke-width="2.3" stroke-linecap="round"/>
<line x1="364.50" y1="638.55" x2="364.50" y2="643.25" stroke="#000" stroke-width="2.3" stroke-linecap="round"/>
<path d="M388.50,547.80h0M388.50,549.90h0M388.50,552.10h0" stroke="#000" stroke-width="2.0" stroke-linecap="round" fill="none"/>
<line x1="388.50" y1="557.95" x2="388.50" y2="564.05" stroke="#000" stroke-width="2.3" stroke-linecap="round"/>
<line x1="388.50" y1="633.35" x2="388.50" y2="638.85" stroke="#000" stroke-width="2.3" stroke-linecap="round"/>
<path d="M388.50,641.80h0M388.50,643.80h0" stroke="#000" stroke-width="1.8" stroke-linecap="round" fill="none"/>
<text x="354.80" y="661.32" font-size="7" text-anchor="middle" fill="#231f20" stroke="#231f20" stroke-width="0.16" >MYC-low</text>
<text x="390.70" y="661.32" font-size="7" text-anchor="middle" fill="#231f20" stroke="#231f20" stroke-width="0.16" >MYC-High</text>
<text transform="translate(327.70,594.50) rotate(-90)" x="0" y="2.52" font-size="7" text-anchor="middle" fill="#231f20" stroke="#231f20" stroke-width="0.16" >HPRT1 RNA expression</text>
</g>
<g id="panelN">
<text x="419.80" y="521.96" font-size="11" text-anchor="start" font-weight="bold" fill="#000" stroke="#000" stroke-width="0.16" >N</text>
<text x="475.70" y="524.22" font-size="7" text-anchor="middle" fill="#231f20" stroke="#231f20" stroke-width="0.16" >METABRIC breast cancer</text>
<text x="478.40" y="532.82" font-size="7" text-anchor="middle" fill="#231f20" stroke="#231f20" stroke-width="0.16" >(<tspan font-style="italic">n</tspan> = 1904)</text>
<text x="483.20" y="547.37" font-size="9.5" text-anchor="middle" fill="#231f20" stroke="#231f20" stroke-width="0.32">***</text>
<line x1="470.20" y1="546.20" x2="499.60" y2="546.20" stroke="#231f20" stroke-width="0.9" stroke-linecap="butt"/>
<line x1="459.90" y1="546.25" x2="459.90" y2="649.75" stroke="#231f20" stroke-width="0.9" stroke-linecap="butt"/>
<line x1="459.45" y1="649.30" x2="516.80" y2="649.30" stroke="#231f20" stroke-width="0.9" stroke-linecap="butt"/>
<line x1="454.50" y1="581.10" x2="459.90" y2="581.10" stroke="#231f20" stroke-width="0.9" stroke-linecap="butt"/>
<line x1="454.50" y1="649.30" x2="459.90" y2="649.30" stroke="#231f20" stroke-width="0.9" stroke-linecap="butt"/>
<text x="450.80" y="583.62" font-size="7" text-anchor="end" fill="#231f20" stroke="#231f20" stroke-width="0.16" >2</text>
<text x="450.80" y="652.42" font-size="7" text-anchor="end" fill="#231f20" stroke="#231f20" stroke-width="0.16" >−2</text>
<line x1="475.45" y1="590.20" x2="475.45" y2="608.50" stroke="#6d6e71" stroke-width="1.3" stroke-linecap="butt"/>
<line x1="475.45" y1="631.30" x2="475.45" y2="649.00" stroke="#6d6e71" stroke-width="1.3" stroke-linecap="butt"/>
<line x1="471.45" y1="590.20" x2="479.45" y2="590.20" stroke="#6d6e71" stroke-width="1.3" stroke-linecap="butt"/>
<line x1="471.45" y1="649.00" x2="479.45" y2="649.00" stroke="#6d6e71" stroke-width="1.3" stroke-linecap="butt"/>
<rect x="467.70" y="608.50" width="15.50" height="22.80" fill="#fff" stroke="#6d6e71" stroke-width="1.3"/>
<line x1="467.70" y1="620.30" x2="483.20" y2="620.30" stroke="#6d6e71" stroke-width="1.3" stroke-linecap="butt"/>
<line x1="499.40" y1="577.00" x2="499.40" y2="595.80" stroke="#ed1c24" stroke-width="1.3" stroke-linecap="butt"/>
<line x1="499.40" y1="617.10" x2="499.40" y2="634.20" stroke="#ed1c24" stroke-width="1.3" stroke-linecap="butt"/>
<line x1="495.40" y1="577.00" x2="503.40" y2="577.00" stroke="#ed1c24" stroke-width="1.3" stroke-linecap="butt"/>
<line x1="495.40" y1="634.20" x2="503.40" y2="634.20" stroke="#ed1c24" stroke-width="1.3" stroke-linecap="butt"/>
<rect x="491.80" y="595.80" width="15.20" height="21.30" fill="#fff" stroke="#ed1c24" stroke-width="1.3"/>
<line x1="491.80" y1="606.10" x2="507.00" y2="606.10" stroke="#ed1c24" stroke-width="1.3" stroke-linecap="butt"/>
<path d="M476.00,560.60h0M476.00,562.50h0M476.00,570.90h0M476.00,573.00h0M476.00,575.20h0M476.00,577.30h0" stroke="#000" stroke-width="2.0" stroke-linecap="round" fill="none"/>
<line x1="476.00" y1="584.55" x2="476.00" y2="589.65" stroke="#000" stroke-width="2.3" stroke-linecap="round"/>
<path d="M476.00,649.00h0" stroke="#000" stroke-width="1.8" stroke-linecap="round" fill="none"/>
<path d="M499.70,550.70h0M499.70,552.50h0M499.70,560.60h0" stroke="#000" stroke-width="2.0" stroke-linecap="round" fill="none"/>
<line x1="499.70" y1="565.55" x2="499.70" y2="576.45" stroke="#000" stroke-width="2.3" stroke-linecap="round"/>
<line x1="499.70" y1="634.95" x2="499.70" y2="648.45" stroke="#000" stroke-width="2.3" stroke-linecap="round"/>
<text x="467.10" y="661.32" font-size="7" text-anchor="middle" fill="#231f20" stroke="#231f20" stroke-width="0.16" >MYC-low</text>
<text x="502.60" y="661.32" font-size="7" text-anchor="middle" fill="#231f20" stroke="#231f20" stroke-width="0.16" >MYC-High</text>
<text transform="translate(438.30,595.00) rotate(-90)" x="0" y="2.52" font-size="7" text-anchor="middle" fill="#231f20" stroke="#231f20" stroke-width="0.16" >HPRT1 RNA expression</text>
</g>
</svg>
</body></html>
